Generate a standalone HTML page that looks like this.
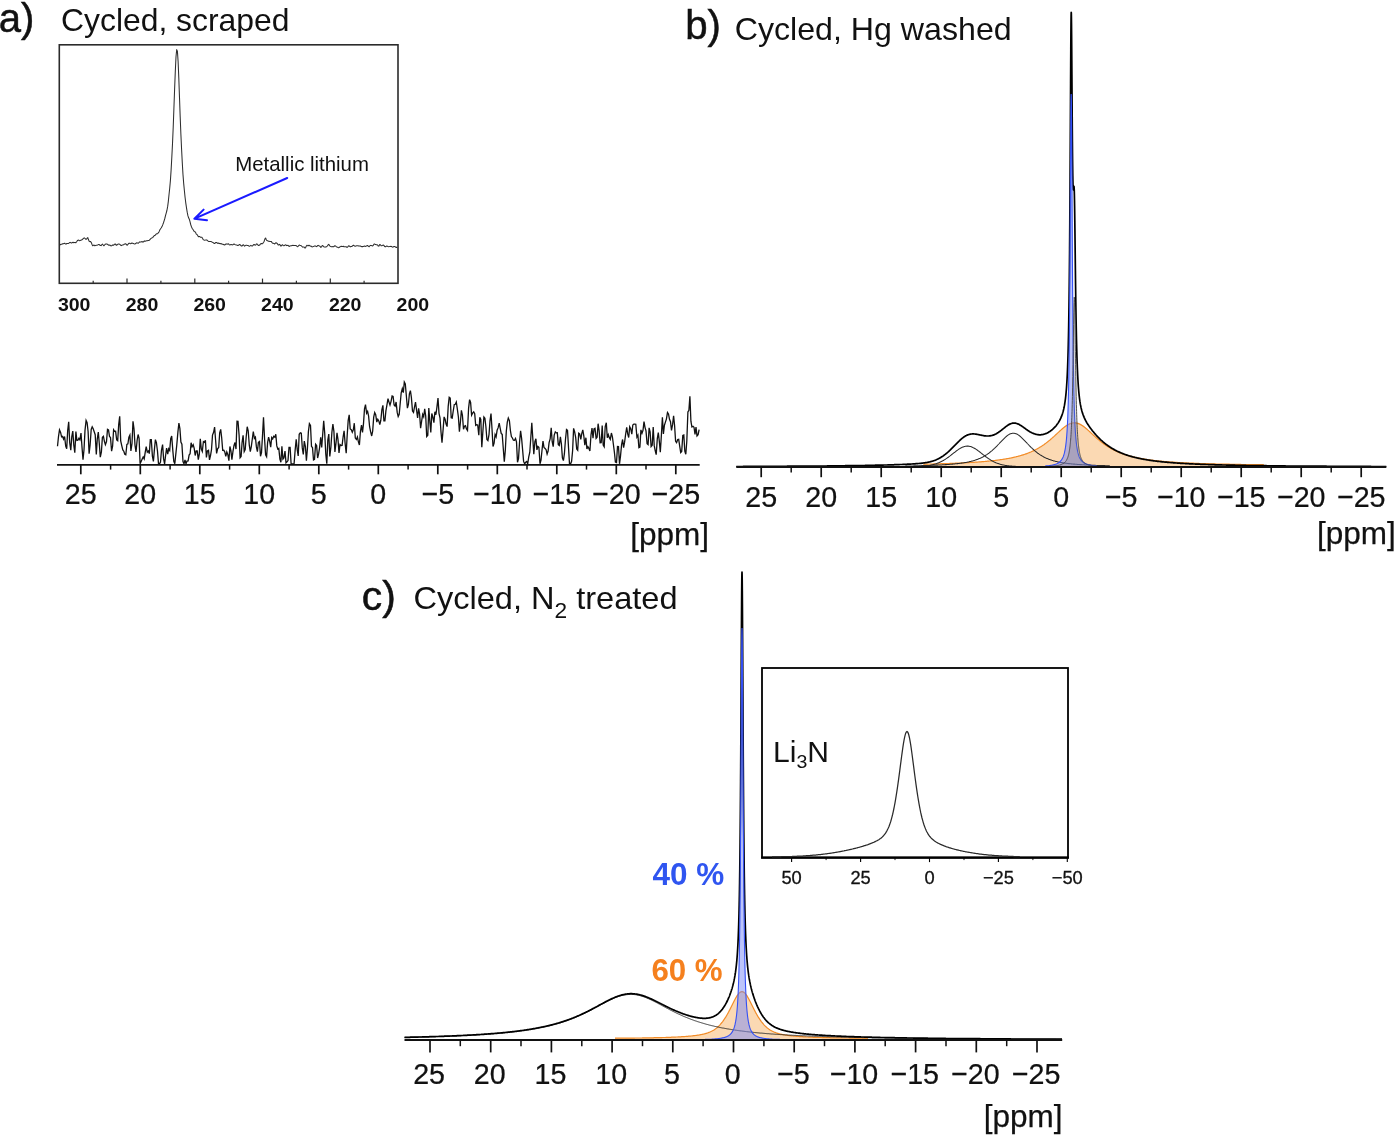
<!DOCTYPE html>
<html lang="en"><head><meta charset="utf-8"><title>NMR spectra</title>
<style>html,body{margin:0;padding:0;background:#fff;}svg{display:block;}</style>
</head><body>
<svg width="1396" height="1137" viewBox="0 0 1396 1137">
<rect x="59.3" y="44.8" width="338.7" height="238.5" fill="none" stroke="#2b2b2b" stroke-width="1.6"/>
<line x1="93.2" y1="283.3" x2="93.2" y2="280.8" stroke="#2b2b2b" stroke-width="1.2"/>
<line x1="127.0" y1="283.3" x2="127.0" y2="278.6" stroke="#2b2b2b" stroke-width="1.2"/>
<line x1="160.9" y1="283.3" x2="160.9" y2="280.8" stroke="#2b2b2b" stroke-width="1.2"/>
<line x1="194.8" y1="283.3" x2="194.8" y2="278.6" stroke="#2b2b2b" stroke-width="1.2"/>
<line x1="228.6" y1="283.3" x2="228.6" y2="280.8" stroke="#2b2b2b" stroke-width="1.2"/>
<line x1="262.5" y1="283.3" x2="262.5" y2="278.6" stroke="#2b2b2b" stroke-width="1.2"/>
<line x1="296.4" y1="283.3" x2="296.4" y2="280.8" stroke="#2b2b2b" stroke-width="1.2"/>
<line x1="330.3" y1="283.3" x2="330.3" y2="278.6" stroke="#2b2b2b" stroke-width="1.2"/>
<line x1="364.1" y1="283.3" x2="364.1" y2="280.8" stroke="#2b2b2b" stroke-width="1.2"/>
<text x="57.9" y="310.7" font-family="'Liberation Sans', sans-serif" font-size="19" font-weight="bold" fill="#111" textLength="32.6" lengthAdjust="spacingAndGlyphs">300</text>
<text x="125.7" y="310.7" font-family="'Liberation Sans', sans-serif" font-size="19" font-weight="bold" fill="#111" textLength="32.6" lengthAdjust="spacingAndGlyphs">280</text>
<text x="193.4" y="310.7" font-family="'Liberation Sans', sans-serif" font-size="19" font-weight="bold" fill="#111" textLength="32.6" lengthAdjust="spacingAndGlyphs">260</text>
<text x="261.1" y="310.7" font-family="'Liberation Sans', sans-serif" font-size="19" font-weight="bold" fill="#111" textLength="32.6" lengthAdjust="spacingAndGlyphs">240</text>
<text x="328.9" y="310.7" font-family="'Liberation Sans', sans-serif" font-size="19" font-weight="bold" fill="#111" textLength="32.6" lengthAdjust="spacingAndGlyphs">220</text>
<text x="396.6" y="310.7" font-family="'Liberation Sans', sans-serif" font-size="19" font-weight="bold" fill="#111" textLength="32.6" lengthAdjust="spacingAndGlyphs">200</text>
<path d="M59.8,245.1 60.5,244.5 61.2,244.2 61.9,244.2 62.6,243.8 63.3,243.8 64,243.5 64.7,243.2 65.4,244 66.1,244.1 66.8,243.4 67.5,243.4 68.2,243.5 68.9,243.2 69.6,242.6 70.3,242.4 71,242.9 71.7,243 72.4,242.4 73.1,242.2 73.8,242.8 74.5,242.6 75.2,242.4 75.9,242.7 76.6,241.8 77.3,240.7 78,240.2 78.7,240.1 79.4,240.7 80.1,240.5 80.8,240.2 81.5,240.1 82.2,239.5 82.9,239 83.6,238.3 84.3,237.9 85,238.4 85.7,239.3 86.4,239.2 87.1,238.2 87.8,237.6 88.5,239.8 89.2,241.2 89.9,241.6 90.6,241.6 91.3,242.5 92,244.4 92.7,245.7 93.4,245.2 94.1,245.1 94.8,245.8 95.5,245.6 96.2,245.2 96.9,245.2 97.6,245 98.3,244.6 99,244.5 99.7,245 100.4,245.5 101.1,245.6 101.8,244.7 102.5,244 103.2,245 103.9,245.8 104.6,245 105.3,244.2 106,243.9 106.7,244.1 107.4,244.3 108.1,244.7 108.8,245.3 109.5,245.1 110.2,245.2 110.9,245.9 111.6,245.8 112.3,245.1 113,245.1 113.7,245.1 114.4,244.4 115.1,243.9 115.8,244.8 116.5,245.3 117.2,244.8 117.9,244.2 118.6,244 119.3,244.1 120,244.5 120.7,245.3 121.4,245.6 122.1,245.1 122.8,244.9 123.5,244.7 124.2,244.3 124.9,243.9 125.6,243.7 126.3,244.4 127,245.3 127.7,244.8 128.4,243.8 129.1,243.3 129.8,243.3 130.5,243.7 131.2,243.5 131.9,243 132.6,243.2 133.3,243.5 134,243.8 134.7,244 135.4,243.8 136.1,243.1 136.8,242.7 137.5,243.1 138.2,243.3 138.9,242.7 139.6,241.9 140.3,242 141,242 141.7,241.6 142.4,241.8 143.1,242.2 143.8,241.5 144.5,240.9 145.2,241.2 145.9,241 146.6,240.8 147.3,240.8 148,240.6 148.7,240.4 149.4,240.2 150.1,239.4 150.8,238.6 151.5,238.1 152.2,237.8 152.9,237.4 153.6,236.3 154.3,235.6 155,235.5 155.7,234.5 156.4,233.8 157.1,233.9 157.8,233.4 158.5,232.7 159.2,231.4 159.9,229.8 160.6,228.7 161.3,227.8 162,226.6 162.7,224.9 163.4,223 164.1,220.8 164.8,218.5 165.5,215.7 166.2,213.2 166.9,210.5 167.6,206.9 168.3,201.6 169,194.8 169.7,188.3 170.4,180.6 171.1,170.1 171.8,157.5 172.5,143.8 173.2,127.6 173.9,108.4 174.6,89.3 175.3,71.4 176,56.8 176.7,49.6 177.4,51.1 178.1,61.3 178.8,77.9 179.5,97.4 180.2,116.9 180.9,134.5 181.6,149.5 182.3,163 183,174.7 183.7,183.6 184.4,190.8 185.1,197.5 185.8,203.1 186.5,207.9 187.2,212.2 187.9,215.7 188.6,217.8 189.3,219.2 190,221.7 190.7,224.5 191.4,226.6 192.1,228.3 192.8,229.3 193.5,230.3 194.2,231.5 194.9,231.7 195.6,232.5 196.3,234.1 197,234.5 197.7,235.5 198.4,236.7 199.1,236.5 199.8,236.6 200.5,237.3 201.2,237.3 201.9,237.3 202.6,238.5 203.3,239.6 204,240 204.7,240.2 205.4,240.1 206.1,239.9 206.8,240 207.5,240.6 208.2,241.2 208.9,241.4 209.6,241.5 210.3,241.4 211,241.5 211.7,241.9 212.4,242.3 213.1,242.6 213.8,243.2 214.5,243.5 215.2,243 215.9,242.5 216.6,242.5 217.3,243.1 218,243.4 218.7,243.1 219.4,243.4 220.1,243.8 220.8,243.6 221.5,243.7 222.2,244.2 222.9,244.2 223.6,244.4 224.3,245 225,244.8 225.7,244.1 226.4,243.9 227.1,244.3 227.8,243.9 228.5,243.7 229.2,244.6 229.9,245 230.6,244.6 231.3,244.5 232,244.9 232.7,244.7 233.4,244.2 234.1,244 234.8,244.4 235.5,244.7 236.2,244.9 236.9,245.1 237.6,245.4 238.3,245.4 239,244.8 239.7,244.5 240.4,245 241.1,245.8 241.8,246.1 242.5,245.5 243.2,244.7 243.9,245.4 244.6,246.1 245.3,245.6 246,245.2 246.7,245.3 247.4,245.4 248.1,245.6 248.8,245.9 249.5,246.3 250.2,245.9 250.9,245.4 251.6,245.9 252.3,246 253,245.4 253.7,244.6 254.4,244.5 255.1,245.3 255.8,244.9 256.5,243.9 257.2,244 257.9,245 258.6,245.5 259.3,245.3 260,244.8 260.7,243.8 261.4,243.5 262.1,243.9 262.8,243.4 263.5,242.5 264.2,241.2 264.9,238.8 265.6,238 266.3,239.7 267,240.6 267.7,240.8 268.4,241.2 269.1,241.2 269.8,241.4 270.5,241.4 271.2,241.4 271.9,242.4 272.6,243.3 273.3,243.2 274,243.6 274.7,243.9 275.4,243.1 276.1,242.8 276.8,243.2 277.5,243.9 278.2,244.9 278.9,244.9 279.6,244.3 280.3,245.1 281,246.1 281.7,245.3 282.4,244.7 283.1,245.4 283.8,245.8 284.5,245.5 285.2,244.8 285.9,244.9 286.6,245.6 287.3,245.4 288,245.2 288.7,246.1 289.4,246.4 290.1,245.9 290.8,245.8 291.5,245.8 292.2,245.4 292.9,245.3 293.6,245.5 294.3,245.5 295,245.6 295.7,245.5 296.4,245.7 297.1,246.5 297.8,246.7 298.5,245.8 299.2,245.1 299.9,245.3 300.6,245.4 301.3,245.8 302,246.5 302.7,247.2 303.4,247.1 304.1,247 304.8,247.9 305.5,247.9 306.2,246.2 306.9,245.2 307.6,245.8 308.3,245.8 309,245.3 309.7,245.8 310.4,246.1 311.1,246.1 311.8,246.8 312.5,246.9 313.2,246.5 313.9,246.3 314.6,246 315.3,245.9 316,246.4 316.7,246.6 317.4,245.8 318.1,245.4 318.8,245.8 319.5,245.9 320.2,246.6 320.9,247.4 321.6,246.6 322.3,245.6 323,245.8 323.7,246.7 324.4,246.9 325.1,247 325.8,247.1 326.5,246.7 327.2,246.1 327.9,245.2 328.6,244.4 329.3,245 330,246.1 330.7,246.5 331.4,246.7 332.1,246.6 332.8,246.8 333.5,246.8 334.2,246.3 334.9,245.8 335.6,246 336.3,246.7 337,247 337.7,247.2 338.4,247.7 339.1,247.5 339.8,247 340.5,246.6 341.2,246.2 341.9,246.5 342.6,246.4 343.3,246.2 344,246.7 344.7,246.8 345.4,246.7 346.1,246.8 346.8,247.3 347.5,247.3 348.2,246.2 348.9,245.7 349.6,246.4 350.3,246.9 351,246.5 351.7,246.4 352.4,246.1 353.1,245.3 353.8,245.3 354.5,245.9 355.2,246.2 355.9,246 356.6,245.8 357.3,245.8 358,245.7 358.7,246 359.4,246.1 360.1,245.9 360.8,246.2 361.5,246.6 362.2,246.6 362.9,246.6 363.6,246.4 364.3,246 365,246.2 365.7,246.4 366.4,246 367.1,245.6 367.8,245.6 368.5,246.5 369.2,246.7 369.9,245.8 370.6,245.4 371.3,245.6 372,245.8 372.7,246 373.4,245.2 374.1,244 374.8,244.1 375.5,244.6 376.2,244.8 376.9,244.8 377.6,245 378.3,246.1 379,245.9 379.7,244.6 380.4,244.8 381.1,245.8 381.8,245.8 382.5,245.4 383.2,245 383.9,245.4 384.6,246.5 385.3,246.9 386,246.4 386.7,246 387.4,246.2 388.1,246.5 388.8,246.7 389.5,246.6 390.2,246.4 390.9,246.3 391.6,246.4 392.3,247.1 393,247.2 393.7,246.6 394.4,246.5 395.1,246.7 395.8,247.3 396.5,247.5 397.2,247" fill="none" stroke="#2e2e2e" stroke-width="1.05" stroke-linejoin="round"/>
<text x="235.3" y="171" font-family="'Liberation Sans', sans-serif" font-size="19.8" fill="#111" textLength="133.6" lengthAdjust="spacingAndGlyphs">Metallic lithium</text>
<path d="M287.2,178 L194.6,218.6 M203.6,209.6 L194.4,218.7 L207,220.2" fill="none" stroke="#1a1aff" stroke-width="2" stroke-linecap="round" stroke-linejoin="round"/>
<text transform="translate(-1.2,32) scale(1.0,1)" font-family="'Liberation Sans', sans-serif" font-size="40" fill="#111" stroke="#111" stroke-width="0.5">a)</text>
<text x="61" y="31.2" font-family="'Liberation Sans', sans-serif" font-size="31.5" fill="#111" textLength="228.5" lengthAdjust="spacingAndGlyphs">Cycled, scraped</text>
<text transform="translate(685.2,39.4) scale(0.98,1)" font-family="'Liberation Sans', sans-serif" font-size="41" fill="#111" stroke="#111" stroke-width="0.5">b)</text>
<text x="734.7" y="40.0" font-family="'Liberation Sans', sans-serif" font-size="31.5" fill="#111" textLength="277" lengthAdjust="spacingAndGlyphs">Cycled, Hg washed</text>
<text transform="translate(361.8,609.8) scale(1.02,1)" font-family="'Liberation Sans', sans-serif" font-size="40" fill="#111" stroke="#111" stroke-width="0.5">c)</text>
<text x="413.5" y="609.4" font-family="'Liberation Sans', sans-serif" font-size="31.5" fill="#111" textLength="264" lengthAdjust="spacingAndGlyphs">Cycled, N<tspan font-size="22" dy="9">2</tspan><tspan dy="-9"> treated</tspan></text>
<line x1="57" y1="464.8" x2="699.7" y2="464.8" stroke="#111" stroke-width="1.7"/>
<line x1="675.8" y1="464.8" x2="675.8" y2="474.3" stroke="#111" stroke-width="1.7"/>
<text transform="translate(675.8,504.3) scale(0.955,1)" font-family="'Liberation Sans', sans-serif" font-size="30" fill="#111" stroke="#111" stroke-width="0.25" text-anchor="middle">−25</text>
<line x1="646.0" y1="464.8" x2="646.0" y2="469.6" stroke="#111" stroke-width="1.5"/>
<line x1="616.3" y1="464.8" x2="616.3" y2="474.3" stroke="#111" stroke-width="1.7"/>
<text transform="translate(616.3,504.3) scale(0.955,1)" font-family="'Liberation Sans', sans-serif" font-size="30" fill="#111" stroke="#111" stroke-width="0.25" text-anchor="middle">−20</text>
<line x1="586.5" y1="464.8" x2="586.5" y2="469.6" stroke="#111" stroke-width="1.5"/>
<line x1="556.8" y1="464.8" x2="556.8" y2="474.3" stroke="#111" stroke-width="1.7"/>
<text transform="translate(556.8,504.3) scale(0.955,1)" font-family="'Liberation Sans', sans-serif" font-size="30" fill="#111" stroke="#111" stroke-width="0.25" text-anchor="middle">−15</text>
<line x1="527.0" y1="464.8" x2="527.0" y2="469.6" stroke="#111" stroke-width="1.5"/>
<line x1="497.3" y1="464.8" x2="497.3" y2="474.3" stroke="#111" stroke-width="1.7"/>
<text transform="translate(497.3,504.3) scale(0.955,1)" font-family="'Liberation Sans', sans-serif" font-size="30" fill="#111" stroke="#111" stroke-width="0.25" text-anchor="middle">−10</text>
<line x1="467.6" y1="464.8" x2="467.6" y2="469.6" stroke="#111" stroke-width="1.5"/>
<line x1="437.8" y1="464.8" x2="437.8" y2="474.3" stroke="#111" stroke-width="1.7"/>
<text transform="translate(437.8,504.3) scale(0.955,1)" font-family="'Liberation Sans', sans-serif" font-size="30" fill="#111" stroke="#111" stroke-width="0.25" text-anchor="middle">−5</text>
<line x1="408.1" y1="464.8" x2="408.1" y2="469.6" stroke="#111" stroke-width="1.5"/>
<line x1="378.3" y1="464.8" x2="378.3" y2="474.3" stroke="#111" stroke-width="1.7"/>
<text transform="translate(378.3,504.3) scale(0.955,1)" font-family="'Liberation Sans', sans-serif" font-size="30" fill="#111" stroke="#111" stroke-width="0.25" text-anchor="middle">0</text>
<line x1="348.6" y1="464.8" x2="348.6" y2="469.6" stroke="#111" stroke-width="1.5"/>
<line x1="318.8" y1="464.8" x2="318.8" y2="474.3" stroke="#111" stroke-width="1.7"/>
<text transform="translate(318.8,504.3) scale(0.955,1)" font-family="'Liberation Sans', sans-serif" font-size="30" fill="#111" stroke="#111" stroke-width="0.25" text-anchor="middle">5</text>
<line x1="289.1" y1="464.8" x2="289.1" y2="469.6" stroke="#111" stroke-width="1.5"/>
<line x1="259.3" y1="464.8" x2="259.3" y2="474.3" stroke="#111" stroke-width="1.7"/>
<text transform="translate(259.3,504.3) scale(0.955,1)" font-family="'Liberation Sans', sans-serif" font-size="30" fill="#111" stroke="#111" stroke-width="0.25" text-anchor="middle">10</text>
<line x1="229.6" y1="464.8" x2="229.6" y2="469.6" stroke="#111" stroke-width="1.5"/>
<line x1="199.8" y1="464.8" x2="199.8" y2="474.3" stroke="#111" stroke-width="1.7"/>
<text transform="translate(199.8,504.3) scale(0.955,1)" font-family="'Liberation Sans', sans-serif" font-size="30" fill="#111" stroke="#111" stroke-width="0.25" text-anchor="middle">15</text>
<line x1="170.1" y1="464.8" x2="170.1" y2="469.6" stroke="#111" stroke-width="1.5"/>
<line x1="140.3" y1="464.8" x2="140.3" y2="474.3" stroke="#111" stroke-width="1.7"/>
<text transform="translate(140.3,504.3) scale(0.955,1)" font-family="'Liberation Sans', sans-serif" font-size="30" fill="#111" stroke="#111" stroke-width="0.25" text-anchor="middle">20</text>
<line x1="110.6" y1="464.8" x2="110.6" y2="469.6" stroke="#111" stroke-width="1.5"/>
<line x1="80.8" y1="464.8" x2="80.8" y2="474.3" stroke="#111" stroke-width="1.7"/>
<text transform="translate(80.8,504.3) scale(0.955,1)" font-family="'Liberation Sans', sans-serif" font-size="30" fill="#111" stroke="#111" stroke-width="0.25" text-anchor="middle">25</text>
<text x="709.1" y="544.5999999999999" font-family="'Liberation Sans', sans-serif" font-size="31.5" fill="#111" stroke="#111" stroke-width="0.25" text-anchor="end">[ppm]</text>
<path d="M57.5,446.3 58.5,436.5 59.5,429.9 60.6,432.4 61.6,436.8 62.6,436.4 63.6,439.1 64.6,436.6 65.7,446 66.7,448.7 67.7,430.2 68.7,421.8 69.7,442.6 70.8,450.1 71.8,436.6 72.8,431 73.8,445.3 74.8,452.7 75.9,431.6 76.9,440.5 77.9,440.2 78.9,438.3 79.9,439.8 81,433 82,447.1 83,459.8 84,449.8 85,430.4 86.1,420.4 87.1,422.6 88.1,431.5 89.1,453.6 90.1,445 91.2,429.4 92.2,426.8 93.2,428.7 94.2,431.7 95.2,434.7 96.3,454.5 97.3,438.8 98.3,432.1 99.3,443.8 100.3,457.2 101.4,451.8 102.4,437.2 103.4,436.2 104.4,441.3 105.4,444.6 106.5,441.6 107.5,429.4 108.5,430 109.5,436.4 110.5,437.5 111.6,451.2 112.6,446.2 113.6,429.8 114.6,431.4 115.6,431.3 116.7,439.8 117.7,440.6 118.7,424.5 119.7,416.3 120.7,440.8 121.8,445.8 122.8,449.9 123.8,451.2 124.8,454.3 125.8,454.8 126.9,444.3 127.9,443.8 128.9,437.2 129.9,435.1 130.9,450.9 132,443.5 133,421.4 134,428.8 135,445.1 136,452 137.1,440.5 138.1,434.5 139.1,438.4 140.1,463.8 141.1,461.6 142.2,459.1 143.2,456.9 144.2,458.9 145.2,452.3 146.2,446.7 147.3,452.1 148.3,451 149.3,453.6 150.3,439.7 151.3,439.6 152.4,456.1 153.4,461.4 154.4,449.6 155.4,439.6 156.4,442.7 157.5,451.2 158.5,463.8 159.5,463.8 160.5,462.1 161.5,450.2 162.6,444.6 163.6,458.9 164.6,463.8 165.6,455.5 166.6,448 167.7,454.1 168.7,448.8 169.7,450.4 170.7,438.7 171.7,436.1 172.8,450.4 173.8,461.4 174.8,463.8 175.8,454.1 176.8,444.7 177.9,432.1 178.9,423.1 179.9,428.6 180.9,442.1 181.9,444.2 183,461.6 184,463.8 185,459.9 186,463.8 187,461 188.1,460.9 189.1,455.1 190.1,453.7 191.1,442.7 192.1,446.8 193.2,444.8 194.2,448.3 195.2,455.5 196.2,450.8 197.2,450.8 198.3,459.6 199.3,454.2 200.3,438.9 201.3,449 202.3,451.4 203.4,441.6 204.4,442.3 205.4,440.2 206.4,457.5 207.4,450.8 208.5,450.2 209.5,459.9 210.5,455.5 211.5,449.7 212.5,435.1 213.6,432.3 214.6,427 215.6,440.2 216.6,453.4 217.6,448.8 218.7,447.5 219.7,432.8 220.7,429.4 221.7,438 222.7,450.4 223.8,450.3 224.8,452 225.8,456.3 226.8,451.9 227.8,454.5 228.9,460.7 229.9,446.5 230.9,450.6 231.9,459.7 232.9,451.9 234,445.5 235,442.5 236,449.1 237,421.2 238,421.4 239.1,435.3 240.1,457.7 241.1,456.5 242.1,442.3 243.1,435.4 244.2,451.6 245.2,449.6 246.2,436.8 247.2,426.7 248.2,430.8 249.3,445.2 250.3,451.7 251.3,446.6 252.3,439 253.3,431.5 254.4,438.4 255.4,437.2 256.4,446.9 257.4,451.6 258.4,442.3 259.5,441.5 260.5,456.3 261.5,452.6 262.5,435.7 263.5,417.2 264.6,439.5 265.6,454.9 266.6,456.7 267.6,442.6 268.6,437.1 269.7,441.3 270.7,447.1 271.7,437.5 272.7,438.9 273.7,436.3 274.8,437.1 275.8,434.2 276.8,445.9 277.8,449 278.8,448.4 279.9,459 280.9,462.3 281.9,446.4 282.9,459.1 283.9,457.9 285,451 286,462.9 287,461.9 288,460.6 289,447.3 290.1,447.3 291.1,463.8 292.1,463.8 293.1,463.8 294.1,463.5 295.2,449.5 296.2,439.3 297.2,449.4 298.2,455.9 299.2,434.3 300.3,432.9 301.3,433.3 302.3,447.9 303.3,454.4 304.3,441.1 305.4,446.5 306.4,460.8 307.4,448.8 308.4,431.6 309.4,423.6 310.5,425.4 311.5,446.5 312.5,447.6 313.5,460 314.5,459.4 315.6,444.2 316.6,445.5 317.6,458 318.6,453.9 319.6,447.6 320.7,437.4 321.7,447.5 322.7,434.2 323.7,420.9 324.7,433 325.8,454.2 326.8,463.8 327.8,440 328.8,434.1 329.8,456.5 330.9,447 331.9,432.2 332.9,424 333.9,431.3 334.9,452 336,443 337,432.9 338,439.6 339,453 340,444.6 341.1,445.5 342.1,445.4 343.1,437 344.1,430.9 345.1,443.3 346.2,453.3 347.2,435 348.2,420.4 349.2,414.9 350.2,429 351.3,429.7 352.3,432.2 353.3,429.8 354.3,423.2 355.3,438.1 356.4,439.4 357.4,436.9 358.4,441.8 359.4,445 360.4,431.8 361.5,425.1 362.5,432.4 363.5,423.6 364.5,408.8 365.5,404.6 366.6,413.2 367.6,411.4 368.6,416.1 369.6,426.7 370.6,431.7 371.7,436 372.7,430.8 373.7,417.1 374.7,412.6 375.7,414.7 376.8,422.1 377.8,419.3 378.8,420.9 379.8,424.7 380.8,420.5 381.9,409.6 382.9,405.4 383.9,420.9 384.9,420.8 385.9,410.9 387,404.7 388,398.6 389,402.1 390,405 391,401.6 392.1,396 393.1,396.5 394.1,405 395.1,406.1 396.1,402 397.2,412.4 398.2,416.5 399.2,414.4 400.2,403.5 401.2,392.8 402.3,388.7 403.3,392.7 404.3,382 405.3,384 406.3,395.2 407.4,408.2 408.4,404.5 409.4,393.8 410.4,390.7 411.4,397.6 412.5,411.1 413.5,412.4 414.5,407 415.5,402.1 416.5,409.6 417.6,418 418.6,408.4 419.6,414.2 420.6,428.2 421.6,421.3 422.7,414.4 423.7,416.8 424.7,408.9 425.7,416 426.7,436.6 427.8,435.3 428.8,408 429.8,421.1 430.8,432.5 431.8,413.5 432.9,417.4 433.9,422.6 434.9,411.8 435.9,414.7 436.9,407.3 438,398 439,413.3 440,417.8 441,432 442,442.6 443.1,429.6 444.1,416.9 445.1,419.3 446.1,424.1 447.1,426.6 448.2,406.4 449.2,397.2 450.2,398 451.2,417.7 452.2,418.1 453.3,410.5 454.3,404.5 455.3,404.3 456.3,402 457.3,408.8 458.4,417 459.4,431.8 460.4,422.2 461.4,410.4 462.4,415.2 463.5,429.3 464.5,426.3 465.5,425.7 466.5,428.9 467.5,430.5 468.6,408.1 469.6,399.7 470.6,402.4 471.6,415.1 472.6,413.2 473.7,411.9 474.7,413.8 475.7,425.3 476.7,424.6 477.7,424.9 478.8,435.1 479.8,417.3 480.8,419.4 481.8,447.3 482.8,432.6 483.9,417 484.9,418.2 485.9,426.7 486.9,439.6 487.9,440.7 489,434.6 490,420.8 491,413.5 492,428.7 493,446.5 494.1,443 495.1,434.5 496.1,436.9 497.1,430.3 498.1,427.9 499.2,423.1 500.2,428.4 501.2,433.5 502.2,434.4 503.2,447.5 504.3,461.6 505.3,450.5 506.3,431.2 507.3,422.2 508.3,418.1 509.4,420.6 510.4,430.5 511.4,436.5 512.4,438 513.4,440.2 514.5,440.3 515.5,438.5 516.5,441.9 517.5,462.3 518.5,458.6 519.6,441.5 520.6,430.9 521.6,438.4 522.6,449.8 523.6,461.4 524.7,463.8 525.7,462.2 526.7,461.5 527.7,463.8 528.7,457.1 529.8,452.2 530.8,437.7 531.8,422.8 532.8,438.3 533.8,454.1 534.9,441.7 535.9,438.7 536.9,449.9 537.9,446.4 538.9,447.3 540,463.8 541,460.1 542,450.2 543,441.1 544,447.5 545.1,448.5 546.1,449.7 547.1,454.1 548.1,451 549.1,442.6 550.2,438.6 551.2,427.8 552.2,441.7 553.2,446.7 554.2,435.1 555.3,431.9 556.3,432.9 557.3,432.7 558.3,444.6 559.3,445.4 560.4,436.8 561.4,444 562.4,457.8 563.4,460.6 564.4,453.7 565.5,439.2 566.5,429.5 567.5,430.4 568.5,447.2 569.5,463.8 570.6,463.8 571.6,461.3 572.6,450.8 573.6,428.4 574.6,431.7 575.7,437.7 576.7,449 577.7,450.2 578.7,433.2 579.7,433.8 580.8,439.3 581.8,433.5 582.8,429.9 583.8,435.8 584.8,445.1 585.9,437.7 586.9,448.9 587.9,446.6 588.9,448.4 589.9,450.9 591,434.8 592,428.1 593,438.1 594,428.9 595,428.3 596.1,438.4 597.1,437.2 598.1,423.7 599.1,430.4 600.1,442.8 601.2,442.6 602.2,425.6 603.2,445 604.2,446.8 605.2,426.5 606.3,422.7 607.3,437.8 608.3,434.6 609.3,437.7 610.3,439.4 611.4,433 612.4,436.8 613.4,444.5 614.4,452.3 615.4,462.1 616.5,462.5 617.5,446.4 618.5,446.5 619.5,463.8 620.5,456.1 621.6,444.6 622.6,439.5 623.6,447.6 624.6,442.2 625.6,434.5 626.7,427.4 627.7,433.9 628.7,437.5 629.7,426.8 630.7,428.7 631.8,434.1 632.8,425 633.8,424.1 634.8,424.2 635.8,424.3 636.9,437 637.9,435.2 638.9,447.7 639.9,447.2 640.9,429.9 642,433.2 643,430.3 644,421.7 645,427.3 646,430.9 647.1,443.6 648.1,444.6 649.1,427.8 650.1,431.9 651.1,446.6 652.2,445.3 653.2,427 654.2,445.4 655.2,450.6 656.2,454.7 657.3,438.7 658.3,432.6 659.3,441.1 660.3,452.3 661.3,436.6 662.4,417.4 663.4,434 664.4,425.4 665.4,422.1 666.4,419.1 667.5,412.5 668.5,413.9 669.5,419.3 670.5,421.7 671.5,430.5 672.6,424.4 673.6,415.9 674.6,425.7 675.6,441.3 676.6,442.6 677.7,439.6 678.7,439.3 679.7,446.2 680.7,452.5 681.7,451.4 682.8,435.4 683.8,435 684.8,451.1 685.8,454.3 686.8,441.2 687.9,412 688.9,410.4 689.9,396.2 690.9,421.2 691.9,427 693,426.3 694,427.2 695,434.4 696,427.1 697,435.9 698.1,434.6 699.1,429.6" fill="none" stroke="#111" stroke-width="1.3" stroke-linejoin="miter"/>
<path d="M923.3,464.2 923.8,464.2 924.3,464.1 924.8,464.1 925.3,464.1 925.8,464.1 926.3,464.1 926.8,464.1 927.3,464.1 927.8,464.1 928.3,464.1 928.8,464 929.3,464 929.8,464 930.3,464 930.8,464 931.3,464 931.8,464 932.3,464 932.8,464 933.3,463.9 933.8,463.9 934.3,463.9 934.8,463.9 935.3,463.9 935.8,463.9 936.3,463.9 936.8,463.8 937.3,463.8 937.8,463.8 938.3,463.8 938.8,463.8 939.3,463.8 939.8,463.8 940.3,463.8 940.8,463.7 941.3,463.7 941.8,463.7 942.3,463.7 942.8,463.7 943.3,463.7 943.8,463.6 944.3,463.6 944.8,463.6 945.3,463.6 945.8,463.6 946.3,463.6 946.8,463.5 947.3,463.5 947.8,463.5 948.3,463.5 948.8,463.5 949.3,463.5 949.8,463.4 950.3,463.4 950.8,463.4 951.3,463.4 951.8,463.4 952.3,463.4 952.8,463.3 953.3,463.3 953.8,463.3 954.3,463.3 954.8,463.3 955.3,463.2 955.8,463.2 956.3,463.2 956.8,463.2 957.3,463.2 957.8,463.1 958.3,463.1 958.8,463.1 959.3,463.1 959.8,463 960.3,463 960.8,463 961.3,463 961.8,462.9 962.3,462.9 962.8,462.9 963.3,462.9 963.8,462.9 964.3,462.8 964.8,462.8 965.3,462.8 965.8,462.8 966.3,462.7 966.8,462.7 967.3,462.7 967.8,462.6 968.3,462.6 968.8,462.6 969.3,462.6 969.8,462.5 970.3,462.5 970.8,462.5 971.3,462.4 971.8,462.4 972.3,462.4 972.8,462.4 973.3,462.3 973.8,462.3 974.3,462.3 974.8,462.2 975.3,462.2 975.8,462.2 976.3,462.1 976.8,462.1 977.3,462.1 977.8,462 978.3,462 978.8,461.9 979.3,461.9 979.8,461.9 980.3,461.8 980.8,461.8 981.3,461.8 981.8,461.7 982.3,461.7 982.8,461.6 983.3,461.6 983.8,461.6 984.3,461.5 984.8,461.5 985.3,461.4 985.8,461.4 986.3,461.3 986.8,461.3 987.3,461.2 987.8,461.2 988.3,461.1 988.8,461.1 989.3,461 989.8,461 990.3,460.9 990.8,460.9 991.3,460.8 991.8,460.8 992.3,460.7 992.8,460.7 993.3,460.6 993.8,460.6 994.3,460.5 994.8,460.5 995.3,460.4 995.8,460.3 996.3,460.3 996.8,460.2 997.3,460.1 997.8,460.1 998.3,460 998.8,459.9 999.3,459.9 999.8,459.8 1000.3,459.7 1000.8,459.7 1001.3,459.6 1001.8,459.5 1002.3,459.5 1002.8,459.4 1003.3,459.3 1003.8,459.2 1004.3,459.1 1004.8,459.1 1005.3,459 1005.8,458.9 1006.3,458.8 1006.8,458.7 1007.3,458.6 1007.8,458.5 1008.3,458.5 1008.8,458.4 1009.3,458.3 1009.8,458.2 1010.3,458.1 1010.8,458 1011.3,457.9 1011.8,457.8 1012.3,457.7 1012.8,457.6 1013.3,457.4 1013.8,457.3 1014.3,457.2 1014.8,457.1 1015.3,457 1015.8,456.9 1016.3,456.7 1016.8,456.6 1017.3,456.5 1017.8,456.4 1018.3,456.2 1018.8,456.1 1019.3,456 1019.8,455.8 1020.3,455.7 1020.8,455.5 1021.3,455.4 1021.8,455.2 1022.3,455.1 1022.8,454.9 1023.3,454.8 1023.8,454.6 1024.3,454.5 1024.8,454.3 1025.3,454.1 1025.8,453.9 1026.3,453.8 1026.8,453.6 1027.3,453.4 1027.8,453.2 1028.3,453 1028.8,452.8 1029.3,452.6 1029.8,452.4 1030.3,452.2 1030.8,452 1031.3,451.8 1031.8,451.5 1032.3,451.3 1032.8,451.1 1033.3,450.9 1033.8,450.6 1034.3,450.4 1034.8,450.1 1035.3,449.9 1035.8,449.6 1036.3,449.3 1036.8,449.1 1037.3,448.8 1037.8,448.5 1038.3,448.2 1038.8,447.9 1039.3,447.6 1039.8,447.3 1040.3,447 1040.8,446.7 1041.3,446.4 1041.8,446.1 1042.3,445.8 1042.8,445.4 1043.3,445.1 1043.8,444.7 1044.3,444.4 1044.8,444 1045.3,443.6 1045.8,443.3 1046.3,442.9 1046.8,442.5 1047.3,442.1 1047.8,441.7 1048.3,441.3 1048.8,440.9 1049.3,440.5 1049.8,440.1 1050.3,439.7 1050.8,439.2 1051.3,438.8 1051.8,438.4 1052.3,437.9 1052.8,437.5 1053.3,437 1053.8,436.6 1054.3,436.1 1054.8,435.7 1055.3,435.2 1055.8,434.7 1056.3,434.3 1056.8,433.8 1057.3,433.3 1057.8,432.9 1058,432.7 1058.1,432.6 1058.2,432.5 1058.3,432.4 1058.4,432.3 1058.5,432.2 1058.6,432.1 1058.7,432 1058.8,432 1058.9,431.9 1059,431.8 1059.1,431.7 1059.2,431.6 1059.3,431.5 1059.4,431.4 1059.5,431.3 1059.6,431.2 1059.7,431.1 1059.8,431 1059.9,430.9 1060,430.9 1060.1,430.8 1060.2,430.7 1060.3,430.6 1060.4,430.5 1060.5,430.4 1060.6,430.3 1060.7,430.2 1060.8,430.1 1060.9,430 1061,430 1061.1,429.9 1061.2,429.8 1061.3,429.7 1061.4,429.6 1061.5,429.5 1061.6,429.4 1061.7,429.3 1061.8,429.2 1061.9,429.2 1062,429.1 1062.1,429 1062.2,428.9 1062.3,428.8 1062.4,428.7 1062.5,428.6 1062.6,428.6 1062.7,428.5 1062.8,428.4 1062.9,428.3 1063,428.2 1063.1,428.1 1063.2,428.1 1063.3,428 1063.4,427.9 1063.5,427.8 1063.6,427.7 1063.7,427.7 1063.8,427.6 1063.9,427.5 1064,427.4 1064.1,427.3 1064.2,427.3 1064.3,427.2 1064.4,427.1 1064.5,427 1064.6,426.9 1064.7,426.9 1064.8,426.8 1064.9,426.7 1065,426.6 1065.1,426.6 1065.2,426.5 1065.3,426.4 1065.4,426.4 1065.5,426.3 1065.6,426.2 1065.7,426.1 1065.8,426.1 1065.9,426 1066,425.9 1066.1,425.9 1066.2,425.8 1066.3,425.7 1066.4,425.7 1066.5,425.6 1066.6,425.5 1066.7,425.5 1066.8,425.4 1066.9,425.3 1067,425.3 1067.1,425.2 1067.2,425.1 1067.3,425.1 1067.4,425 1067.5,425 1067.6,424.9 1067.7,424.8 1067.8,424.8 1067.9,424.7 1068,424.7 1068.1,424.6 1068.2,424.6 1068.3,424.5 1068.4,424.5 1068.5,424.4 1068.6,424.3 1068.7,424.3 1068.8,424.2 1068.9,424.2 1069,424.1 1069.1,424.1 1069.2,424.1 1069.3,424 1069.4,424 1069.5,423.9 1069.6,423.9 1069.7,423.8 1069.8,423.8 1069.9,423.7 1070,423.7 1070.1,423.7 1070.2,423.6 1070.3,423.6 1070.4,423.6 1070.5,423.5 1070.6,423.5 1070.7,423.4 1070.8,423.4 1070.9,423.4 1071,423.3 1071.1,423.3 1071.2,423.3 1071.3,423.3 1071.4,423.2 1071.5,423.2 1071.6,423.2 1071.7,423.1 1071.8,423.1 1071.9,423.1 1072,423.1 1072.1,423.1 1072.2,423 1072.3,423 1072.4,423 1072.5,423 1072.6,423 1072.7,422.9 1072.8,422.9 1072.9,422.9 1073,422.9 1073.1,422.9 1073.2,422.9 1073.3,422.9 1073.4,422.8 1073.5,422.8 1073.6,422.8 1073.7,422.8 1073.8,422.8 1073.9,422.8 1074,422.8 1074.1,422.8 1074.2,422.8 1074.3,422.8 1074.4,422.8 1074.5,422.8 1074.6,422.8 1074.7,422.8 1074.8,422.8 1074.9,422.8 1075,422.8 1075.1,422.8 1075.2,422.8 1075.3,422.8 1075.4,422.8 1075.5,422.9 1075.6,422.9 1075.7,422.9 1075.8,422.9 1075.9,422.9 1076,422.9 1076.1,422.9 1076.2,423 1076.3,423 1076.4,423 1076.5,423 1076.6,423 1076.7,423.1 1076.8,423.1 1076.9,423.1 1077,423.1 1077.1,423.1 1077.2,423.2 1077.3,423.2 1077.4,423.2 1077.5,423.3 1077.6,423.3 1077.7,423.3 1077.8,423.3 1077.9,423.4 1078,423.4 1078.1,423.4 1078.2,423.5 1078.3,423.5 1078.4,423.6 1078.5,423.6 1078.6,423.6 1078.7,423.7 1078.8,423.7 1078.9,423.7 1079,423.8 1079.1,423.8 1079.2,423.9 1079.3,423.9 1079.4,424 1079.5,424 1079.6,424.1 1079.7,424.1 1079.8,424.1 1079.9,424.2 1080,424.2 1080.1,424.3 1080.2,424.3 1080.3,424.4 1080.4,424.5 1080.5,424.5 1080.6,424.6 1080.7,424.6 1080.8,424.7 1080.9,424.7 1081,424.8 1081.1,424.8 1081.2,424.9 1081.3,425 1081.4,425 1081.5,425.1 1081.6,425.1 1081.7,425.2 1081.8,425.3 1081.9,425.3 1082,425.4 1082.1,425.5 1082.2,425.5 1082.3,425.6 1082.4,425.7 1082.5,425.7 1082.6,425.8 1082.7,425.9 1082.8,425.9 1082.9,426 1083,426.1 1083.1,426.1 1083.2,426.2 1083.3,426.3 1083.4,426.4 1083.5,426.4 1083.6,426.5 1083.7,426.6 1083.8,426.6 1083.9,426.7 1084,426.8 1084.1,426.9 1084.2,426.9 1084.3,427 1084.4,427.1 1084.5,427.2 1084.6,427.3 1084.7,427.3 1084.8,427.4 1084.9,427.5 1085,427.6 1085.1,427.7 1085.2,427.7 1085.3,427.8 1085.4,427.9 1085.5,428 1085.6,428.1 1085.7,428.1 1085.8,428.2 1085.9,428.3 1086,428.4 1086.1,428.5 1086.2,428.6 1086.3,428.6 1086.4,428.7 1086.5,428.8 1086.6,428.9 1086.7,429 1086.8,429.1 1086.9,429.2 1087,429.2 1087.1,429.3 1087.2,429.4 1087.3,429.5 1087.4,429.6 1087.5,429.7 1087.6,429.8 1087.7,429.9 1087.8,430 1087.9,430 1088.3,430.4 1088.8,430.9 1089.3,431.3 1089.8,431.8 1090.3,432.2 1090.8,432.7 1091.3,433.2 1091.8,433.6 1092.3,434.1 1092.8,434.6 1093.3,435 1093.8,435.5 1094.3,435.9 1094.8,436.4 1095.3,436.9 1095.8,437.3 1096.3,437.7 1096.8,438.2 1097.3,438.6 1097.8,439.1 1098.3,439.5 1098.8,439.9 1099.3,440.3 1099.8,440.8 1100.3,441.2 1100.8,441.6 1101.3,442 1101.8,442.4 1102.3,442.7 1102.8,443.1 1103.3,443.5 1103.8,443.9 1104.3,444.2 1104.8,444.6 1105.3,444.9 1105.8,445.3 1106.3,445.6 1106.8,446 1107.3,446.3 1107.8,446.6 1108.3,446.9 1108.8,447.2 1109.3,447.5 1109.8,447.8 1110.3,448.1 1110.8,448.4 1111.3,448.7 1111.8,449 1112.3,449.2 1112.8,449.5 1113.3,449.8 1113.8,450 1114.3,450.3 1114.8,450.5 1115.3,450.8 1115.8,451 1116.3,451.2 1116.8,451.5 1117.3,451.7 1117.8,451.9 1118.3,452.1 1118.8,452.3 1119.3,452.5 1119.8,452.7 1120.3,452.9 1120.8,453.1 1121.3,453.3 1121.8,453.5 1122.3,453.7 1122.8,453.9 1123.3,454 1123.8,454.2 1124.3,454.4 1124.8,454.6 1125.3,454.7 1125.8,454.9 1126.3,455 1126.8,455.2 1127.3,455.3 1127.8,455.5 1128.3,455.6 1128.8,455.8 1129.3,455.9 1129.8,456 1130.3,456.2 1130.8,456.3 1131.3,456.4 1131.8,456.6 1132.3,456.7 1132.8,456.8 1133.3,456.9 1133.8,457.1 1134.3,457.2 1134.8,457.3 1135.3,457.4 1135.8,457.5 1136.3,457.6 1136.8,457.7 1137.3,457.8 1137.8,457.9 1138.3,458 1138.8,458.1 1139.3,458.2 1139.8,458.3 1140.3,458.4 1140.8,458.5 1141.3,458.6 1141.8,458.7 1142.3,458.8 1142.8,458.9 1143.3,458.9 1143.8,459 1144.3,459.1 1144.8,459.2 1145.3,459.3 1145.8,459.3 1146.3,459.4 1146.8,459.5 1147.3,459.6 1147.8,459.6 1148.3,459.7 1148.8,459.8 1149.3,459.9 1149.8,459.9 1150.3,460 1150.8,460.1 1151.3,460.1 1151.8,460.2 1152.3,460.2 1152.8,460.3 1153.3,460.4 1153.8,460.4 1154.3,460.5 1154.8,460.5 1155.3,460.6 1155.8,460.7 1156.3,460.7 1156.8,460.8 1157.3,460.8 1157.8,460.9 1158.3,460.9 1158.8,461 1159.3,461 1159.8,461.1 1160.3,461.1 1160.8,461.2 1161.3,461.2 1161.8,461.3 1162.3,461.3 1162.8,461.4 1163.3,461.4 1163.8,461.4 1164.3,461.5 1164.8,461.5 1165.3,461.6 1165.8,461.6 1166.3,461.7 1166.8,461.7 1167.3,461.7 1167.8,461.8 1168.3,461.8 1168.8,461.9 1169.3,461.9 1169.8,461.9 1170.3,462 1170.8,462 1171.3,462 1171.8,462.1 1172.3,462.1 1172.8,462.1 1173.3,462.2 1173.8,462.2 1174.3,462.2 1174.8,462.3 1175.3,462.3 1175.8,462.3 1176.3,462.4 1176.8,462.4 1177.3,462.4 1177.8,462.5 1178.3,462.5 1178.8,462.5 1179.3,462.5 1179.8,462.6 1180.3,462.6 1180.8,462.6 1181.3,462.7 1181.8,462.7 1182.3,462.7 1182.8,462.7 1183.3,462.8 1183.8,462.8 1184.3,462.8 1184.8,462.8 1185.3,462.9 1185.8,462.9 1186.3,462.9 1186.8,462.9 1187.3,463 1187.8,463 1188.3,463 1188.8,463 1189.3,463.1 1189.8,463.1 1190.3,463.1 1190.8,463.1 1191.3,463.1 1191.8,463.2 1192.3,463.2 1192.8,463.2 1193.3,463.2 1193.8,463.2 1194.3,463.3 1194.8,463.3 1195.3,463.3 1195.8,463.3 1196.3,463.3 1196.8,463.4 1197.3,463.4 1197.8,463.4 1198.3,463.4 1198.8,463.4 1199.3,463.5 1199.8,463.5 1200.3,463.5 1200.8,463.5 1201.3,463.5 1201.8,463.5 1202.3,463.6 1202.8,463.6 1203.3,463.6 1203.8,463.6 1204.3,463.6 1204.8,463.6 1205.3,463.7 1205.8,463.7 1206.3,463.7 1206.8,463.7 1207.3,463.7 1207.8,463.7 1208.3,463.7 1208.8,463.8 1209.3,463.8 1209.8,463.8 1210.3,463.8 1210.8,463.8 1211.3,463.8 1211.8,463.8 1212.3,463.9 1212.8,463.9 1213.3,463.9 1213.8,463.9 1214.3,463.9 1214.8,463.9 1215.3,463.9 1215.8,463.9 1216.3,464 1216.8,464 1217.3,464 1217.8,464 1218.3,464 1218.8,464 1219.3,464 1219.8,464 1220.3,464.1 1220.8,464.1 1221.3,464.1 1221.8,464.1 1222.3,464.1 1222.8,464.1 1223.3,464.1 1223.8,464.1 1224.3,464.1 1224.8,464.2 1225.3,464.2 1225.8,464.2 1226.3,464.2 1226.8,464.2 1227.3,464.2 1227.8,464.2 1228.3,464.2 1228.8,464.2 1229.3,464.2 1229.8,464.3 1230.3,464.3 1230.8,464.3 1231.3,464.3 1231.8,464.3 1232.3,464.3 1232.8,464.3 1233.3,464.3 1233.8,464.3 1234.3,464.3 1234.8,464.3 1235.3,464.4 1235.8,464.4 1236.3,464.4 1236.8,464.4 1237.3,464.4 1237.8,464.4 1238.3,464.4 1238.8,464.4 1239.3,464.4 1239.8,464.4 1240.3,464.4 1240.8,464.4 1241.3,464.5 1241.8,464.5 1242.3,464.5 1242.8,464.5 1243.3,464.5 1243.8,464.5 1244.3,464.5 1244.8,464.5 1245.3,464.5 1245.8,464.5 1246.3,464.5 1246.8,464.5 1247.3,464.5 1247.8,464.6 1248.3,464.6 1248.8,464.6 1249.3,464.6 1249.8,464.6 1250.3,464.6 1250.8,464.6 1251.3,464.6 1251.8,464.6 1252.3,464.6 1252.8,464.6 1253.3,464.6 1253.8,464.6 1254.3,464.6 1254.8,464.6 1255.3,464.6 1255.8,464.7 1256.3,464.7 1256.8,464.7 1257.3,464.7 1257.8,464.7 1258.3,464.7 1258.8,464.7 1259.3,464.7 1259.8,464.7 1260.3,464.7 1260.8,464.7 1261.3,464.7 1261.8,464.7 1262.3,464.7 1262.8,464.7 1263.3,464.7 1263.8,464.7 L1263.8,467.0 L923.3,467.0 Z" fill="#fbd9b3" stroke="none"/>
<path d="M923.3,464.2 923.8,464.2 924.3,464.1 924.8,464.1 925.3,464.1 925.8,464.1 926.3,464.1 926.8,464.1 927.3,464.1 927.8,464.1 928.3,464.1 928.8,464 929.3,464 929.8,464 930.3,464 930.8,464 931.3,464 931.8,464 932.3,464 932.8,464 933.3,463.9 933.8,463.9 934.3,463.9 934.8,463.9 935.3,463.9 935.8,463.9 936.3,463.9 936.8,463.8 937.3,463.8 937.8,463.8 938.3,463.8 938.8,463.8 939.3,463.8 939.8,463.8 940.3,463.8 940.8,463.7 941.3,463.7 941.8,463.7 942.3,463.7 942.8,463.7 943.3,463.7 943.8,463.6 944.3,463.6 944.8,463.6 945.3,463.6 945.8,463.6 946.3,463.6 946.8,463.5 947.3,463.5 947.8,463.5 948.3,463.5 948.8,463.5 949.3,463.5 949.8,463.4 950.3,463.4 950.8,463.4 951.3,463.4 951.8,463.4 952.3,463.4 952.8,463.3 953.3,463.3 953.8,463.3 954.3,463.3 954.8,463.3 955.3,463.2 955.8,463.2 956.3,463.2 956.8,463.2 957.3,463.2 957.8,463.1 958.3,463.1 958.8,463.1 959.3,463.1 959.8,463 960.3,463 960.8,463 961.3,463 961.8,462.9 962.3,462.9 962.8,462.9 963.3,462.9 963.8,462.9 964.3,462.8 964.8,462.8 965.3,462.8 965.8,462.8 966.3,462.7 966.8,462.7 967.3,462.7 967.8,462.6 968.3,462.6 968.8,462.6 969.3,462.6 969.8,462.5 970.3,462.5 970.8,462.5 971.3,462.4 971.8,462.4 972.3,462.4 972.8,462.4 973.3,462.3 973.8,462.3 974.3,462.3 974.8,462.2 975.3,462.2 975.8,462.2 976.3,462.1 976.8,462.1 977.3,462.1 977.8,462 978.3,462 978.8,461.9 979.3,461.9 979.8,461.9 980.3,461.8 980.8,461.8 981.3,461.8 981.8,461.7 982.3,461.7 982.8,461.6 983.3,461.6 983.8,461.6 984.3,461.5 984.8,461.5 985.3,461.4 985.8,461.4 986.3,461.3 986.8,461.3 987.3,461.2 987.8,461.2 988.3,461.1 988.8,461.1 989.3,461 989.8,461 990.3,460.9 990.8,460.9 991.3,460.8 991.8,460.8 992.3,460.7 992.8,460.7 993.3,460.6 993.8,460.6 994.3,460.5 994.8,460.5 995.3,460.4 995.8,460.3 996.3,460.3 996.8,460.2 997.3,460.1 997.8,460.1 998.3,460 998.8,459.9 999.3,459.9 999.8,459.8 1000.3,459.7 1000.8,459.7 1001.3,459.6 1001.8,459.5 1002.3,459.5 1002.8,459.4 1003.3,459.3 1003.8,459.2 1004.3,459.1 1004.8,459.1 1005.3,459 1005.8,458.9 1006.3,458.8 1006.8,458.7 1007.3,458.6 1007.8,458.5 1008.3,458.5 1008.8,458.4 1009.3,458.3 1009.8,458.2 1010.3,458.1 1010.8,458 1011.3,457.9 1011.8,457.8 1012.3,457.7 1012.8,457.6 1013.3,457.4 1013.8,457.3 1014.3,457.2 1014.8,457.1 1015.3,457 1015.8,456.9 1016.3,456.7 1016.8,456.6 1017.3,456.5 1017.8,456.4 1018.3,456.2 1018.8,456.1 1019.3,456 1019.8,455.8 1020.3,455.7 1020.8,455.5 1021.3,455.4 1021.8,455.2 1022.3,455.1 1022.8,454.9 1023.3,454.8 1023.8,454.6 1024.3,454.5 1024.8,454.3 1025.3,454.1 1025.8,453.9 1026.3,453.8 1026.8,453.6 1027.3,453.4 1027.8,453.2 1028.3,453 1028.8,452.8 1029.3,452.6 1029.8,452.4 1030.3,452.2 1030.8,452 1031.3,451.8 1031.8,451.5 1032.3,451.3 1032.8,451.1 1033.3,450.9 1033.8,450.6 1034.3,450.4 1034.8,450.1 1035.3,449.9 1035.8,449.6 1036.3,449.3 1036.8,449.1 1037.3,448.8 1037.8,448.5 1038.3,448.2 1038.8,447.9 1039.3,447.6 1039.8,447.3 1040.3,447 1040.8,446.7 1041.3,446.4 1041.8,446.1 1042.3,445.8 1042.8,445.4 1043.3,445.1 1043.8,444.7 1044.3,444.4 1044.8,444 1045.3,443.6 1045.8,443.3 1046.3,442.9 1046.8,442.5 1047.3,442.1 1047.8,441.7 1048.3,441.3 1048.8,440.9 1049.3,440.5 1049.8,440.1 1050.3,439.7 1050.8,439.2 1051.3,438.8 1051.8,438.4 1052.3,437.9 1052.8,437.5 1053.3,437 1053.8,436.6 1054.3,436.1 1054.8,435.7 1055.3,435.2 1055.8,434.7 1056.3,434.3 1056.8,433.8 1057.3,433.3 1057.8,432.9 1058,432.7 1058.1,432.6 1058.2,432.5 1058.3,432.4 1058.4,432.3 1058.5,432.2 1058.6,432.1 1058.7,432 1058.8,432 1058.9,431.9 1059,431.8 1059.1,431.7 1059.2,431.6 1059.3,431.5 1059.4,431.4 1059.5,431.3 1059.6,431.2 1059.7,431.1 1059.8,431 1059.9,430.9 1060,430.9 1060.1,430.8 1060.2,430.7 1060.3,430.6 1060.4,430.5 1060.5,430.4 1060.6,430.3 1060.7,430.2 1060.8,430.1 1060.9,430 1061,430 1061.1,429.9 1061.2,429.8 1061.3,429.7 1061.4,429.6 1061.5,429.5 1061.6,429.4 1061.7,429.3 1061.8,429.2 1061.9,429.2 1062,429.1 1062.1,429 1062.2,428.9 1062.3,428.8 1062.4,428.7 1062.5,428.6 1062.6,428.6 1062.7,428.5 1062.8,428.4 1062.9,428.3 1063,428.2 1063.1,428.1 1063.2,428.1 1063.3,428 1063.4,427.9 1063.5,427.8 1063.6,427.7 1063.7,427.7 1063.8,427.6 1063.9,427.5 1064,427.4 1064.1,427.3 1064.2,427.3 1064.3,427.2 1064.4,427.1 1064.5,427 1064.6,426.9 1064.7,426.9 1064.8,426.8 1064.9,426.7 1065,426.6 1065.1,426.6 1065.2,426.5 1065.3,426.4 1065.4,426.4 1065.5,426.3 1065.6,426.2 1065.7,426.1 1065.8,426.1 1065.9,426 1066,425.9 1066.1,425.9 1066.2,425.8 1066.3,425.7 1066.4,425.7 1066.5,425.6 1066.6,425.5 1066.7,425.5 1066.8,425.4 1066.9,425.3 1067,425.3 1067.1,425.2 1067.2,425.1 1067.3,425.1 1067.4,425 1067.5,425 1067.6,424.9 1067.7,424.8 1067.8,424.8 1067.9,424.7 1068,424.7 1068.1,424.6 1068.2,424.6 1068.3,424.5 1068.4,424.5 1068.5,424.4 1068.6,424.3 1068.7,424.3 1068.8,424.2 1068.9,424.2 1069,424.1 1069.1,424.1 1069.2,424.1 1069.3,424 1069.4,424 1069.5,423.9 1069.6,423.9 1069.7,423.8 1069.8,423.8 1069.9,423.7 1070,423.7 1070.1,423.7 1070.2,423.6 1070.3,423.6 1070.4,423.6 1070.5,423.5 1070.6,423.5 1070.7,423.4 1070.8,423.4 1070.9,423.4 1071,423.3 1071.1,423.3 1071.2,423.3 1071.3,423.3 1071.4,423.2 1071.5,423.2 1071.6,423.2 1071.7,423.1 1071.8,423.1 1071.9,423.1 1072,423.1 1072.1,423.1 1072.2,423 1072.3,423 1072.4,423 1072.5,423 1072.6,423 1072.7,422.9 1072.8,422.9 1072.9,422.9 1073,422.9 1073.1,422.9 1073.2,422.9 1073.3,422.9 1073.4,422.8 1073.5,422.8 1073.6,422.8 1073.7,422.8 1073.8,422.8 1073.9,422.8 1074,422.8 1074.1,422.8 1074.2,422.8 1074.3,422.8 1074.4,422.8 1074.5,422.8 1074.6,422.8 1074.7,422.8 1074.8,422.8 1074.9,422.8 1075,422.8 1075.1,422.8 1075.2,422.8 1075.3,422.8 1075.4,422.8 1075.5,422.9 1075.6,422.9 1075.7,422.9 1075.8,422.9 1075.9,422.9 1076,422.9 1076.1,422.9 1076.2,423 1076.3,423 1076.4,423 1076.5,423 1076.6,423 1076.7,423.1 1076.8,423.1 1076.9,423.1 1077,423.1 1077.1,423.1 1077.2,423.2 1077.3,423.2 1077.4,423.2 1077.5,423.3 1077.6,423.3 1077.7,423.3 1077.8,423.3 1077.9,423.4 1078,423.4 1078.1,423.4 1078.2,423.5 1078.3,423.5 1078.4,423.6 1078.5,423.6 1078.6,423.6 1078.7,423.7 1078.8,423.7 1078.9,423.7 1079,423.8 1079.1,423.8 1079.2,423.9 1079.3,423.9 1079.4,424 1079.5,424 1079.6,424.1 1079.7,424.1 1079.8,424.1 1079.9,424.2 1080,424.2 1080.1,424.3 1080.2,424.3 1080.3,424.4 1080.4,424.5 1080.5,424.5 1080.6,424.6 1080.7,424.6 1080.8,424.7 1080.9,424.7 1081,424.8 1081.1,424.8 1081.2,424.9 1081.3,425 1081.4,425 1081.5,425.1 1081.6,425.1 1081.7,425.2 1081.8,425.3 1081.9,425.3 1082,425.4 1082.1,425.5 1082.2,425.5 1082.3,425.6 1082.4,425.7 1082.5,425.7 1082.6,425.8 1082.7,425.9 1082.8,425.9 1082.9,426 1083,426.1 1083.1,426.1 1083.2,426.2 1083.3,426.3 1083.4,426.4 1083.5,426.4 1083.6,426.5 1083.7,426.6 1083.8,426.6 1083.9,426.7 1084,426.8 1084.1,426.9 1084.2,426.9 1084.3,427 1084.4,427.1 1084.5,427.2 1084.6,427.3 1084.7,427.3 1084.8,427.4 1084.9,427.5 1085,427.6 1085.1,427.7 1085.2,427.7 1085.3,427.8 1085.4,427.9 1085.5,428 1085.6,428.1 1085.7,428.1 1085.8,428.2 1085.9,428.3 1086,428.4 1086.1,428.5 1086.2,428.6 1086.3,428.6 1086.4,428.7 1086.5,428.8 1086.6,428.9 1086.7,429 1086.8,429.1 1086.9,429.2 1087,429.2 1087.1,429.3 1087.2,429.4 1087.3,429.5 1087.4,429.6 1087.5,429.7 1087.6,429.8 1087.7,429.9 1087.8,430 1087.9,430 1088.3,430.4 1088.8,430.9 1089.3,431.3 1089.8,431.8 1090.3,432.2 1090.8,432.7 1091.3,433.2 1091.8,433.6 1092.3,434.1 1092.8,434.6 1093.3,435 1093.8,435.5 1094.3,435.9 1094.8,436.4 1095.3,436.9 1095.8,437.3 1096.3,437.7 1096.8,438.2 1097.3,438.6 1097.8,439.1 1098.3,439.5 1098.8,439.9 1099.3,440.3 1099.8,440.8 1100.3,441.2 1100.8,441.6 1101.3,442 1101.8,442.4 1102.3,442.7 1102.8,443.1 1103.3,443.5 1103.8,443.9 1104.3,444.2 1104.8,444.6 1105.3,444.9 1105.8,445.3 1106.3,445.6 1106.8,446 1107.3,446.3 1107.8,446.6 1108.3,446.9 1108.8,447.2 1109.3,447.5 1109.8,447.8 1110.3,448.1 1110.8,448.4 1111.3,448.7 1111.8,449 1112.3,449.2 1112.8,449.5 1113.3,449.8 1113.8,450 1114.3,450.3 1114.8,450.5 1115.3,450.8 1115.8,451 1116.3,451.2 1116.8,451.5 1117.3,451.7 1117.8,451.9 1118.3,452.1 1118.8,452.3 1119.3,452.5 1119.8,452.7 1120.3,452.9 1120.8,453.1 1121.3,453.3 1121.8,453.5 1122.3,453.7 1122.8,453.9 1123.3,454 1123.8,454.2 1124.3,454.4 1124.8,454.6 1125.3,454.7 1125.8,454.9 1126.3,455 1126.8,455.2 1127.3,455.3 1127.8,455.5 1128.3,455.6 1128.8,455.8 1129.3,455.9 1129.8,456 1130.3,456.2 1130.8,456.3 1131.3,456.4 1131.8,456.6 1132.3,456.7 1132.8,456.8 1133.3,456.9 1133.8,457.1 1134.3,457.2 1134.8,457.3 1135.3,457.4 1135.8,457.5 1136.3,457.6 1136.8,457.7 1137.3,457.8 1137.8,457.9 1138.3,458 1138.8,458.1 1139.3,458.2 1139.8,458.3 1140.3,458.4 1140.8,458.5 1141.3,458.6 1141.8,458.7 1142.3,458.8 1142.8,458.9 1143.3,458.9 1143.8,459 1144.3,459.1 1144.8,459.2 1145.3,459.3 1145.8,459.3 1146.3,459.4 1146.8,459.5 1147.3,459.6 1147.8,459.6 1148.3,459.7 1148.8,459.8 1149.3,459.9 1149.8,459.9 1150.3,460 1150.8,460.1 1151.3,460.1 1151.8,460.2 1152.3,460.2 1152.8,460.3 1153.3,460.4 1153.8,460.4 1154.3,460.5 1154.8,460.5 1155.3,460.6 1155.8,460.7 1156.3,460.7 1156.8,460.8 1157.3,460.8 1157.8,460.9 1158.3,460.9 1158.8,461 1159.3,461 1159.8,461.1 1160.3,461.1 1160.8,461.2 1161.3,461.2 1161.8,461.3 1162.3,461.3 1162.8,461.4 1163.3,461.4 1163.8,461.4 1164.3,461.5 1164.8,461.5 1165.3,461.6 1165.8,461.6 1166.3,461.7 1166.8,461.7 1167.3,461.7 1167.8,461.8 1168.3,461.8 1168.8,461.9 1169.3,461.9 1169.8,461.9 1170.3,462 1170.8,462 1171.3,462 1171.8,462.1 1172.3,462.1 1172.8,462.1 1173.3,462.2 1173.8,462.2 1174.3,462.2 1174.8,462.3 1175.3,462.3 1175.8,462.3 1176.3,462.4 1176.8,462.4 1177.3,462.4 1177.8,462.5 1178.3,462.5 1178.8,462.5 1179.3,462.5 1179.8,462.6 1180.3,462.6 1180.8,462.6 1181.3,462.7 1181.8,462.7 1182.3,462.7 1182.8,462.7 1183.3,462.8 1183.8,462.8 1184.3,462.8 1184.8,462.8 1185.3,462.9 1185.8,462.9 1186.3,462.9 1186.8,462.9 1187.3,463 1187.8,463 1188.3,463 1188.8,463 1189.3,463.1 1189.8,463.1 1190.3,463.1 1190.8,463.1 1191.3,463.1 1191.8,463.2 1192.3,463.2 1192.8,463.2 1193.3,463.2 1193.8,463.2 1194.3,463.3 1194.8,463.3 1195.3,463.3 1195.8,463.3 1196.3,463.3 1196.8,463.4 1197.3,463.4 1197.8,463.4 1198.3,463.4 1198.8,463.4 1199.3,463.5 1199.8,463.5 1200.3,463.5 1200.8,463.5 1201.3,463.5 1201.8,463.5 1202.3,463.6 1202.8,463.6 1203.3,463.6 1203.8,463.6 1204.3,463.6 1204.8,463.6 1205.3,463.7 1205.8,463.7 1206.3,463.7 1206.8,463.7 1207.3,463.7 1207.8,463.7 1208.3,463.7 1208.8,463.8 1209.3,463.8 1209.8,463.8 1210.3,463.8 1210.8,463.8 1211.3,463.8 1211.8,463.8 1212.3,463.9 1212.8,463.9 1213.3,463.9 1213.8,463.9 1214.3,463.9 1214.8,463.9 1215.3,463.9 1215.8,463.9 1216.3,464 1216.8,464 1217.3,464 1217.8,464 1218.3,464 1218.8,464 1219.3,464 1219.8,464 1220.3,464.1 1220.8,464.1 1221.3,464.1 1221.8,464.1 1222.3,464.1 1222.8,464.1 1223.3,464.1 1223.8,464.1 1224.3,464.1 1224.8,464.2 1225.3,464.2 1225.8,464.2 1226.3,464.2 1226.8,464.2 1227.3,464.2 1227.8,464.2 1228.3,464.2 1228.8,464.2 1229.3,464.2 1229.8,464.3 1230.3,464.3 1230.8,464.3 1231.3,464.3 1231.8,464.3 1232.3,464.3 1232.8,464.3 1233.3,464.3 1233.8,464.3 1234.3,464.3 1234.8,464.3 1235.3,464.4 1235.8,464.4 1236.3,464.4 1236.8,464.4 1237.3,464.4 1237.8,464.4 1238.3,464.4 1238.8,464.4 1239.3,464.4 1239.8,464.4 1240.3,464.4 1240.8,464.4 1241.3,464.5 1241.8,464.5 1242.3,464.5 1242.8,464.5 1243.3,464.5 1243.8,464.5 1244.3,464.5 1244.8,464.5 1245.3,464.5 1245.8,464.5 1246.3,464.5 1246.8,464.5 1247.3,464.5 1247.8,464.6 1248.3,464.6 1248.8,464.6 1249.3,464.6 1249.8,464.6 1250.3,464.6 1250.8,464.6 1251.3,464.6 1251.8,464.6 1252.3,464.6 1252.8,464.6 1253.3,464.6 1253.8,464.6 1254.3,464.6 1254.8,464.6 1255.3,464.6 1255.8,464.7 1256.3,464.7 1256.8,464.7 1257.3,464.7 1257.8,464.7 1258.3,464.7 1258.8,464.7 1259.3,464.7 1259.8,464.7 1260.3,464.7 1260.8,464.7 1261.3,464.7 1261.8,464.7 1262.3,464.7 1262.8,464.7 1263.3,464.7 1263.8,464.7" fill="none" stroke="#f28c28" stroke-width="1.2"/>
<path d="M880.3,466.8 880.8,466.8 881.3,466.8 881.8,466.8 882.3,466.8 882.8,466.8 883.3,466.8 883.8,466.8 884.3,466.8 884.8,466.8 885.3,466.8 885.8,466.8 886.3,466.8 886.8,466.8 887.3,466.8 887.8,466.8 888.3,466.8 888.8,466.8 889.3,466.8 889.8,466.8 890.3,466.8 890.8,466.8 891.3,466.8 891.8,466.8 892.3,466.8 892.8,466.8 893.3,466.8 893.8,466.8 894.3,466.8 894.8,466.8 895.3,466.7 895.8,466.7 896.3,466.7 896.8,466.7 897.3,466.7 897.8,466.7 898.3,466.7 898.8,466.7 899.3,466.7 899.8,466.7 900.3,466.7 900.8,466.7 901.3,466.7 901.8,466.7 902.3,466.7 902.8,466.7 903.3,466.7 903.8,466.7 904.3,466.7 904.8,466.7 905.3,466.7 905.8,466.7 906.3,466.7 906.8,466.6 907.3,466.6 907.8,466.6 908.3,466.6 908.8,466.6 909.3,466.6 909.8,466.6 910.3,466.6 910.8,466.6 911.3,466.6 911.8,466.6 912.3,466.6 912.8,466.5 913.3,466.5 913.8,466.5 914.3,466.5 914.8,466.5 915.3,466.5 915.8,466.5 916.3,466.5 916.8,466.4 917.3,466.4 917.8,466.4 918.3,466.4 918.8,466.4 919.3,466.3 919.8,466.3 920.3,466.3 920.8,466.3 921.3,466.2 921.8,466.2 922.3,466.2 922.8,466.1 923.3,466.1 923.8,466.1 924.3,466 924.8,466 925.3,465.9 925.8,465.9 926.3,465.8 926.8,465.8 927.3,465.7 927.8,465.6 928.3,465.6 928.8,465.5 929.3,465.4 929.8,465.3 930.3,465.2 930.8,465.1 931.3,465 931.8,464.9 932.3,464.8 932.8,464.7 933.3,464.6 933.8,464.5 934.3,464.3 934.8,464.2 935.3,464 935.8,463.9 936.3,463.7 936.8,463.5 937.3,463.3 937.8,463.1 938.3,463 938.8,462.7 939.3,462.5 939.8,462.3 940.3,462.1 940.8,461.8 941.3,461.6 941.8,461.3 942.3,461 942.8,460.8 943.3,460.5 943.8,460.2 944.3,459.9 944.8,459.6 945.3,459.3 945.8,458.9 946.3,458.6 946.8,458.2 947.3,457.9 947.8,457.5 948.3,457.2 948.8,456.8 949.3,456.4 949.8,456.1 950.3,455.7 950.8,455.3 951.3,454.9 951.8,454.5 952.3,454.1 952.8,453.7 953.3,453.3 953.8,452.9 954.3,452.5 954.8,452.2 955.3,451.8 955.8,451.4 956.3,451 956.8,450.6 957.3,450.3 957.8,449.9 958.3,449.6 958.8,449.2 959.3,448.9 959.8,448.6 960.3,448.3 960.8,448 961.3,447.8 961.8,447.5 962.3,447.3 962.8,447.1 963.3,446.9 963.8,446.7 964.3,446.5 964.8,446.4 965.3,446.3 965.8,446.2 966.3,446.2 966.8,446.1 967.3,446.1 967.8,446.1 968.3,446.1 968.8,446.2 969.3,446.3 969.8,446.4 970.3,446.5 970.8,446.6 971.3,446.8 971.8,447 972.3,447.2 972.8,447.4 973.3,447.7 973.8,447.9 974.3,448.2 974.8,448.5 975.3,448.8 975.8,449.1 976.3,449.4 976.8,449.8 977.3,450.1 977.8,450.5 978.3,450.9 978.8,451.2 979.3,451.6 979.8,452 980.3,452.4 980.8,452.8 981.3,453.2 981.8,453.6 982.3,454 982.8,454.4 983.3,454.7 983.8,455.1 984.3,455.5 984.8,455.9 985.3,456.3 985.8,456.7 986.3,457 986.8,457.4 987.3,457.8 987.8,458.1 988.3,458.5 988.8,458.8 989.3,459.1 989.8,459.4 990.3,459.8 990.8,460.1 991.3,460.4 991.8,460.7 992.3,460.9 992.8,461.2 993.3,461.5 993.8,461.7 994.3,462 994.8,462.2 995.3,462.4 995.8,462.7 996.3,462.9 996.8,463.1 997.3,463.3 997.8,463.4 998.3,463.6 998.8,463.8 999.3,464 999.8,464.1 1000.3,464.3 1000.8,464.4 1001.3,464.5 1001.8,464.7 1002.3,464.8 1002.8,464.9 1003.3,465 1003.8,465.1 1004.3,465.2 1004.8,465.3 1005.3,465.4 1005.8,465.5 1006.3,465.5 1006.8,465.6 1007.3,465.7 1007.8,465.7 1008.3,465.8 1008.8,465.8 1009.3,465.9 1009.8,466 1010.3,466 1010.8,466 1011.3,466.1 1011.8,466.1 1012.3,466.2 1012.8,466.2 1013.3,466.2 1013.8,466.3 1014.3,466.3 1014.8,466.3 1015.3,466.3 1015.8,466.4 1016.3,466.4 1016.8,466.4 1017.3,466.4 1017.8,466.4 1018.3,466.4 1018.8,466.5 1019.3,466.5 1019.8,466.5 1020.3,466.5 1020.8,466.5 1021.3,466.5 1021.8,466.5 1022.3,466.6 1022.8,466.6 1023.3,466.6 1023.8,466.6 1024.3,466.6 1024.8,466.6 1025.3,466.6 1025.8,466.6 1026.3,466.6 1026.8,466.6 1027.3,466.6 1027.8,466.6 1028.3,466.6 1028.8,466.7 1029.3,466.7 1029.8,466.7 1030.3,466.7 1030.8,466.7 1031.3,466.7 1031.8,466.7 1032.3,466.7 1032.8,466.7 1033.3,466.7 1033.8,466.7 1034.3,466.7 1034.8,466.7 1035.3,466.7 1035.8,466.7 1036.3,466.7 1036.8,466.7 1037.3,466.7 1037.8,466.7 1038.3,466.7 1038.8,466.7 1039.3,466.7 1039.8,466.7 1040.3,466.8 1040.8,466.8 1041.3,466.8 1041.8,466.8 1042.3,466.8 1042.8,466.8 1043.3,466.8 1043.8,466.8 1044.3,466.8 1044.8,466.8 1045.3,466.8 1045.8,466.8 1046.3,466.8 1046.8,466.8 1047.3,466.8 1047.8,466.8 1048.3,466.8 1048.8,466.8 1049.3,466.8 1049.8,466.8 1050.3,466.8 1050.8,466.8 1051.3,466.8 1051.8,466.8 1052.3,466.8 1052.8,466.8 1053.3,466.8 1053.8,466.8 1054.3,466.8 1054.8,466.8 1055.3,466.8 1055.8,466.8 1056.3,466.8 1056.8,466.8 1057.3,466.8 1057.8,466.8 1058,466.8 1058.1,466.8 1058.2,466.8 1058.3,466.8 1058.4,466.8 1058.5,466.8 1058.6,466.8 1058.7,466.8 1058.8,466.8 1058.9,466.8 1059,466.8 1059.1,466.8 1059.2,466.8 1059.3,466.8 1059.4,466.8 1059.5,466.8 1059.6,466.8 1059.7,466.8 1059.8,466.8 1059.9,466.8 1060,466.8 1060.1,466.8 1060.2,466.8 1060.3,466.8 1060.4,466.8 1060.5,466.8 1060.6,466.8 1060.7,466.8 1060.8,466.8 1060.9,466.8 1061,466.8 1061.1,466.8 1061.2,466.8 1061.3,466.8 1061.4,466.8 1061.5,466.8 1061.6,466.8 1061.7,466.8 1061.8,466.8 1061.9,466.8 1062,466.9 1062.1,466.9 1062.2,466.9 1062.3,466.9 1062.4,466.9 1062.5,466.9 1062.6,466.9 1062.7,466.9 1062.8,466.9 1062.9,466.9 1063,466.9 1063.1,466.9 1063.2,466.9 1063.3,466.9 1063.4,466.9 1063.5,466.9 1063.6,466.9 1063.7,466.9 1063.8,466.9 1063.9,466.9 1064,466.9 1064.1,466.9 1064.2,466.9 1064.3,466.9 1064.4,466.9 1064.5,466.9 1064.6,466.9 1064.7,466.9 1064.8,466.9 1064.9,466.9 1065,466.9 1065.1,466.9 1065.2,466.9 1065.3,466.9 1065.4,466.9 1065.5,466.9 1065.6,466.9 1065.7,466.9 1065.8,466.9 1065.9,466.9 1066,466.9 1066.1,466.9 1066.2,466.9 1066.3,466.9 1066.4,466.9 1066.5,466.9 1066.6,466.9 1066.7,466.9 1066.8,466.9 1066.9,466.9 1067,466.9 1067.1,466.9 1067.2,466.9 1067.3,466.9 1067.4,466.9 1067.5,466.9 1067.6,466.9 1067.7,466.9 1067.8,466.9 1067.9,466.9 1068,466.9 1068.1,466.9 1068.2,466.9 1068.3,466.9 1068.4,466.9 1068.5,466.9 1068.6,466.9 1068.7,466.9 1068.8,466.9 1068.9,466.9 1069,466.9 1069.1,466.9 1069.2,466.9 1069.3,466.9 1069.4,466.9 1069.5,466.9 1069.6,466.9 1069.7,466.9 1069.8,466.9 1069.9,466.9 1070,466.9 1070.1,466.9 1070.2,466.9 1070.3,466.9 1070.4,466.9 1070.5,466.9 1070.6,466.9 1070.7,466.9 1070.8,466.9 1070.9,466.9 1071,466.9 1071.1,466.9 1071.2,466.9 1071.3,466.9 1071.4,466.9 1071.5,466.9 1071.6,466.9 1071.7,466.9 1071.8,466.9 1071.9,466.9 1072,466.9 1072.1,466.9 1072.2,466.9 1072.3,466.9 1072.4,466.9 1072.5,466.9 1072.6,466.9 1072.7,466.9 1072.8,466.9 1072.9,466.9 1073,466.9 1073.1,466.9 1073.2,466.9 1073.3,466.9 1073.4,466.9 1073.5,466.9 1073.6,466.9 1073.7,466.9 1073.8,466.9 1073.9,466.9 1074,466.9 1074.1,466.9 1074.2,466.9 1074.3,466.9 1074.4,466.9 1074.5,466.9 1074.6,466.9 1074.7,466.9 1074.8,466.9 1074.9,466.9 1075,466.9 1075.1,466.9 1075.2,466.9 1075.3,466.9 1075.4,466.9 1075.5,466.9 1075.6,466.9 1075.7,466.9 1075.8,466.9 1075.9,466.9 1076,466.9 1076.1,466.9 1076.2,466.9 1076.3,466.9 1076.4,466.9 1076.5,466.9 1076.6,466.9 1076.7,466.9 1076.8,466.9 1076.9,466.9 1077,466.9 1077.1,466.9 1077.2,466.9 1077.3,466.9 1077.4,466.9 1077.5,466.9 1077.6,466.9 1077.7,466.9 1077.8,466.9 1077.9,466.9 1078,466.9 1078.1,466.9 1078.2,466.9 1078.3,466.9 1078.4,466.9 1078.5,466.9 1078.6,466.9 1078.7,466.9 1078.8,466.9 1078.9,466.9 1079,466.9 1079.1,466.9 1079.2,466.9 1079.3,466.9 1079.4,466.9 1079.5,466.9 1079.6,466.9 1079.7,466.9 1079.8,466.9 1079.9,466.9 1080,466.9 1080.1,466.9 1080.2,466.9 1080.3,466.9 1080.4,466.9 1080.5,466.9 1080.6,466.9 1080.7,466.9 1080.8,466.9 1080.9,466.9 1081,466.9 1081.1,466.9 1081.2,466.9 1081.3,466.9 1081.4,466.9 1081.5,466.9 1081.6,466.9 1081.7,466.9 1081.8,466.9 1081.9,466.9 1082,466.9 1082.1,466.9 1082.2,466.9 1082.3,466.9 1082.4,466.9 1082.5,466.9 1082.6,466.9 1082.7,466.9 1082.8,466.9 1082.9,466.9 1083,466.9 1083.1,466.9 1083.2,466.9 1083.3,466.9 1083.4,466.9 1083.5,466.9 1083.6,466.9 1083.7,466.9 1083.8,466.9 1083.9,466.9 1084,466.9 1084.1,466.9 1084.2,466.9 1084.3,466.9 1084.4,466.9 1084.5,466.9 1084.6,466.9 1084.7,466.9 1084.8,466.9 1084.9,466.9 1085,466.9 1085.1,466.9 1085.2,466.9 1085.3,466.9 1085.4,466.9 1085.5,466.9 1085.6,466.9 1085.7,466.9 1085.8,466.9 1085.9,466.9 1086,466.9 1086.1,466.9 1086.2,466.9 1086.3,466.9 1086.4,466.9 1086.5,466.9 1086.6,466.9 1086.7,466.9 1086.8,466.9 1086.9,466.9 1087,466.9 1087.1,466.9 1087.2,466.9 1087.3,466.9 1087.4,466.9 1087.5,466.9 1087.6,466.9 1087.7,466.9 1087.8,466.9 1087.9,466.9 1088.3,466.9 1088.8,466.9 1089.3,466.9 1089.8,466.9" fill="none" stroke="#2a2a2a" stroke-width="1.05"/>
<path d="M905.3,466 905.8,466 906.3,466 906.8,466 907.3,466 907.8,466 908.3,466 908.8,466 909.3,465.9 909.8,465.9 910.3,465.9 910.8,465.9 911.3,465.9 911.8,465.9 912.3,465.9 912.8,465.9 913.3,465.9 913.8,465.8 914.3,465.8 914.8,465.8 915.3,465.8 915.8,465.8 916.3,465.8 916.8,465.8 917.3,465.8 917.8,465.8 918.3,465.7 918.8,465.7 919.3,465.7 919.8,465.7 920.3,465.7 920.8,465.7 921.3,465.7 921.8,465.6 922.3,465.6 922.8,465.6 923.3,465.6 923.8,465.6 924.3,465.6 924.8,465.6 925.3,465.5 925.8,465.5 926.3,465.5 926.8,465.5 927.3,465.5 927.8,465.5 928.3,465.4 928.8,465.4 929.3,465.4 929.8,465.4 930.3,465.4 930.8,465.4 931.3,465.3 931.8,465.3 932.3,465.3 932.8,465.3 933.3,465.3 933.8,465.2 934.3,465.2 934.8,465.2 935.3,465.2 935.8,465.2 936.3,465.1 936.8,465.1 937.3,465.1 937.8,465.1 938.3,465 938.8,465 939.3,465 939.8,465 940.3,464.9 940.8,464.9 941.3,464.9 941.8,464.9 942.3,464.8 942.8,464.8 943.3,464.8 943.8,464.7 944.3,464.7 944.8,464.7 945.3,464.6 945.8,464.6 946.3,464.6 946.8,464.5 947.3,464.5 947.8,464.5 948.3,464.4 948.8,464.4 949.3,464.4 949.8,464.3 950.3,464.3 950.8,464.2 951.3,464.2 951.8,464.2 952.3,464.1 952.8,464.1 953.3,464 953.8,464 954.3,463.9 954.8,463.9 955.3,463.8 955.8,463.8 956.3,463.7 956.8,463.7 957.3,463.6 957.8,463.6 958.3,463.5 958.8,463.5 959.3,463.4 959.8,463.3 960.3,463.3 960.8,463.2 961.3,463.1 961.8,463.1 962.3,463 962.8,462.9 963.3,462.9 963.8,462.8 964.3,462.7 964.8,462.6 965.3,462.5 965.8,462.4 966.3,462.4 966.8,462.3 967.3,462.2 967.8,462.1 968.3,462 968.8,461.9 969.3,461.7 969.8,461.6 970.3,461.5 970.8,461.4 971.3,461.3 971.8,461.1 972.3,461 972.8,460.9 973.3,460.7 973.8,460.6 974.3,460.4 974.8,460.3 975.3,460.1 975.8,460 976.3,459.8 976.8,459.6 977.3,459.4 977.8,459.2 978.3,459 978.8,458.8 979.3,458.6 979.8,458.4 980.3,458.2 980.8,457.9 981.3,457.7 981.8,457.5 982.3,457.2 982.8,457 983.3,456.7 983.8,456.4 984.3,456.1 984.8,455.8 985.3,455.5 985.8,455.2 986.3,454.9 986.8,454.6 987.3,454.2 987.8,453.9 988.3,453.5 988.8,453.2 989.3,452.8 989.8,452.4 990.3,452 990.8,451.6 991.3,451.2 991.8,450.8 992.3,450.3 992.8,449.9 993.3,449.4 993.8,449 994.3,448.5 994.8,448 995.3,447.6 995.8,447.1 996.3,446.6 996.8,446.1 997.3,445.6 997.8,445 998.3,444.5 998.8,444 999.3,443.5 999.8,442.9 1000.3,442.4 1000.8,441.9 1001.3,441.3 1001.8,440.8 1002.3,440.3 1002.8,439.8 1003.3,439.3 1003.8,438.8 1004.3,438.3 1004.8,437.8 1005.3,437.3 1005.8,436.9 1006.3,436.5 1006.8,436 1007.3,435.6 1007.8,435.3 1008.3,434.9 1008.8,434.6 1009.3,434.3 1009.8,434.1 1010.3,433.8 1010.8,433.7 1011.3,433.5 1011.8,433.4 1012.3,433.3 1012.8,433.2 1013.3,433.2 1013.8,433.2 1014.3,433.3 1014.8,433.4 1015.3,433.5 1015.8,433.7 1016.3,433.8 1016.8,434.1 1017.3,434.3 1017.8,434.6 1018.3,434.9 1018.8,435.3 1019.3,435.6 1019.8,436 1020.3,436.5 1020.8,436.9 1021.3,437.3 1021.8,437.8 1022.3,438.3 1022.8,438.8 1023.3,439.3 1023.8,439.8 1024.3,440.3 1024.8,440.8 1025.3,441.3 1025.8,441.9 1026.3,442.4 1026.8,442.9 1027.3,443.5 1027.8,444 1028.3,444.5 1028.8,445 1029.3,445.6 1029.8,446.1 1030.3,446.6 1030.8,447.1 1031.3,447.6 1031.8,448 1032.3,448.5 1032.8,449 1033.3,449.4 1033.8,449.9 1034.3,450.3 1034.8,450.8 1035.3,451.2 1035.8,451.6 1036.3,452 1036.8,452.4 1037.3,452.8 1037.8,453.2 1038.3,453.5 1038.8,453.9 1039.3,454.2 1039.8,454.6 1040.3,454.9 1040.8,455.2 1041.3,455.5 1041.8,455.8 1042.3,456.1 1042.8,456.4 1043.3,456.7 1043.8,457 1044.3,457.2 1044.8,457.5 1045.3,457.7 1045.8,457.9 1046.3,458.2 1046.8,458.4 1047.3,458.6 1047.8,458.8 1048.3,459 1048.8,459.2 1049.3,459.4 1049.8,459.6 1050.3,459.8 1050.8,460 1051.3,460.1 1051.8,460.3 1052.3,460.4 1052.8,460.6 1053.3,460.7 1053.8,460.9 1054.3,461 1054.8,461.1 1055.3,461.3 1055.8,461.4 1056.3,461.5 1056.8,461.6 1057.3,461.7 1057.8,461.9 1058,461.9 1058.1,461.9 1058.2,461.9 1058.3,462 1058.4,462 1058.5,462 1058.6,462 1058.7,462 1058.8,462.1 1058.9,462.1 1059,462.1 1059.1,462.1 1059.2,462.1 1059.3,462.2 1059.4,462.2 1059.5,462.2 1059.6,462.2 1059.7,462.2 1059.8,462.3 1059.9,462.3 1060,462.3 1060.1,462.3 1060.2,462.3 1060.3,462.4 1060.4,462.4 1060.5,462.4 1060.6,462.4 1060.7,462.4 1060.8,462.4 1060.9,462.5 1061,462.5 1061.1,462.5 1061.2,462.5 1061.3,462.5 1061.4,462.5 1061.5,462.6 1061.6,462.6 1061.7,462.6 1061.8,462.6 1061.9,462.6 1062,462.6 1062.1,462.7 1062.2,462.7 1062.3,462.7 1062.4,462.7 1062.5,462.7 1062.6,462.7 1062.7,462.8 1062.8,462.8 1062.9,462.8 1063,462.8 1063.1,462.8 1063.2,462.8 1063.3,462.9 1063.4,462.9 1063.5,462.9 1063.6,462.9 1063.7,462.9 1063.8,462.9 1063.9,462.9 1064,463 1064.1,463 1064.2,463 1064.3,463 1064.4,463 1064.5,463 1064.6,463 1064.7,463.1 1064.8,463.1 1064.9,463.1 1065,463.1 1065.1,463.1 1065.2,463.1 1065.3,463.1 1065.4,463.2 1065.5,463.2 1065.6,463.2 1065.7,463.2 1065.8,463.2 1065.9,463.2 1066,463.2 1066.1,463.3 1066.2,463.3 1066.3,463.3 1066.4,463.3 1066.5,463.3 1066.6,463.3 1066.7,463.3 1066.8,463.3 1066.9,463.4 1067,463.4 1067.1,463.4 1067.2,463.4 1067.3,463.4 1067.4,463.4 1067.5,463.4 1067.6,463.4 1067.7,463.5 1067.8,463.5 1067.9,463.5 1068,463.5 1068.1,463.5 1068.2,463.5 1068.3,463.5 1068.4,463.5 1068.5,463.5 1068.6,463.6 1068.7,463.6 1068.8,463.6 1068.9,463.6 1069,463.6 1069.1,463.6 1069.2,463.6 1069.3,463.6 1069.4,463.6 1069.5,463.7 1069.6,463.7 1069.7,463.7 1069.8,463.7 1069.9,463.7 1070,463.7 1070.1,463.7 1070.2,463.7 1070.3,463.7 1070.4,463.8 1070.5,463.8 1070.6,463.8 1070.7,463.8 1070.8,463.8 1070.9,463.8 1071,463.8 1071.1,463.8 1071.2,463.8 1071.3,463.8 1071.4,463.9 1071.5,463.9 1071.6,463.9 1071.7,463.9 1071.8,463.9 1071.9,463.9 1072,463.9 1072.1,463.9 1072.2,463.9 1072.3,463.9 1072.4,464 1072.5,464 1072.6,464 1072.7,464 1072.8,464 1072.9,464 1073,464 1073.1,464 1073.2,464 1073.3,464 1073.4,464 1073.5,464.1 1073.6,464.1 1073.7,464.1 1073.8,464.1 1073.9,464.1 1074,464.1 1074.1,464.1 1074.2,464.1 1074.3,464.1 1074.4,464.1 1074.5,464.1 1074.6,464.1 1074.7,464.2 1074.8,464.2 1074.9,464.2 1075,464.2 1075.1,464.2 1075.2,464.2 1075.3,464.2 1075.4,464.2 1075.5,464.2 1075.6,464.2 1075.7,464.2 1075.8,464.2 1075.9,464.3 1076,464.3 1076.1,464.3 1076.2,464.3 1076.3,464.3 1076.4,464.3 1076.5,464.3 1076.6,464.3 1076.7,464.3 1076.8,464.3 1076.9,464.3 1077,464.3 1077.1,464.4 1077.2,464.4 1077.3,464.4 1077.4,464.4 1077.5,464.4 1077.6,464.4 1077.7,464.4 1077.8,464.4 1077.9,464.4 1078,464.4 1078.1,464.4 1078.2,464.4 1078.3,464.4 1078.4,464.4 1078.5,464.5 1078.6,464.5 1078.7,464.5 1078.8,464.5 1078.9,464.5 1079,464.5 1079.1,464.5 1079.2,464.5 1079.3,464.5 1079.4,464.5 1079.5,464.5 1079.6,464.5 1079.7,464.5 1079.8,464.5 1079.9,464.6 1080,464.6 1080.1,464.6 1080.2,464.6 1080.3,464.6 1080.4,464.6 1080.5,464.6 1080.6,464.6 1080.7,464.6 1080.8,464.6 1080.9,464.6 1081,464.6 1081.1,464.6 1081.2,464.6 1081.3,464.6 1081.4,464.6 1081.5,464.7 1081.6,464.7 1081.7,464.7 1081.8,464.7 1081.9,464.7 1082,464.7 1082.1,464.7 1082.2,464.7 1082.3,464.7 1082.4,464.7 1082.5,464.7 1082.6,464.7 1082.7,464.7 1082.8,464.7 1082.9,464.7 1083,464.7 1083.1,464.8 1083.2,464.8 1083.3,464.8 1083.4,464.8 1083.5,464.8 1083.6,464.8 1083.7,464.8 1083.8,464.8 1083.9,464.8 1084,464.8 1084.1,464.8 1084.2,464.8 1084.3,464.8 1084.4,464.8 1084.5,464.8 1084.6,464.8 1084.7,464.8 1084.8,464.9 1084.9,464.9 1085,464.9 1085.1,464.9 1085.2,464.9 1085.3,464.9 1085.4,464.9 1085.5,464.9 1085.6,464.9 1085.7,464.9 1085.8,464.9 1085.9,464.9 1086,464.9 1086.1,464.9 1086.2,464.9 1086.3,464.9 1086.4,464.9 1086.5,464.9 1086.6,464.9 1086.7,465 1086.8,465 1086.9,465 1087,465 1087.1,465 1087.2,465 1087.3,465 1087.4,465 1087.5,465 1087.6,465 1087.7,465 1087.8,465 1087.9,465 1088.3,465 1088.8,465.1 1089.3,465.1 1089.8,465.1 1090.3,465.1 1090.8,465.2 1091.3,465.2 1091.8,465.2 1092.3,465.2 1092.8,465.2 1093.3,465.3 1093.8,465.3 1094.3,465.3 1094.8,465.3 1095.3,465.3 1095.8,465.4 1096.3,465.4 1096.8,465.4 1097.3,465.4 1097.8,465.4 1098.3,465.4 1098.8,465.5 1099.3,465.5 1099.8,465.5 1100.3,465.5 1100.8,465.5 1101.3,465.5 1101.8,465.6 1102.3,465.6 1102.8,465.6 1103.3,465.6 1103.8,465.6 1104.3,465.6 1104.8,465.6 1105.3,465.7 1105.8,465.7 1106.3,465.7 1106.8,465.7 1107.3,465.7 1107.8,465.7 1108.3,465.7 1108.8,465.8 1109.3,465.8 1109.8,465.8" fill="none" stroke="#2a2a2a" stroke-width="1.05"/>
<path d="M736.3,466.5 736.8,466.5 737.3,466.5 737.8,466.5 738.3,466.5 738.8,466.5 739.3,466.5 739.8,466.5 740.3,466.5 740.8,466.5 741.3,466.5 741.8,466.5 742.3,466.5 742.8,466.5 743.3,466.4 743.8,466.4 744.3,466.4 744.8,466.4 745.3,466.4 745.8,466.4 746.3,466.4 746.8,466.4 747.3,466.4 747.8,466.4 748.3,466.4 748.8,466.4 749.3,466.4 749.8,466.4 750.3,466.4 750.8,466.4 751.3,466.4 751.8,466.4 752.3,466.4 752.8,466.4 753.3,466.4 753.8,466.4 754.3,466.4 754.8,466.4 755.3,466.4 755.8,466.4 756.3,466.4 756.8,466.4 757.3,466.4 757.8,466.4 758.3,466.4 758.8,466.4 759.3,466.4 759.8,466.4 760.3,466.4 760.8,466.4 761.3,466.4 761.8,466.4 762.3,466.4 762.8,466.4 763.3,466.4 763.8,466.4 764.3,466.4 764.8,466.4 765.3,466.4 765.8,466.4 766.3,466.4 766.8,466.4 767.3,466.4 767.8,466.3 768.3,466.3 768.8,466.3 769.3,466.3 769.8,466.3 770.3,466.3 770.8,466.3 771.3,466.3 771.8,466.3 772.3,466.3 772.8,466.3 773.3,466.3 773.8,466.3 774.3,466.3 774.8,466.3 775.3,466.3 775.8,466.3 776.3,466.3 776.8,466.3 777.3,466.3 777.8,466.3 778.3,466.3 778.8,466.3 779.3,466.3 779.8,466.3 780.3,466.3 780.8,466.3 781.3,466.3 781.8,466.3 782.3,466.3 782.8,466.3 783.3,466.3 783.8,466.3 784.3,466.3 784.8,466.3 785.3,466.3 785.8,466.3 786.3,466.3 786.8,466.3 787.3,466.2 787.8,466.2 788.3,466.2 788.8,466.2 789.3,466.2 789.8,466.2 790.3,466.2 790.8,466.2 791.3,466.2 791.8,466.2 792.3,466.2 792.8,466.2 793.3,466.2 793.8,466.2 794.3,466.2 794.8,466.2 795.3,466.2 795.8,466.2 796.3,466.2 796.8,466.2 797.3,466.2 797.8,466.2 798.3,466.2 798.8,466.2 799.3,466.2 799.8,466.2 800.3,466.2 800.8,466.2 801.3,466.2 801.8,466.2 802.3,466.2 802.8,466.1 803.3,466.1 803.8,466.1 804.3,466.1 804.8,466.1 805.3,466.1 805.8,466.1 806.3,466.1 806.8,466.1 807.3,466.1 807.8,466.1 808.3,466.1 808.8,466.1 809.3,466.1 809.8,466.1 810.3,466.1 810.8,466.1 811.3,466.1 811.8,466.1 812.3,466.1 812.8,466.1 813.3,466.1 813.8,466.1 814.3,466.1 814.8,466.1 815.3,466.1 815.8,466.1 816.3,466 816.8,466 817.3,466 817.8,466 818.3,466 818.8,466 819.3,466 819.8,466 820.3,466 820.8,466 821.3,466 821.8,466 822.3,466 822.8,466 823.3,466 823.8,466 824.3,466 824.8,466 825.3,466 825.8,466 826.3,466 826.8,466 827.3,465.9 827.8,465.9 828.3,465.9 828.8,465.9 829.3,465.9 829.8,465.9 830.3,465.9 830.8,465.9 831.3,465.9 831.8,465.9 832.3,465.9 832.8,465.9 833.3,465.9 833.8,465.9 834.3,465.9 834.8,465.9 835.3,465.9 835.8,465.9 836.3,465.9 836.8,465.8 837.3,465.8 837.8,465.8 838.3,465.8 838.8,465.8 839.3,465.8 839.8,465.8 840.3,465.8 840.8,465.8 841.3,465.8 841.8,465.8 842.3,465.8 842.8,465.8 843.3,465.8 843.8,465.8 844.3,465.8 844.8,465.8 845.3,465.7 845.8,465.7 846.3,465.7 846.8,465.7 847.3,465.7 847.8,465.7 848.3,465.7 848.8,465.7 849.3,465.7 849.8,465.7 850.3,465.7 850.8,465.7 851.3,465.7 851.8,465.7 852.3,465.7 852.8,465.6 853.3,465.6 853.8,465.6 854.3,465.6 854.8,465.6 855.3,465.6 855.8,465.6 856.3,465.6 856.8,465.6 857.3,465.6 857.8,465.6 858.3,465.6 858.8,465.6 859.3,465.5 859.8,465.5 860.3,465.5 860.8,465.5 861.3,465.5 861.8,465.5 862.3,465.5 862.8,465.5 863.3,465.5 863.8,465.5 864.3,465.5 864.8,465.5 865.3,465.4 865.8,465.4 866.3,465.4 866.8,465.4 867.3,465.4 867.8,465.4 868.3,465.4 868.8,465.4 869.3,465.4 869.8,465.4 870.3,465.3 870.8,465.3 871.3,465.3 871.8,465.3 872.3,465.3 872.8,465.3 873.3,465.3 873.8,465.3 874.3,465.3 874.8,465.3 875.3,465.2 875.8,465.2 876.3,465.2 876.8,465.2 877.3,465.2 877.8,465.2 878.3,465.2 878.8,465.2 879.3,465.2 879.8,465.1 880.3,465.1 880.8,465.1 881.3,465.1 881.8,465.1 882.3,465.1 882.8,465.1 883.3,465.1 883.8,465 884.3,465 884.8,465 885.3,465 885.8,465 886.3,465 886.8,465 887.3,465 887.8,464.9 888.3,464.9 888.8,464.9 889.3,464.9 889.8,464.9 890.3,464.9 890.8,464.9 891.3,464.8 891.8,464.8 892.3,464.8 892.8,464.8 893.3,464.8 893.8,464.8 894.3,464.7 894.8,464.7 895.3,464.7 895.8,464.7 896.3,464.7 896.8,464.7 897.3,464.6 897.8,464.6 898.3,464.6 898.8,464.6 899.3,464.6 899.8,464.5 900.3,464.5 900.8,464.5 901.3,464.5 901.8,464.5 902.3,464.5 902.8,464.4 903.3,464.4 903.8,464.4 904.3,464.4 904.8,464.3 905.3,464.3 905.8,464.3 906.3,464.3 906.8,464.3 907.3,464.2 907.8,464.2 908.3,464.2 908.8,464.2 909.3,464.1 909.8,464.1 910.3,464.1 910.8,464.1 911.3,464 911.8,464 912.3,464 912.8,463.9 913.3,463.9 913.8,463.9 914.3,463.8 914.8,463.8 915.3,463.8 915.8,463.7 916.3,463.7 916.8,463.7 917.3,463.6 917.8,463.6 918.3,463.5 918.8,463.5 919.3,463.5 919.8,463.4 920.3,463.4 920.8,463.3 921.3,463.3 921.8,463.2 922.3,463.1 922.8,463.1 923.3,463 923.8,462.9 924.3,462.9 924.8,462.8 925.3,462.7 925.8,462.7 926.3,462.6 926.8,462.5 927.3,462.4 927.8,462.3 928.3,462.2 928.8,462.1 929.3,462 929.8,461.9 930.3,461.7 930.8,461.6 931.3,461.5 931.8,461.3 932.3,461.2 932.8,461 933.3,460.9 933.8,460.7 934.3,460.5 934.8,460.4 935.3,460.2 935.8,460 936.3,459.7 936.8,459.5 937.3,459.3 937.8,459.1 938.3,458.8 938.8,458.6 939.3,458.3 939.8,458 940.3,457.7 940.8,457.4 941.3,457.1 941.8,456.8 942.3,456.5 942.8,456.2 943.3,455.8 943.8,455.4 944.3,455.1 944.8,454.7 945.3,454.3 945.8,453.9 946.3,453.5 946.8,453.1 947.3,452.6 947.8,452.2 948.3,451.8 948.8,451.3 949.3,450.8 949.8,450.4 950.3,449.9 950.8,449.4 951.3,448.9 951.8,448.4 952.3,447.9 952.8,447.4 953.3,446.9 953.8,446.4 954.3,445.9 954.8,445.4 955.3,444.8 955.8,444.3 956.3,443.8 956.8,443.3 957.3,442.8 957.8,442.3 958.3,441.8 958.8,441.3 959.3,440.9 959.8,440.4 960.3,439.9 960.8,439.5 961.3,439 961.8,438.6 962.3,438.2 962.8,437.8 963.3,437.4 963.8,437.1 964.3,436.7 964.8,436.4 965.3,436.1 965.8,435.8 966.3,435.6 966.8,435.3 967.3,435.1 967.8,434.9 968.3,434.7 968.8,434.5 969.3,434.4 969.8,434.3 970.3,434.2 970.8,434.1 971.3,434 971.8,434 972.3,433.9 972.8,433.9 973.3,433.9 973.8,433.9 974.3,434 974.8,434 975.3,434.1 975.8,434.1 976.3,434.2 976.8,434.3 977.3,434.4 977.8,434.5 978.3,434.6 978.8,434.7 979.3,434.8 979.8,434.9 980.3,435 980.8,435.1 981.3,435.2 981.8,435.3 982.3,435.4 982.8,435.5 983.3,435.6 983.8,435.7 984.3,435.8 984.8,435.8 985.3,435.9 985.8,435.9 986.3,436 986.8,436 987.3,436 987.8,436 988.3,436 988.8,436 989.3,435.9 989.8,435.9 990.3,435.8 990.8,435.7 991.3,435.6 991.8,435.5 992.3,435.4 992.8,435.2 993.3,435.1 993.8,434.9 994.3,434.7 994.8,434.4 995.3,434.2 995.8,434 996.3,433.7 996.8,433.4 997.3,433.1 997.8,432.8 998.3,432.5 998.8,432.1 999.3,431.8 999.8,431.4 1000.3,431.1 1000.8,430.7 1001.3,430.3 1001.8,429.9 1002.3,429.5 1002.8,429.1 1003.3,428.7 1003.8,428.3 1004.3,427.9 1004.8,427.5 1005.3,427.1 1005.8,426.7 1006.3,426.3 1006.8,426 1007.3,425.6 1007.8,425.3 1008.3,424.9 1008.8,424.6 1009.3,424.4 1009.8,424.1 1010.3,423.9 1010.8,423.7 1011.3,423.5 1011.8,423.4 1012.3,423.2 1012.8,423.1 1013.3,423.1 1013.8,423.1 1014.3,423.1 1014.8,423.1 1015.3,423.2 1015.8,423.2 1016.3,423.4 1016.8,423.5 1017.3,423.7 1017.8,423.9 1018.3,424.1 1018.8,424.3 1019.3,424.6 1019.8,424.9 1020.3,425.2 1020.8,425.5 1021.3,425.8 1021.8,426.1 1022.3,426.5 1022.8,426.8 1023.3,427.2 1023.8,427.6 1024.3,427.9 1024.8,428.3 1025.3,428.6 1025.8,429 1026.3,429.4 1026.8,429.7 1027.3,430.1 1027.8,430.4 1028.3,430.7 1028.8,431 1029.3,431.4 1029.8,431.7 1030.3,432 1030.8,432.2 1031.3,432.5 1031.8,432.8 1032.3,433 1032.8,433.2 1033.3,433.4 1033.8,433.6 1034.3,433.8 1034.8,434 1035.3,434.1 1035.8,434.3 1036.3,434.4 1036.8,434.5 1037.3,434.6 1037.8,434.7 1038.3,434.7 1038.8,434.8 1039.3,434.8 1039.8,434.8 1040.3,434.8 1040.8,434.8 1041.3,434.7 1041.8,434.7 1042.3,434.6 1042.8,434.5 1043.3,434.4 1043.8,434.3 1044.3,434.1 1044.8,434 1045.3,433.8 1045.8,433.6 1046.3,433.4 1046.8,433.2 1047.3,433 1047.8,432.7 1048.3,432.4 1048.8,432.1 1049.3,431.8 1049.8,431.5 1050.3,431.1 1050.8,430.8 1051.3,430.4 1051.8,430 1052.3,429.6 1052.8,429.2 1053.3,428.7 1053.8,428.2 1054.3,427.7 1054.8,427.2 1055.3,426.6 1055.8,426.1 1056.3,425.5 1056.8,424.8 1057.3,424.1 1057.8,423.4 1058,423.1 1058.1,423 1058.2,422.8 1058.3,422.7 1058.4,422.5 1058.5,422.4 1058.6,422.2 1058.7,422.1 1058.8,421.9 1058.9,421.7 1059,421.6 1059.1,421.4 1059.2,421.2 1059.3,421 1059.4,420.9 1059.5,420.7 1059.6,420.5 1059.7,420.3 1059.8,420.1 1059.9,419.9 1060,419.7 1060.1,419.6 1060.2,419.4 1060.3,419.1 1060.4,418.9 1060.5,418.7 1060.6,418.5 1060.7,418.3 1060.8,418.1 1060.9,417.9 1061,417.6 1061.1,417.4 1061.2,417.2 1061.3,416.9 1061.4,416.7 1061.5,416.4 1061.6,416.2 1061.7,415.9 1061.8,415.6 1061.9,415.4 1062,415.1 1062.1,414.8 1062.2,414.5 1062.3,414.2 1062.4,413.9 1062.5,413.6 1062.6,413.3 1062.7,412.9 1062.8,412.6 1062.9,412.3 1063,411.9 1063.1,411.5 1063.2,411.2 1063.3,410.8 1063.4,410.4 1063.5,410 1063.6,409.6 1063.7,409.1 1063.8,408.7 1063.9,408.2 1064,407.8 1064.1,407.3 1064.2,406.8 1064.3,406.2 1064.4,405.7 1064.5,405.1 1064.6,404.6 1064.7,404 1064.8,403.3 1064.9,402.7 1065,402 1065.1,401.3 1065.2,400.6 1065.3,399.9 1065.4,399.1 1065.5,398.3 1065.6,397.4 1065.7,396.5 1065.8,395.6 1065.9,394.6 1066,393.6 1066.1,392.5 1066.2,391.4 1066.3,390.2 1066.4,389 1066.5,387.7 1066.6,386.3 1066.7,384.8 1066.8,383.3 1066.9,381.7 1067,380 1067.1,378.2 1067.2,376.2 1067.3,374.2 1067.4,372 1067.5,369.7 1067.6,367.2 1067.7,364.6 1067.8,361.8 1067.9,358.8 1068,355.6 1068.1,352.1 1068.2,348.4 1068.3,344.4 1068.4,340.1 1068.5,335.4 1068.6,330.4 1068.7,324.9 1068.8,319 1068.9,312.6 1069,305.6 1069.1,298 1069.2,289.8 1069.3,280.8 1069.4,271 1069.5,260.4 1069.6,248.8 1069.7,236.3 1069.8,222.8 1069.9,208.1 1070,192.4 1070.1,175.7 1070.2,158.1 1070.3,139.7 1070.4,120.8 1070.5,101.8 1070.6,83.1 1070.7,65.3 1070.8,49 1070.9,35 1071,23.9 1071.1,16.2 1071.2,12.4 1071.3,12.6 1071.4,16.5 1071.5,23.8 1071.6,34 1071.7,46.4 1071.8,60.2 1071.9,74.8 1072,89.6 1072.1,104 1072.2,117.8 1072.3,130.5 1072.4,142.1 1072.5,152.4 1072.6,161.4 1072.7,169.1 1072.8,175.4 1072.9,180.4 1073,184.3 1073.1,187 1073.2,188.8 1073.3,189.7 1073.4,189.8 1073.5,189.4 1073.6,188.6 1073.7,187.7 1073.8,186.9 1073.9,186.4 1074,186.4 1074.1,187.2 1074.2,188.8 1074.3,191.5 1074.4,195.3 1074.5,200.2 1074.6,206 1074.7,212.7 1074.8,220.2 1074.9,228.2 1075,236.6 1075.1,245.2 1075.2,253.8 1075.3,262.4 1075.4,270.8 1075.5,278.9 1075.6,286.7 1075.7,294.1 1075.8,301.2 1075.9,307.8 1076,314.1 1076.1,319.9 1076.2,325.4 1076.3,330.6 1076.4,335.4 1076.5,339.9 1076.6,344 1076.7,348 1076.8,351.6 1076.9,355 1077,358.2 1077.1,361.2 1077.2,364 1077.3,366.6 1077.4,369 1077.5,371.3 1077.6,373.5 1077.7,375.6 1077.8,377.5 1077.9,379.3 1078,381 1078.1,382.6 1078.2,384.1 1078.3,385.6 1078.4,387 1078.5,388.3 1078.6,389.5 1078.7,390.7 1078.8,391.8 1078.9,392.8 1079,393.9 1079.1,394.8 1079.2,395.8 1079.3,396.6 1079.4,397.5 1079.5,398.3 1079.6,399.1 1079.7,399.8 1079.8,400.6 1079.9,401.2 1080,401.9 1080.1,402.5 1080.2,403.2 1080.3,403.8 1080.4,404.3 1080.5,404.9 1080.6,405.4 1080.7,405.9 1080.8,406.4 1080.9,406.9 1081,407.4 1081.1,407.8 1081.2,408.3 1081.3,408.7 1081.4,409.1 1081.5,409.5 1081.6,409.9 1081.7,410.3 1081.8,410.7 1081.9,411 1082,411.4 1082.1,411.7 1082.2,412.1 1082.3,412.4 1082.4,412.7 1082.5,413.1 1082.6,413.4 1082.7,413.7 1082.8,414 1082.9,414.2 1083,414.5 1083.1,414.8 1083.2,415.1 1083.3,415.3 1083.4,415.6 1083.5,415.9 1083.6,416.1 1083.7,416.4 1083.8,416.6 1083.9,416.9 1084,417.1 1084.1,417.3 1084.2,417.6 1084.3,417.8 1084.4,418 1084.5,418.2 1084.6,418.4 1084.7,418.7 1084.8,418.9 1084.9,419.1 1085,419.3 1085.1,419.5 1085.2,419.7 1085.3,419.9 1085.4,420.1 1085.5,420.3 1085.6,420.5 1085.7,420.7 1085.8,420.8 1085.9,421 1086,421.2 1086.1,421.4 1086.2,421.6 1086.3,421.8 1086.4,421.9 1086.5,422.1 1086.6,422.3 1086.7,422.5 1086.8,422.6 1086.9,422.8 1087,423 1087.1,423.1 1087.2,423.3 1087.3,423.5 1087.4,423.6 1087.5,423.8 1087.6,423.9 1087.7,424.1 1087.8,424.3 1087.9,424.4 1088.3,425 1088.8,425.8 1089.3,426.5 1089.8,427.2 1090.3,427.9 1090.8,428.6 1091.3,429.3 1091.8,429.9 1092.3,430.6 1092.8,431.2 1093.3,431.8 1093.8,432.4 1094.3,433 1094.8,433.6 1095.3,434.2 1095.8,434.7 1096.3,435.3 1096.8,435.8 1097.3,436.3 1097.8,436.9 1098.3,437.4 1098.8,437.9 1099.3,438.4 1099.8,438.9 1100.3,439.4 1100.8,439.8 1101.3,440.3 1101.8,440.7 1102.3,441.2 1102.8,441.6 1103.3,442.1 1103.8,442.5 1104.3,442.9 1104.8,443.3 1105.3,443.7 1105.8,444.1 1106.3,444.5 1106.8,444.8 1107.3,445.2 1107.8,445.6 1108.3,445.9 1108.8,446.3 1109.3,446.6 1109.8,446.9 1110.3,447.3 1110.8,447.6 1111.3,447.9 1111.8,448.2 1112.3,448.5 1112.8,448.8 1113.3,449.1 1113.8,449.4 1114.3,449.6 1114.8,449.9 1115.3,450.2 1115.8,450.4 1116.3,450.7 1116.8,451 1117.3,451.2 1117.8,451.4 1118.3,451.7 1118.8,451.9 1119.3,452.1 1119.8,452.4 1120.3,452.6 1120.8,452.8 1121.3,453 1121.8,453.2 1122.3,453.4 1122.8,453.6 1123.3,453.8 1123.8,454 1124.3,454.2 1124.8,454.4 1125.3,454.5 1125.8,454.7 1126.3,454.9 1126.8,455.1 1127.3,455.2 1127.8,455.4 1128.3,455.5 1128.8,455.7 1129.3,455.9 1129.8,456 1130.3,456.2 1130.8,456.3 1131.3,456.4 1131.8,456.6 1132.3,456.7 1132.8,456.9 1133.3,457 1133.8,457.1 1134.3,457.2 1134.8,457.4 1135.3,457.5 1135.8,457.6 1136.3,457.7 1136.8,457.8 1137.3,458 1137.8,458.1 1138.3,458.2 1138.8,458.3 1139.3,458.4 1139.8,458.5 1140.3,458.6 1140.8,458.7 1141.3,458.8 1141.8,458.9 1142.3,459 1142.8,459.1 1143.3,459.2 1143.8,459.3 1144.3,459.4 1144.8,459.5 1145.3,459.5 1145.8,459.6 1146.3,459.7 1146.8,459.8 1147.3,459.9 1147.8,460 1148.3,460 1148.8,460.1 1149.3,460.2 1149.8,460.3 1150.3,460.3 1150.8,460.4 1151.3,460.5 1151.8,460.6 1152.3,460.6 1152.8,460.7 1153.3,460.8 1153.8,460.8 1154.3,460.9 1154.8,461 1155.3,461 1155.8,461.1 1156.3,461.1 1156.8,461.2 1157.3,461.3 1157.8,461.3 1158.3,461.4 1158.8,461.4 1159.3,461.5 1159.8,461.5 1160.3,461.6 1160.8,461.7 1161.3,461.7 1161.8,461.8 1162.3,461.8 1162.8,461.9 1163.3,461.9 1163.8,462 1164.3,462 1164.8,462.1 1165.3,462.1 1165.8,462.2 1166.3,462.2 1166.8,462.2 1167.3,462.3 1167.8,462.3 1168.3,462.4 1168.8,462.4 1169.3,462.5 1169.8,462.5 1170.3,462.5 1170.8,462.6 1171.3,462.6 1171.8,462.7 1172.3,462.7 1172.8,462.7 1173.3,462.8 1173.8,462.8 1174.3,462.9 1174.8,462.9 1175.3,462.9 1175.8,463 1176.3,463 1176.8,463 1177.3,463.1 1177.8,463.1 1178.3,463.1 1178.8,463.2 1179.3,463.2 1179.8,463.2 1180.3,463.3 1180.8,463.3 1181.3,463.3 1181.8,463.4 1182.3,463.4 1182.8,463.4 1183.3,463.4 1183.8,463.5 1184.3,463.5 1184.8,463.5 1185.3,463.6 1185.8,463.6 1186.3,463.6 1186.8,463.6 1187.3,463.7 1187.8,463.7 1188.3,463.7 1188.8,463.7 1189.3,463.8 1189.8,463.8 1190.3,463.8 1190.8,463.8 1191.3,463.9 1191.8,463.9 1192.3,463.9 1192.8,463.9 1193.3,464 1193.8,464 1194.3,464 1194.8,464 1195.3,464.1 1195.8,464.1 1196.3,464.1 1196.8,464.1 1197.3,464.1 1197.8,464.2 1198.3,464.2 1198.8,464.2 1199.3,464.2 1199.8,464.2 1200.3,464.3 1200.8,464.3 1201.3,464.3 1201.8,464.3 1202.3,464.3 1202.8,464.4 1203.3,464.4 1203.8,464.4 1204.3,464.4 1204.8,464.4 1205.3,464.4 1205.8,464.5 1206.3,464.5 1206.8,464.5 1207.3,464.5 1207.8,464.5 1208.3,464.6 1208.8,464.6 1209.3,464.6 1209.8,464.6 1210.3,464.6 1210.8,464.6 1211.3,464.6 1211.8,464.7 1212.3,464.7 1212.8,464.7 1213.3,464.7 1213.8,464.7 1214.3,464.7 1214.8,464.8 1215.3,464.8 1215.8,464.8 1216.3,464.8 1216.8,464.8 1217.3,464.8 1217.8,464.8 1218.3,464.9 1218.8,464.9 1219.3,464.9 1219.8,464.9 1220.3,464.9 1220.8,464.9 1221.3,464.9 1221.8,464.9 1222.3,465 1222.8,465 1223.3,465 1223.8,465 1224.3,465 1224.8,465 1225.3,465 1225.8,465 1226.3,465.1 1226.8,465.1 1227.3,465.1 1227.8,465.1 1228.3,465.1 1228.8,465.1 1229.3,465.1 1229.8,465.1 1230.3,465.1 1230.8,465.2 1231.3,465.2 1231.8,465.2 1232.3,465.2 1232.8,465.2 1233.3,465.2 1233.8,465.2 1234.3,465.2 1234.8,465.2 1235.3,465.3 1235.8,465.3 1236.3,465.3 1236.8,465.3 1237.3,465.3 1237.8,465.3 1238.3,465.3 1238.8,465.3 1239.3,465.3 1239.8,465.3 1240.3,465.4 1240.8,465.4 1241.3,465.4 1241.8,465.4 1242.3,465.4 1242.8,465.4 1243.3,465.4 1243.8,465.4 1244.3,465.4 1244.8,465.4 1245.3,465.4 1245.8,465.4 1246.3,465.5 1246.8,465.5 1247.3,465.5 1247.8,465.5 1248.3,465.5 1248.8,465.5 1249.3,465.5 1249.8,465.5 1250.3,465.5 1250.8,465.5 1251.3,465.5 1251.8,465.5 1252.3,465.6 1252.8,465.6 1253.3,465.6 1253.8,465.6 1254.3,465.6 1254.8,465.6 1255.3,465.6 1255.8,465.6 1256.3,465.6 1256.8,465.6 1257.3,465.6 1257.8,465.6 1258.3,465.6 1258.8,465.6 1259.3,465.7 1259.8,465.7 1260.3,465.7 1260.8,465.7 1261.3,465.7 1261.8,465.7 1262.3,465.7 1262.8,465.7 1263.3,465.7 1263.8,465.7 1264.3,465.7 1264.8,465.7 1265.3,465.7 1265.8,465.7 1266.3,465.7 1266.8,465.8 1267.3,465.8 1267.8,465.8 1268.3,465.8 1268.8,465.8 1269.3,465.8 1269.8,465.8 1270.3,465.8 1270.8,465.8 1271.3,465.8 1271.8,465.8 1272.3,465.8 1272.8,465.8 1273.3,465.8 1273.8,465.8 1274.3,465.8 1274.8,465.8 1275.3,465.8 1275.8,465.9 1276.3,465.9 1276.8,465.9 1277.3,465.9 1277.8,465.9 1278.3,465.9 1278.8,465.9 1279.3,465.9 1279.8,465.9 1280.3,465.9 1280.8,465.9 1281.3,465.9 1281.8,465.9 1282.3,465.9 1282.8,465.9 1283.3,465.9 1283.8,465.9 1284.3,465.9 1284.8,465.9 1285.3,465.9 1285.8,466 1286.3,466 1286.8,466 1287.3,466 1287.8,466 1288.3,466 1288.8,466 1289.3,466 1289.8,466 1290.3,466 1290.8,466 1291.3,466 1291.8,466 1292.3,466 1292.8,466 1293.3,466 1293.8,466 1294.3,466 1294.8,466 1295.3,466 1295.8,466 1296.3,466 1296.8,466 1297.3,466.1 1297.8,466.1 1298.3,466.1 1298.8,466.1 1299.3,466.1 1299.8,466.1 1300.3,466.1 1300.8,466.1 1301.3,466.1 1301.8,466.1 1302.3,466.1 1302.8,466.1 1303.3,466.1 1303.8,466.1 1304.3,466.1 1304.8,466.1 1305.3,466.1 1305.8,466.1 1306.3,466.1 1306.8,466.1 1307.3,466.1 1307.8,466.1 1308.3,466.1 1308.8,466.1 1309.3,466.1 1309.8,466.1 1310.3,466.1 1310.8,466.2 1311.3,466.2 1311.8,466.2 1312.3,466.2 1312.8,466.2 1313.3,466.2 1313.8,466.2 1314.3,466.2 1314.8,466.2 1315.3,466.2 1315.8,466.2 1316.3,466.2 1316.8,466.2 1317.3,466.2 1317.8,466.2 1318.3,466.2 1318.8,466.2 1319.3,466.2 1319.8,466.2 1320.3,466.2 1320.8,466.2 1321.3,466.2 1321.8,466.2 1322.3,466.2 1322.8,466.2 1323.3,466.2 1323.8,466.2 1324.3,466.2 1324.8,466.2 1325.3,466.2 1325.8,466.2 1326.3,466.2 1326.8,466.3 1327.3,466.3 1327.8,466.3 1328.3,466.3 1328.8,466.3 1329.3,466.3 1329.8,466.3 1330.3,466.3 1330.8,466.3 1331.3,466.3 1331.8,466.3 1332.3,466.3 1332.8,466.3 1333.3,466.3 1333.8,466.3 1334.3,466.3 1334.8,466.3 1335.3,466.3 1335.8,466.3 1336.3,466.3 1336.8,466.3 1337.3,466.3 1337.8,466.3 1338.3,466.3 1338.8,466.3 1339.3,466.3 1339.8,466.3 1340.3,466.3 1340.8,466.3 1341.3,466.3 1341.8,466.3 1342.3,466.3 1342.8,466.3 1343.3,466.3 1343.8,466.3 1344.3,466.3 1344.8,466.3 1345.3,466.3 1345.8,466.3 1346.3,466.4 1346.8,466.4 1347.3,466.4 1347.8,466.4 1348.3,466.4 1348.8,466.4 1349.3,466.4 1349.8,466.4 1350.3,466.4 1350.8,466.4 1351.3,466.4 1351.8,466.4 1352.3,466.4 1352.8,466.4 1353.3,466.4 1353.8,466.4 1354.3,466.4 1354.8,466.4 1355.3,466.4 1355.8,466.4 1356.3,466.4 1356.8,466.4 1357.3,466.4 1357.8,466.4 1358.3,466.4 1358.8,466.4 1359.3,466.4 1359.8,466.4 1360.3,466.4 1360.8,466.4 1361.3,466.4 1361.8,466.4 1362.3,466.4 1362.8,466.4 1363.3,466.4 1363.8,466.4 1364.3,466.4 1364.8,466.4 1365.3,466.4 1365.8,466.4 1366.3,466.4 1366.8,466.4 1367.3,466.4 1367.8,466.4 1368.3,466.4 1368.8,466.4 1369.3,466.4 1369.8,466.4 1370.3,466.4 1370.8,466.4 1371.3,466.5 1371.8,466.5 1372.3,466.5 1372.8,466.5 1373.3,466.5 1373.8,466.5 1374.3,466.5 1374.8,466.5 1375.3,466.5 1375.8,466.5 1376.3,466.5 1376.8,466.5 1377.3,466.5 1377.8,466.5 1378.3,466.5 1378.8,466.5 1379.3,466.5 1379.8,466.5 1380.3,466.5 1380.8,466.5 1381.3,466.5 1381.8,466.5 1382.3,466.5 1382.8,466.5 1383.3,466.5 1383.8,466.5 1384.3,466.5 1384.8,466.5 1385.3,466.5 1385.8,466.5 1386.3,466.5" fill="none" stroke="#000" stroke-width="1.7" stroke-linejoin="round"/>
<path d="M1045.3,466 1045.8,465.9 1046.3,465.9 1046.8,465.9 1047.3,465.8 1047.8,465.8 1048.3,465.7 1048.8,465.7 1049.3,465.6 1049.8,465.5 1050.3,465.5 1050.8,465.4 1051.3,465.3 1051.8,465.2 1052.3,465.1 1052.8,465 1053.3,464.9 1053.8,464.8 1054.3,464.6 1054.8,464.5 1055.3,464.3 1055.8,464.2 1056.3,464 1056.8,463.8 1057.3,463.5 1057.8,463.3 1058,463.1 1058.1,463.1 1058.2,463 1058.3,463 1058.4,462.9 1058.5,462.8 1058.6,462.8 1058.7,462.7 1058.8,462.6 1058.9,462.6 1059,462.5 1059.1,462.4 1059.2,462.3 1059.3,462.3 1059.4,462.2 1059.5,462.1 1059.6,462 1059.7,461.9 1059.8,461.8 1059.9,461.8 1060,461.7 1060.1,461.6 1060.2,461.5 1060.3,461.4 1060.4,461.3 1060.5,461.2 1060.6,461 1060.7,460.9 1060.8,460.8 1060.9,460.7 1061,460.6 1061.1,460.5 1061.2,460.3 1061.3,460.2 1061.4,460.1 1061.5,459.9 1061.6,459.8 1061.7,459.6 1061.8,459.5 1061.9,459.3 1062,459.1 1062.1,459 1062.2,458.8 1062.3,458.6 1062.4,458.4 1062.5,458.2 1062.6,458 1062.7,457.8 1062.8,457.6 1062.9,457.4 1063,457.2 1063.1,456.9 1063.2,456.7 1063.3,456.4 1063.4,456.2 1063.5,455.9 1063.6,455.6 1063.7,455.3 1063.8,455 1063.9,454.7 1064,454.3 1064.1,454 1064.2,453.6 1064.3,453.2 1064.4,452.9 1064.5,452.4 1064.6,452 1064.7,451.6 1064.8,451.1 1064.9,450.6 1065,450.1 1065.1,449.6 1065.2,449 1065.3,448.4 1065.4,447.8 1065.5,447.2 1065.6,446.5 1065.7,445.8 1065.8,445.1 1065.9,444.3 1066,443.4 1066.1,442.6 1066.2,441.7 1066.3,440.7 1066.4,439.7 1066.5,438.6 1066.6,437.4 1066.7,436.2 1066.8,434.9 1066.9,433.5 1067,432.1 1067.1,430.5 1067.2,428.9 1067.3,427.1 1067.4,425.2 1067.5,423.2 1067.6,421 1067.7,418.7 1067.8,416.2 1067.9,413.5 1068,410.6 1068.1,407.5 1068.2,404.2 1068.3,400.6 1068.4,396.6 1068.5,392.4 1068.6,387.8 1068.7,382.8 1068.8,377.3 1068.9,371.4 1069,365 1069.1,357.9 1069.2,350.2 1069.3,341.9 1069.4,332.7 1069.5,322.7 1069.6,311.9 1069.7,300.1 1069.8,287.3 1069.9,273.5 1070,258.6 1070.1,242.8 1070.2,226.2 1070.3,208.8 1070.4,190.9 1070.5,173 1070.6,155.5 1070.7,139 1070.8,124.1 1070.9,111.6 1071,102 1071.1,96 1071.2,94 1071.3,96 1071.4,102 1071.5,111.6 1071.6,124.1 1071.7,139 1071.8,155.5 1071.9,173 1072,190.9 1072.1,208.8 1072.2,226.2 1072.3,242.8 1072.4,258.6 1072.5,273.5 1072.6,287.3 1072.7,300.1 1072.8,311.9 1072.9,322.7 1073,332.7 1073.1,341.9 1073.2,350.2 1073.3,357.9 1073.4,365 1073.5,371.4 1073.6,377.3 1073.7,382.8 1073.8,387.8 1073.9,392.4 1074,396.6 1074.1,400.6 1074.2,404.2 1074.3,407.5 1074.4,410.6 1074.5,413.5 1074.6,416.2 1074.7,418.7 1074.8,421 1074.9,423.2 1075,425.2 1075.1,427.1 1075.2,428.9 1075.3,430.5 1075.4,432.1 1075.5,433.5 1075.6,434.9 1075.7,436.2 1075.8,437.4 1075.9,438.6 1076,439.7 1076.1,440.7 1076.2,441.7 1076.3,442.6 1076.4,443.4 1076.5,444.3 1076.6,445.1 1076.7,445.8 1076.8,446.5 1076.9,447.2 1077,447.8 1077.1,448.4 1077.2,449 1077.3,449.6 1077.4,450.1 1077.5,450.6 1077.6,451.1 1077.7,451.6 1077.8,452 1077.9,452.4 1078,452.9 1078.1,453.2 1078.2,453.6 1078.3,454 1078.4,454.3 1078.5,454.7 1078.6,455 1078.7,455.3 1078.8,455.6 1078.9,455.9 1079,456.2 1079.1,456.4 1079.2,456.7 1079.3,456.9 1079.4,457.2 1079.5,457.4 1079.6,457.6 1079.7,457.8 1079.8,458 1079.9,458.2 1080,458.4 1080.1,458.6 1080.2,458.8 1080.3,459 1080.4,459.1 1080.5,459.3 1080.6,459.5 1080.7,459.6 1080.8,459.8 1080.9,459.9 1081,460.1 1081.1,460.2 1081.2,460.3 1081.3,460.5 1081.4,460.6 1081.5,460.7 1081.6,460.8 1081.7,460.9 1081.8,461 1081.9,461.2 1082,461.3 1082.1,461.4 1082.2,461.5 1082.3,461.6 1082.4,461.7 1082.5,461.8 1082.6,461.8 1082.7,461.9 1082.8,462 1082.9,462.1 1083,462.2 1083.1,462.3 1083.2,462.3 1083.3,462.4 1083.4,462.5 1083.5,462.6 1083.6,462.6 1083.7,462.7 1083.8,462.8 1083.9,462.8 1084,462.9 1084.1,463 1084.2,463 1084.3,463.1 1084.4,463.1 1084.5,463.2 1084.6,463.3 1084.7,463.3 1084.8,463.4 1084.9,463.4 1085,463.5 1085.1,463.5 1085.2,463.6 1085.3,463.6 1085.4,463.7 1085.5,463.7 1085.6,463.8 1085.7,463.8 1085.8,463.8 1085.9,463.9 1086,463.9 1086.1,464 1086.2,464 1086.3,464 1086.4,464.1 1086.5,464.1 1086.6,464.2 1086.7,464.2 1086.8,464.2 1086.9,464.3 1087,464.3 1087.1,464.3 1087.2,464.4 1087.3,464.4 1087.4,464.4 1087.5,464.5 1087.6,464.5 1087.7,464.5 1087.8,464.5 1087.9,464.6 1088.3,464.7 1088.8,464.8 1089.3,464.9 1089.8,465 1090.3,465.1 1090.8,465.2 1091.3,465.3 1091.8,465.4 1092.3,465.5 1092.8,465.5 1093.3,465.6 1093.8,465.7 1094.3,465.7 1094.8,465.8 1095.3,465.8 1095.8,465.9 1096.3,465.9 1096.8,466 L1096.8,467.0 L1045.3,467.0 Z" fill="#7a8af5" fill-opacity="0.5" stroke="none"/>
<path d="M1045.3,466 1045.8,465.9 1046.3,465.9 1046.8,465.9 1047.3,465.8 1047.8,465.8 1048.3,465.7 1048.8,465.7 1049.3,465.6 1049.8,465.5 1050.3,465.5 1050.8,465.4 1051.3,465.3 1051.8,465.2 1052.3,465.1 1052.8,465 1053.3,464.9 1053.8,464.8 1054.3,464.6 1054.8,464.5 1055.3,464.3 1055.8,464.2 1056.3,464 1056.8,463.8 1057.3,463.5 1057.8,463.3 1058,463.1 1058.1,463.1 1058.2,463 1058.3,463 1058.4,462.9 1058.5,462.8 1058.6,462.8 1058.7,462.7 1058.8,462.6 1058.9,462.6 1059,462.5 1059.1,462.4 1059.2,462.3 1059.3,462.3 1059.4,462.2 1059.5,462.1 1059.6,462 1059.7,461.9 1059.8,461.8 1059.9,461.8 1060,461.7 1060.1,461.6 1060.2,461.5 1060.3,461.4 1060.4,461.3 1060.5,461.2 1060.6,461 1060.7,460.9 1060.8,460.8 1060.9,460.7 1061,460.6 1061.1,460.5 1061.2,460.3 1061.3,460.2 1061.4,460.1 1061.5,459.9 1061.6,459.8 1061.7,459.6 1061.8,459.5 1061.9,459.3 1062,459.1 1062.1,459 1062.2,458.8 1062.3,458.6 1062.4,458.4 1062.5,458.2 1062.6,458 1062.7,457.8 1062.8,457.6 1062.9,457.4 1063,457.2 1063.1,456.9 1063.2,456.7 1063.3,456.4 1063.4,456.2 1063.5,455.9 1063.6,455.6 1063.7,455.3 1063.8,455 1063.9,454.7 1064,454.3 1064.1,454 1064.2,453.6 1064.3,453.2 1064.4,452.9 1064.5,452.4 1064.6,452 1064.7,451.6 1064.8,451.1 1064.9,450.6 1065,450.1 1065.1,449.6 1065.2,449 1065.3,448.4 1065.4,447.8 1065.5,447.2 1065.6,446.5 1065.7,445.8 1065.8,445.1 1065.9,444.3 1066,443.4 1066.1,442.6 1066.2,441.7 1066.3,440.7 1066.4,439.7 1066.5,438.6 1066.6,437.4 1066.7,436.2 1066.8,434.9 1066.9,433.5 1067,432.1 1067.1,430.5 1067.2,428.9 1067.3,427.1 1067.4,425.2 1067.5,423.2 1067.6,421 1067.7,418.7 1067.8,416.2 1067.9,413.5 1068,410.6 1068.1,407.5 1068.2,404.2 1068.3,400.6 1068.4,396.6 1068.5,392.4 1068.6,387.8 1068.7,382.8 1068.8,377.3 1068.9,371.4 1069,365 1069.1,357.9 1069.2,350.2 1069.3,341.9 1069.4,332.7 1069.5,322.7 1069.6,311.9 1069.7,300.1 1069.8,287.3 1069.9,273.5 1070,258.6 1070.1,242.8 1070.2,226.2 1070.3,208.8 1070.4,190.9 1070.5,173 1070.6,155.5 1070.7,139 1070.8,124.1 1070.9,111.6 1071,102 1071.1,96 1071.2,94 1071.3,96 1071.4,102 1071.5,111.6 1071.6,124.1 1071.7,139 1071.8,155.5 1071.9,173 1072,190.9 1072.1,208.8 1072.2,226.2 1072.3,242.8 1072.4,258.6 1072.5,273.5 1072.6,287.3 1072.7,300.1 1072.8,311.9 1072.9,322.7 1073,332.7 1073.1,341.9 1073.2,350.2 1073.3,357.9 1073.4,365 1073.5,371.4 1073.6,377.3 1073.7,382.8 1073.8,387.8 1073.9,392.4 1074,396.6 1074.1,400.6 1074.2,404.2 1074.3,407.5 1074.4,410.6 1074.5,413.5 1074.6,416.2 1074.7,418.7 1074.8,421 1074.9,423.2 1075,425.2 1075.1,427.1 1075.2,428.9 1075.3,430.5 1075.4,432.1 1075.5,433.5 1075.6,434.9 1075.7,436.2 1075.8,437.4 1075.9,438.6 1076,439.7 1076.1,440.7 1076.2,441.7 1076.3,442.6 1076.4,443.4 1076.5,444.3 1076.6,445.1 1076.7,445.8 1076.8,446.5 1076.9,447.2 1077,447.8 1077.1,448.4 1077.2,449 1077.3,449.6 1077.4,450.1 1077.5,450.6 1077.6,451.1 1077.7,451.6 1077.8,452 1077.9,452.4 1078,452.9 1078.1,453.2 1078.2,453.6 1078.3,454 1078.4,454.3 1078.5,454.7 1078.6,455 1078.7,455.3 1078.8,455.6 1078.9,455.9 1079,456.2 1079.1,456.4 1079.2,456.7 1079.3,456.9 1079.4,457.2 1079.5,457.4 1079.6,457.6 1079.7,457.8 1079.8,458 1079.9,458.2 1080,458.4 1080.1,458.6 1080.2,458.8 1080.3,459 1080.4,459.1 1080.5,459.3 1080.6,459.5 1080.7,459.6 1080.8,459.8 1080.9,459.9 1081,460.1 1081.1,460.2 1081.2,460.3 1081.3,460.5 1081.4,460.6 1081.5,460.7 1081.6,460.8 1081.7,460.9 1081.8,461 1081.9,461.2 1082,461.3 1082.1,461.4 1082.2,461.5 1082.3,461.6 1082.4,461.7 1082.5,461.8 1082.6,461.8 1082.7,461.9 1082.8,462 1082.9,462.1 1083,462.2 1083.1,462.3 1083.2,462.3 1083.3,462.4 1083.4,462.5 1083.5,462.6 1083.6,462.6 1083.7,462.7 1083.8,462.8 1083.9,462.8 1084,462.9 1084.1,463 1084.2,463 1084.3,463.1 1084.4,463.1 1084.5,463.2 1084.6,463.3 1084.7,463.3 1084.8,463.4 1084.9,463.4 1085,463.5 1085.1,463.5 1085.2,463.6 1085.3,463.6 1085.4,463.7 1085.5,463.7 1085.6,463.8 1085.7,463.8 1085.8,463.8 1085.9,463.9 1086,463.9 1086.1,464 1086.2,464 1086.3,464 1086.4,464.1 1086.5,464.1 1086.6,464.2 1086.7,464.2 1086.8,464.2 1086.9,464.3 1087,464.3 1087.1,464.3 1087.2,464.4 1087.3,464.4 1087.4,464.4 1087.5,464.5 1087.6,464.5 1087.7,464.5 1087.8,464.5 1087.9,464.6 1088.3,464.7 1088.8,464.8 1089.3,464.9 1089.8,465 1090.3,465.1 1090.8,465.2 1091.3,465.3 1091.8,465.4 1092.3,465.5 1092.8,465.5 1093.3,465.6 1093.8,465.7 1094.3,465.7 1094.8,465.8 1095.3,465.8 1095.8,465.9 1096.3,465.9 1096.8,466" fill="none" stroke="#3350f5" stroke-width="1.1"/>
<path d="M1050.3,466.2 1050.8,466.2 1051.3,466.2 1051.8,466.1 1052.3,466.1 1052.8,466.1 1053.3,466 1053.8,466 1054.3,465.9 1054.8,465.9 1055.3,465.8 1055.8,465.7 1056.3,465.7 1056.8,465.6 1057.3,465.5 1057.8,465.4 1058,465.4 1058.1,465.4 1058.2,465.3 1058.3,465.3 1058.4,465.3 1058.5,465.3 1058.6,465.3 1058.7,465.2 1058.8,465.2 1058.9,465.2 1059,465.2 1059.1,465.1 1059.2,465.1 1059.3,465.1 1059.4,465.1 1059.5,465 1059.6,465 1059.7,465 1059.8,465 1059.9,464.9 1060,464.9 1060.1,464.9 1060.2,464.8 1060.3,464.8 1060.4,464.8 1060.5,464.7 1060.6,464.7 1060.7,464.7 1060.8,464.6 1060.9,464.6 1061,464.6 1061.1,464.5 1061.2,464.5 1061.3,464.5 1061.4,464.4 1061.5,464.4 1061.6,464.3 1061.7,464.3 1061.8,464.3 1061.9,464.2 1062,464.2 1062.1,464.1 1062.2,464.1 1062.3,464 1062.4,464 1062.5,463.9 1062.6,463.9 1062.7,463.8 1062.8,463.8 1062.9,463.7 1063,463.7 1063.1,463.6 1063.2,463.5 1063.3,463.5 1063.4,463.4 1063.5,463.3 1063.6,463.3 1063.7,463.2 1063.8,463.1 1063.9,463.1 1064,463 1064.1,462.9 1064.2,462.8 1064.3,462.8 1064.4,462.7 1064.5,462.6 1064.6,462.5 1064.7,462.4 1064.8,462.3 1064.9,462.2 1065,462.1 1065.1,462 1065.2,461.9 1065.3,461.8 1065.4,461.7 1065.5,461.6 1065.6,461.4 1065.7,461.3 1065.8,461.2 1065.9,461 1066,460.9 1066.1,460.8 1066.2,460.6 1066.3,460.5 1066.4,460.3 1066.5,460.1 1066.6,460 1066.7,459.8 1066.8,459.6 1066.9,459.4 1067,459.2 1067.1,459 1067.2,458.8 1067.3,458.6 1067.4,458.3 1067.5,458.1 1067.6,457.8 1067.7,457.6 1067.8,457.3 1067.9,457 1068,456.7 1068.1,456.4 1068.2,456.1 1068.3,455.7 1068.4,455.4 1068.5,455 1068.6,454.6 1068.7,454.2 1068.8,453.7 1068.9,453.3 1069,452.8 1069.1,452.3 1069.2,451.8 1069.3,451.2 1069.4,450.6 1069.5,450 1069.6,449.3 1069.7,448.7 1069.8,447.9 1069.9,447.1 1070,446.3 1070.1,445.5 1070.2,444.5 1070.3,443.6 1070.4,442.5 1070.5,441.4 1070.6,440.2 1070.7,439 1070.8,437.6 1070.9,436.2 1071,434.6 1071.1,433 1071.2,431.2 1071.3,429.4 1071.4,427.3 1071.5,425.2 1071.6,422.8 1071.7,420.3 1071.8,417.6 1071.9,414.7 1072,411.6 1072.1,408.2 1072.2,404.6 1072.3,400.7 1072.4,396.5 1072.5,392 1072.6,387.1 1072.7,382 1072.8,376.5 1072.9,370.7 1073,364.6 1073.1,358.2 1073.2,351.6 1073.3,344.8 1073.4,337.9 1073.5,331 1073.6,324.3 1073.7,318 1073.8,312.1 1073.9,307 1074,302.8 1074.1,299.6 1074.2,297.7 1074.3,297 1074.4,297.7 1074.5,299.6 1074.6,302.8 1074.7,307 1074.8,312.1 1074.9,318 1075,324.3 1075.1,331 1075.2,337.9 1075.3,344.8 1075.4,351.6 1075.5,358.2 1075.6,364.6 1075.7,370.7 1075.8,376.5 1075.9,382 1076,387.1 1076.1,392 1076.2,396.5 1076.3,400.7 1076.4,404.6 1076.5,408.2 1076.6,411.6 1076.7,414.7 1076.8,417.6 1076.9,420.3 1077,422.8 1077.1,425.2 1077.2,427.3 1077.3,429.4 1077.4,431.2 1077.5,433 1077.6,434.6 1077.7,436.2 1077.8,437.6 1077.9,439 1078,440.2 1078.1,441.4 1078.2,442.5 1078.3,443.6 1078.4,444.5 1078.5,445.5 1078.6,446.3 1078.7,447.1 1078.8,447.9 1078.9,448.7 1079,449.3 1079.1,450 1079.2,450.6 1079.3,451.2 1079.4,451.8 1079.5,452.3 1079.6,452.8 1079.7,453.3 1079.8,453.7 1079.9,454.2 1080,454.6 1080.1,455 1080.2,455.4 1080.3,455.7 1080.4,456.1 1080.5,456.4 1080.6,456.7 1080.7,457 1080.8,457.3 1080.9,457.6 1081,457.8 1081.1,458.1 1081.2,458.3 1081.3,458.6 1081.4,458.8 1081.5,459 1081.6,459.2 1081.7,459.4 1081.8,459.6 1081.9,459.8 1082,460 1082.1,460.1 1082.2,460.3 1082.3,460.5 1082.4,460.6 1082.5,460.8 1082.6,460.9 1082.7,461 1082.8,461.2 1082.9,461.3 1083,461.4 1083.1,461.6 1083.2,461.7 1083.3,461.8 1083.4,461.9 1083.5,462 1083.6,462.1 1083.7,462.2 1083.8,462.3 1083.9,462.4 1084,462.5 1084.1,462.6 1084.2,462.7 1084.3,462.8 1084.4,462.8 1084.5,462.9 1084.6,463 1084.7,463.1 1084.8,463.1 1084.9,463.2 1085,463.3 1085.1,463.3 1085.2,463.4 1085.3,463.5 1085.4,463.5 1085.5,463.6 1085.6,463.7 1085.7,463.7 1085.8,463.8 1085.9,463.8 1086,463.9 1086.1,463.9 1086.2,464 1086.3,464 1086.4,464.1 1086.5,464.1 1086.6,464.2 1086.7,464.2 1086.8,464.3 1086.9,464.3 1087,464.3 1087.1,464.4 1087.2,464.4 1087.3,464.5 1087.4,464.5 1087.5,464.5 1087.6,464.6 1087.7,464.6 1087.8,464.6 1087.9,464.7 1088.3,464.8 1088.8,465 1089.3,465.1 1089.8,465.2 1090.3,465.3 1090.8,465.4 1091.3,465.5 1091.8,465.6 1092.3,465.7 1092.8,465.7 1093.3,465.8 1093.8,465.9 1094.3,465.9 1094.8,466 1095.3,466 1095.8,466.1 1096.3,466.1 1096.8,466.1 1097.3,466.2 1097.8,466.2 1098.3,466.2 1098.8,466.3 1099.3,466.3 1099.8,466.3 1100.3,466.4 1100.8,466.4 1101.3,466.4 1101.8,466.4 1102.3,466.4 1102.8,466.5 1103.3,466.5 1103.8,466.5 1104.3,466.5 1104.8,466.5 L1104.8,467.0 L1050.3,467.0 Z" fill="#777" fill-opacity="0.25" stroke="none"/>
<path d="M1050.3,466.2 1050.8,466.2 1051.3,466.2 1051.8,466.1 1052.3,466.1 1052.8,466.1 1053.3,466 1053.8,466 1054.3,465.9 1054.8,465.9 1055.3,465.8 1055.8,465.7 1056.3,465.7 1056.8,465.6 1057.3,465.5 1057.8,465.4 1058,465.4 1058.1,465.4 1058.2,465.3 1058.3,465.3 1058.4,465.3 1058.5,465.3 1058.6,465.3 1058.7,465.2 1058.8,465.2 1058.9,465.2 1059,465.2 1059.1,465.1 1059.2,465.1 1059.3,465.1 1059.4,465.1 1059.5,465 1059.6,465 1059.7,465 1059.8,465 1059.9,464.9 1060,464.9 1060.1,464.9 1060.2,464.8 1060.3,464.8 1060.4,464.8 1060.5,464.7 1060.6,464.7 1060.7,464.7 1060.8,464.6 1060.9,464.6 1061,464.6 1061.1,464.5 1061.2,464.5 1061.3,464.5 1061.4,464.4 1061.5,464.4 1061.6,464.3 1061.7,464.3 1061.8,464.3 1061.9,464.2 1062,464.2 1062.1,464.1 1062.2,464.1 1062.3,464 1062.4,464 1062.5,463.9 1062.6,463.9 1062.7,463.8 1062.8,463.8 1062.9,463.7 1063,463.7 1063.1,463.6 1063.2,463.5 1063.3,463.5 1063.4,463.4 1063.5,463.3 1063.6,463.3 1063.7,463.2 1063.8,463.1 1063.9,463.1 1064,463 1064.1,462.9 1064.2,462.8 1064.3,462.8 1064.4,462.7 1064.5,462.6 1064.6,462.5 1064.7,462.4 1064.8,462.3 1064.9,462.2 1065,462.1 1065.1,462 1065.2,461.9 1065.3,461.8 1065.4,461.7 1065.5,461.6 1065.6,461.4 1065.7,461.3 1065.8,461.2 1065.9,461 1066,460.9 1066.1,460.8 1066.2,460.6 1066.3,460.5 1066.4,460.3 1066.5,460.1 1066.6,460 1066.7,459.8 1066.8,459.6 1066.9,459.4 1067,459.2 1067.1,459 1067.2,458.8 1067.3,458.6 1067.4,458.3 1067.5,458.1 1067.6,457.8 1067.7,457.6 1067.8,457.3 1067.9,457 1068,456.7 1068.1,456.4 1068.2,456.1 1068.3,455.7 1068.4,455.4 1068.5,455 1068.6,454.6 1068.7,454.2 1068.8,453.7 1068.9,453.3 1069,452.8 1069.1,452.3 1069.2,451.8 1069.3,451.2 1069.4,450.6 1069.5,450 1069.6,449.3 1069.7,448.7 1069.8,447.9 1069.9,447.1 1070,446.3 1070.1,445.5 1070.2,444.5 1070.3,443.6 1070.4,442.5 1070.5,441.4 1070.6,440.2 1070.7,439 1070.8,437.6 1070.9,436.2 1071,434.6 1071.1,433 1071.2,431.2 1071.3,429.4 1071.4,427.3 1071.5,425.2 1071.6,422.8 1071.7,420.3 1071.8,417.6 1071.9,414.7 1072,411.6 1072.1,408.2 1072.2,404.6 1072.3,400.7 1072.4,396.5 1072.5,392 1072.6,387.1 1072.7,382 1072.8,376.5 1072.9,370.7 1073,364.6 1073.1,358.2 1073.2,351.6 1073.3,344.8 1073.4,337.9 1073.5,331 1073.6,324.3 1073.7,318 1073.8,312.1 1073.9,307 1074,302.8 1074.1,299.6 1074.2,297.7 1074.3,297 1074.4,297.7 1074.5,299.6 1074.6,302.8 1074.7,307 1074.8,312.1 1074.9,318 1075,324.3 1075.1,331 1075.2,337.9 1075.3,344.8 1075.4,351.6 1075.5,358.2 1075.6,364.6 1075.7,370.7 1075.8,376.5 1075.9,382 1076,387.1 1076.1,392 1076.2,396.5 1076.3,400.7 1076.4,404.6 1076.5,408.2 1076.6,411.6 1076.7,414.7 1076.8,417.6 1076.9,420.3 1077,422.8 1077.1,425.2 1077.2,427.3 1077.3,429.4 1077.4,431.2 1077.5,433 1077.6,434.6 1077.7,436.2 1077.8,437.6 1077.9,439 1078,440.2 1078.1,441.4 1078.2,442.5 1078.3,443.6 1078.4,444.5 1078.5,445.5 1078.6,446.3 1078.7,447.1 1078.8,447.9 1078.9,448.7 1079,449.3 1079.1,450 1079.2,450.6 1079.3,451.2 1079.4,451.8 1079.5,452.3 1079.6,452.8 1079.7,453.3 1079.8,453.7 1079.9,454.2 1080,454.6 1080.1,455 1080.2,455.4 1080.3,455.7 1080.4,456.1 1080.5,456.4 1080.6,456.7 1080.7,457 1080.8,457.3 1080.9,457.6 1081,457.8 1081.1,458.1 1081.2,458.3 1081.3,458.6 1081.4,458.8 1081.5,459 1081.6,459.2 1081.7,459.4 1081.8,459.6 1081.9,459.8 1082,460 1082.1,460.1 1082.2,460.3 1082.3,460.5 1082.4,460.6 1082.5,460.8 1082.6,460.9 1082.7,461 1082.8,461.2 1082.9,461.3 1083,461.4 1083.1,461.6 1083.2,461.7 1083.3,461.8 1083.4,461.9 1083.5,462 1083.6,462.1 1083.7,462.2 1083.8,462.3 1083.9,462.4 1084,462.5 1084.1,462.6 1084.2,462.7 1084.3,462.8 1084.4,462.8 1084.5,462.9 1084.6,463 1084.7,463.1 1084.8,463.1 1084.9,463.2 1085,463.3 1085.1,463.3 1085.2,463.4 1085.3,463.5 1085.4,463.5 1085.5,463.6 1085.6,463.7 1085.7,463.7 1085.8,463.8 1085.9,463.8 1086,463.9 1086.1,463.9 1086.2,464 1086.3,464 1086.4,464.1 1086.5,464.1 1086.6,464.2 1086.7,464.2 1086.8,464.3 1086.9,464.3 1087,464.3 1087.1,464.4 1087.2,464.4 1087.3,464.5 1087.4,464.5 1087.5,464.5 1087.6,464.6 1087.7,464.6 1087.8,464.6 1087.9,464.7 1088.3,464.8 1088.8,465 1089.3,465.1 1089.8,465.2 1090.3,465.3 1090.8,465.4 1091.3,465.5 1091.8,465.6 1092.3,465.7 1092.8,465.7 1093.3,465.8 1093.8,465.9 1094.3,465.9 1094.8,466 1095.3,466 1095.8,466.1 1096.3,466.1 1096.8,466.1 1097.3,466.2 1097.8,466.2 1098.3,466.2 1098.8,466.3 1099.3,466.3 1099.8,466.3 1100.3,466.4 1100.8,466.4 1101.3,466.4 1101.8,466.4 1102.3,466.4 1102.8,466.5 1103.3,466.5 1103.8,466.5 1104.3,466.5 1104.8,466.5" fill="none" stroke="#444" stroke-width="0.9"/>
<line x1="736.3" y1="467.0" x2="1386.3" y2="467.0" stroke="#111" stroke-width="2.2"/>
<line x1="1361.2" y1="467.0" x2="1361.2" y2="477.2" stroke="#111" stroke-width="1.7"/>
<text transform="translate(1361.2,506.7) scale(0.955,1)" font-family="'Liberation Sans', sans-serif" font-size="30" fill="#111" stroke="#111" stroke-width="0.25" text-anchor="middle">−25</text>
<line x1="1331.2" y1="467.0" x2="1331.2" y2="472.5" stroke="#111" stroke-width="1.5"/>
<line x1="1301.2" y1="467.0" x2="1301.2" y2="477.2" stroke="#111" stroke-width="1.7"/>
<text transform="translate(1301.2,506.7) scale(0.955,1)" font-family="'Liberation Sans', sans-serif" font-size="30" fill="#111" stroke="#111" stroke-width="0.25" text-anchor="middle">−20</text>
<line x1="1271.2" y1="467.0" x2="1271.2" y2="472.5" stroke="#111" stroke-width="1.5"/>
<line x1="1241.2" y1="467.0" x2="1241.2" y2="477.2" stroke="#111" stroke-width="1.7"/>
<text transform="translate(1241.2,506.7) scale(0.955,1)" font-family="'Liberation Sans', sans-serif" font-size="30" fill="#111" stroke="#111" stroke-width="0.25" text-anchor="middle">−15</text>
<line x1="1211.2" y1="467.0" x2="1211.2" y2="472.5" stroke="#111" stroke-width="1.5"/>
<line x1="1181.2" y1="467.0" x2="1181.2" y2="477.2" stroke="#111" stroke-width="1.7"/>
<text transform="translate(1181.2,506.7) scale(0.955,1)" font-family="'Liberation Sans', sans-serif" font-size="30" fill="#111" stroke="#111" stroke-width="0.25" text-anchor="middle">−10</text>
<line x1="1151.2" y1="467.0" x2="1151.2" y2="472.5" stroke="#111" stroke-width="1.5"/>
<line x1="1121.2" y1="467.0" x2="1121.2" y2="477.2" stroke="#111" stroke-width="1.7"/>
<text transform="translate(1121.2,506.7) scale(0.955,1)" font-family="'Liberation Sans', sans-serif" font-size="30" fill="#111" stroke="#111" stroke-width="0.25" text-anchor="middle">−5</text>
<line x1="1091.2" y1="467.0" x2="1091.2" y2="472.5" stroke="#111" stroke-width="1.5"/>
<line x1="1061.2" y1="467.0" x2="1061.2" y2="477.2" stroke="#111" stroke-width="1.7"/>
<text transform="translate(1061.2,506.7) scale(0.955,1)" font-family="'Liberation Sans', sans-serif" font-size="30" fill="#111" stroke="#111" stroke-width="0.25" text-anchor="middle">0</text>
<line x1="1031.2" y1="467.0" x2="1031.2" y2="472.5" stroke="#111" stroke-width="1.5"/>
<line x1="1001.2" y1="467.0" x2="1001.2" y2="477.2" stroke="#111" stroke-width="1.7"/>
<text transform="translate(1001.2,506.7) scale(0.955,1)" font-family="'Liberation Sans', sans-serif" font-size="30" fill="#111" stroke="#111" stroke-width="0.25" text-anchor="middle">5</text>
<line x1="971.2" y1="467.0" x2="971.2" y2="472.5" stroke="#111" stroke-width="1.5"/>
<line x1="941.2" y1="467.0" x2="941.2" y2="477.2" stroke="#111" stroke-width="1.7"/>
<text transform="translate(941.2,506.7) scale(0.955,1)" font-family="'Liberation Sans', sans-serif" font-size="30" fill="#111" stroke="#111" stroke-width="0.25" text-anchor="middle">10</text>
<line x1="911.2" y1="467.0" x2="911.2" y2="472.5" stroke="#111" stroke-width="1.5"/>
<line x1="881.2" y1="467.0" x2="881.2" y2="477.2" stroke="#111" stroke-width="1.7"/>
<text transform="translate(881.2,506.7) scale(0.955,1)" font-family="'Liberation Sans', sans-serif" font-size="30" fill="#111" stroke="#111" stroke-width="0.25" text-anchor="middle">15</text>
<line x1="851.2" y1="467.0" x2="851.2" y2="472.5" stroke="#111" stroke-width="1.5"/>
<line x1="821.2" y1="467.0" x2="821.2" y2="477.2" stroke="#111" stroke-width="1.7"/>
<text transform="translate(821.2,506.7) scale(0.955,1)" font-family="'Liberation Sans', sans-serif" font-size="30" fill="#111" stroke="#111" stroke-width="0.25" text-anchor="middle">20</text>
<line x1="791.2" y1="467.0" x2="791.2" y2="472.5" stroke="#111" stroke-width="1.5"/>
<line x1="761.2" y1="467.0" x2="761.2" y2="477.2" stroke="#111" stroke-width="1.7"/>
<text transform="translate(761.2,506.7) scale(0.955,1)" font-family="'Liberation Sans', sans-serif" font-size="30" fill="#111" stroke="#111" stroke-width="0.25" text-anchor="middle">25</text>
<text x="1395.7" y="543.9" font-family="'Liberation Sans', sans-serif" font-size="31.5" fill="#111" stroke="#111" stroke-width="0.25" text-anchor="end">[ppm]</text>
<path d="M615,1038.2 615.5,1038.2 616,1038.2 616.5,1038.2 617,1038.2 617.5,1038.2 618,1038.2 618.5,1038.2 619,1038.2 619.5,1038.2 620,1038.2 620.5,1038.2 621,1038.2 621.5,1038.2 622,1038.2 622.5,1038.2 623,1038.2 623.5,1038.2 624,1038.2 624.5,1038.2 625,1038.2 625.5,1038.1 626,1038.1 626.5,1038.1 627,1038.1 627.5,1038.1 628,1038.1 628.5,1038.1 629,1038.1 629.5,1038.1 630,1038.1 630.5,1038.1 631,1038.1 631.5,1038.1 632,1038.1 632.5,1038.1 633,1038.1 633.5,1038.1 634,1038.1 634.5,1038.1 635,1038 635.5,1038 636,1038 636.5,1038 637,1038 637.5,1038 638,1038 638.5,1038 639,1038 639.5,1038 640,1038 640.5,1038 641,1038 641.5,1038 642,1038 642.5,1037.9 643,1037.9 643.5,1037.9 644,1037.9 644.5,1037.9 645,1037.9 645.5,1037.9 646,1037.9 646.5,1037.9 647,1037.9 647.5,1037.9 648,1037.9 648.5,1037.9 649,1037.8 649.5,1037.8 650,1037.8 650.5,1037.8 651,1037.8 651.5,1037.8 652,1037.8 652.5,1037.8 653,1037.8 653.5,1037.8 654,1037.7 654.5,1037.7 655,1037.7 655.5,1037.7 656,1037.7 656.5,1037.7 657,1037.7 657.5,1037.7 658,1037.7 658.5,1037.6 659,1037.6 659.5,1037.6 660,1037.6 660.5,1037.6 661,1037.6 661.5,1037.6 662,1037.6 662.5,1037.5 663,1037.5 663.5,1037.5 664,1037.5 664.5,1037.5 665,1037.5 665.5,1037.5 666,1037.4 666.5,1037.4 667,1037.4 667.5,1037.4 668,1037.4 668.5,1037.4 669,1037.3 669.5,1037.3 670,1037.3 670.5,1037.3 671,1037.3 671.5,1037.2 672,1037.2 672.5,1037.2 673,1037.2 673.5,1037.2 674,1037.1 674.5,1037.1 675,1037.1 675.5,1037.1 676,1037 676.5,1037 677,1037 677.5,1037 678,1036.9 678.5,1036.9 679,1036.9 679.5,1036.9 680,1036.8 680.5,1036.8 681,1036.8 681.5,1036.7 682,1036.7 682.5,1036.7 683,1036.7 683.5,1036.6 684,1036.6 684.5,1036.6 685,1036.5 685.5,1036.5 686,1036.4 686.5,1036.4 687,1036.4 687.5,1036.3 688,1036.3 688.5,1036.2 689,1036.2 689.5,1036.2 690,1036.1 690.5,1036.1 691,1036 691.5,1036 692,1035.9 692.5,1035.9 693,1035.8 693.5,1035.7 694,1035.7 694.5,1035.6 695,1035.6 695.5,1035.5 696,1035.4 696.5,1035.4 697,1035.3 697.5,1035.2 698,1035.2 698.5,1035.1 699,1035 699.5,1034.9 700,1034.8 700.5,1034.7 701,1034.6 701.5,1034.5 702,1034.4 702.5,1034.3 703,1034.2 703.5,1034.1 704,1034 704.5,1033.9 705,1033.7 705.5,1033.6 706,1033.4 706.5,1033.3 707,1033.1 707.5,1033 708,1032.8 708.5,1032.6 709,1032.4 709.5,1032.2 710,1032 710.5,1031.8 711,1031.5 711.5,1031.3 712,1031 712.5,1030.8 713,1030.5 713.5,1030.2 714,1029.9 714.5,1029.5 715,1029.2 715.5,1028.8 716,1028.5 716.5,1028.1 717,1027.7 717.5,1027.2 718,1026.8 718.5,1026.3 719,1025.8 719.5,1025.3 720,1024.8 720.5,1024.2 721,1023.6 721.5,1023 722,1022.4 722.5,1021.8 723,1021.1 723.5,1020.4 724,1019.7 724.5,1018.9 725,1018.2 725.5,1017.4 726,1016.6 726.5,1015.7 727,1014.9 727.5,1014 728,1013.1 728.5,1012.2 729,1011.2 729.1,1011 729.2,1010.8 729.3,1010.6 729.4,1010.4 729.5,1010.3 729.6,1010.1 729.7,1009.9 729.8,1009.7 729.9,1009.5 730,1009.3 730.1,1009.1 730.2,1008.9 730.3,1008.7 730.4,1008.5 730.5,1008.3 730.6,1008.1 730.7,1007.9 730.8,1007.7 730.9,1007.5 731,1007.3 731.1,1007.1 731.2,1006.9 731.3,1006.7 731.4,1006.5 731.5,1006.3 731.6,1006.1 731.7,1005.9 731.8,1005.7 731.9,1005.5 732,1005.3 732.1,1005.1 732.2,1004.9 732.3,1004.7 732.4,1004.5 732.5,1004.3 732.6,1004.1 732.7,1003.9 732.8,1003.7 732.9,1003.5 733,1003.3 733.1,1003.1 733.2,1002.9 733.3,1002.7 733.4,1002.5 733.5,1002.3 733.6,1002.1 733.7,1001.9 733.8,1001.7 733.9,1001.5 734,1001.3 734.1,1001.1 734.2,1000.9 734.3,1000.7 734.4,1000.5 734.5,1000.3 734.6,1000.1 734.7,1000 734.8,999.8 734.9,999.6 735,999.4 735.1,999.2 735.2,999 735.3,998.8 735.4,998.6 735.5,998.5 735.6,998.3 735.7,998.1 735.8,997.9 735.9,997.8 736,997.6 736.1,997.4 736.2,997.2 736.3,997.1 736.4,996.9 736.5,996.7 736.6,996.6 736.7,996.4 736.8,996.2 736.9,996.1 737,995.9 737.1,995.8 737.2,995.6 737.3,995.5 737.4,995.3 737.5,995.2 737.6,995 737.7,994.9 737.8,994.8 737.9,994.6 738,994.5 738.1,994.4 738.2,994.2 738.3,994.1 738.4,994 738.5,993.9 738.6,993.7 738.7,993.6 738.8,993.5 738.9,993.4 739,993.3 739.1,993.2 739.2,993.1 739.3,993 739.4,992.9 739.5,992.8 739.6,992.7 739.7,992.7 739.8,992.6 739.9,992.5 740,992.4 740.1,992.4 740.2,992.3 740.3,992.2 740.4,992.2 740.5,992.1 740.6,992.1 740.7,992 740.8,992 740.9,991.9 741,991.9 741.1,991.8 741.2,991.8 741.3,991.8 741.4,991.8 741.5,991.7 741.6,991.7 741.7,991.7 741.8,991.7 741.9,991.7 742,991.7 742.1,991.7 742.2,991.7 742.3,991.7 742.4,991.7 742.5,991.7 742.6,991.8 742.7,991.8 742.8,991.8 742.9,991.8 743,991.9 743.1,991.9 743.2,992 743.3,992 743.4,992.1 743.5,992.1 743.6,992.2 743.7,992.2 743.8,992.3 743.9,992.4 744,992.4 744.1,992.5 744.2,992.6 744.3,992.7 744.4,992.7 744.5,992.8 744.6,992.9 744.7,993 744.8,993.1 744.9,993.2 745,993.3 745.1,993.4 745.2,993.5 745.3,993.6 745.4,993.7 745.5,993.9 745.6,994 745.7,994.1 745.8,994.2 745.9,994.4 746,994.5 746.1,994.6 746.2,994.8 746.3,994.9 746.4,995 746.5,995.2 746.6,995.3 746.7,995.5 746.8,995.6 746.9,995.8 747,995.9 747.1,996.1 747.2,996.2 747.3,996.4 747.4,996.6 747.5,996.7 747.6,996.9 747.7,997.1 747.8,997.2 747.9,997.4 748,997.6 748.1,997.8 748.2,997.9 748.3,998.1 748.4,998.3 748.5,998.5 748.6,998.6 748.7,998.8 748.8,999 748.9,999.2 749,999.4 749.1,999.6 749.2,999.8 749.3,1000 749.4,1000.1 749.5,1000.3 749.6,1000.5 749.7,1000.7 749.8,1000.9 749.9,1001.1 750,1001.3 750.1,1001.5 750.2,1001.7 750.3,1001.9 750.4,1002.1 750.5,1002.3 750.6,1002.5 750.7,1002.7 750.8,1002.9 750.9,1003.1 751,1003.3 751.1,1003.5 751.2,1003.7 751.3,1003.9 751.4,1004.1 751.5,1004.3 751.6,1004.5 751.7,1004.7 751.8,1004.9 751.9,1005.1 752,1005.3 752.1,1005.5 752.2,1005.7 752.3,1005.9 752.4,1006.1 752.5,1006.3 752.6,1006.5 752.7,1006.7 752.8,1006.9 752.9,1007.1 753,1007.3 753.1,1007.5 753.2,1007.7 753.3,1007.9 753.4,1008.1 753.5,1008.3 753.6,1008.5 753.7,1008.7 753.8,1008.9 753.9,1009.1 754,1009.3 754.1,1009.5 754.2,1009.7 754.3,1009.9 754.4,1010.1 754.5,1010.3 754.6,1010.4 754.7,1010.6 754.8,1010.8 754.9,1011 755,1011.2 755.5,1012.2 756,1013.1 756.5,1014 757,1014.9 757.5,1015.7 758,1016.6 758.5,1017.4 759,1018.2 759.5,1018.9 760,1019.7 760.5,1020.4 761,1021.1 761.5,1021.8 762,1022.4 762.5,1023 763,1023.6 763.5,1024.2 764,1024.8 764.5,1025.3 765,1025.8 765.5,1026.3 766,1026.8 766.5,1027.2 767,1027.7 767.5,1028.1 768,1028.5 768.5,1028.8 769,1029.2 769.5,1029.5 770,1029.9 770.5,1030.2 771,1030.5 771.5,1030.8 772,1031 772.5,1031.3 773,1031.5 773.5,1031.8 774,1032 774.5,1032.2 775,1032.4 775.5,1032.6 776,1032.8 776.5,1033 777,1033.1 777.5,1033.3 778,1033.4 778.5,1033.6 779,1033.7 779.5,1033.9 780,1034 780.5,1034.1 781,1034.2 781.5,1034.3 782,1034.4 782.5,1034.5 783,1034.6 783.5,1034.7 784,1034.8 784.5,1034.9 785,1035 785.5,1035.1 786,1035.2 786.5,1035.2 787,1035.3 787.5,1035.4 788,1035.4 788.5,1035.5 789,1035.6 789.5,1035.6 790,1035.7 790.5,1035.7 791,1035.8 791.5,1035.9 792,1035.9 792.5,1036 793,1036 793.5,1036.1 794,1036.1 794.5,1036.2 795,1036.2 795.5,1036.2 796,1036.3 796.5,1036.3 797,1036.4 797.5,1036.4 798,1036.4 798.5,1036.5 799,1036.5 799.5,1036.6 800,1036.6 800.5,1036.6 801,1036.7 801.5,1036.7 802,1036.7 802.5,1036.7 803,1036.8 803.5,1036.8 804,1036.8 804.5,1036.9 805,1036.9 805.5,1036.9 806,1036.9 806.5,1037 807,1037 807.5,1037 808,1037 808.5,1037.1 809,1037.1 809.5,1037.1 810,1037.1 810.5,1037.2 811,1037.2 811.5,1037.2 812,1037.2 812.5,1037.2 813,1037.3 813.5,1037.3 814,1037.3 814.5,1037.3 815,1037.3 815.5,1037.4 816,1037.4 816.5,1037.4 817,1037.4 817.5,1037.4 818,1037.4 818.5,1037.5 819,1037.5 819.5,1037.5 820,1037.5 820.5,1037.5 821,1037.5 821.5,1037.5 822,1037.6 822.5,1037.6 823,1037.6 823.5,1037.6 824,1037.6 824.5,1037.6 825,1037.6 825.5,1037.6 826,1037.7 826.5,1037.7 827,1037.7 827.5,1037.7 828,1037.7 828.5,1037.7 829,1037.7 829.5,1037.7 830,1037.7 830.5,1037.8 831,1037.8 831.5,1037.8 832,1037.8 832.5,1037.8 833,1037.8 833.5,1037.8 834,1037.8 834.5,1037.8 835,1037.8 835.5,1037.9 836,1037.9 836.5,1037.9 837,1037.9 837.5,1037.9 838,1037.9 838.5,1037.9 839,1037.9 839.5,1037.9 840,1037.9 840.5,1037.9 841,1037.9 841.5,1037.9 842,1038 842.5,1038 843,1038 843.5,1038 844,1038 844.5,1038 845,1038 845.5,1038 846,1038 846.5,1038 847,1038 847.5,1038 848,1038 848.5,1038 849,1038 849.5,1038.1 850,1038.1 850.5,1038.1 851,1038.1 851.5,1038.1 852,1038.1 852.5,1038.1 853,1038.1 853.5,1038.1 854,1038.1 854.5,1038.1 855,1038.1 855.5,1038.1 856,1038.1 856.5,1038.1 857,1038.1 857.5,1038.1 858,1038.1 858.5,1038.1 859,1038.2 859.5,1038.2 860,1038.2 860.5,1038.2 861,1038.2 861.5,1038.2 862,1038.2 862.5,1038.2 863,1038.2 863.5,1038.2 864,1038.2 864.5,1038.2 865,1038.2 865.5,1038.2 866,1038.2 866.5,1038.2 867,1038.2 867.5,1038.2 868,1038.2 L868.0,1040.0 L615.0,1040.0 Z" fill="#fbd9b3" stroke="none"/>
<path d="M615,1038.2 615.5,1038.2 616,1038.2 616.5,1038.2 617,1038.2 617.5,1038.2 618,1038.2 618.5,1038.2 619,1038.2 619.5,1038.2 620,1038.2 620.5,1038.2 621,1038.2 621.5,1038.2 622,1038.2 622.5,1038.2 623,1038.2 623.5,1038.2 624,1038.2 624.5,1038.2 625,1038.2 625.5,1038.1 626,1038.1 626.5,1038.1 627,1038.1 627.5,1038.1 628,1038.1 628.5,1038.1 629,1038.1 629.5,1038.1 630,1038.1 630.5,1038.1 631,1038.1 631.5,1038.1 632,1038.1 632.5,1038.1 633,1038.1 633.5,1038.1 634,1038.1 634.5,1038.1 635,1038 635.5,1038 636,1038 636.5,1038 637,1038 637.5,1038 638,1038 638.5,1038 639,1038 639.5,1038 640,1038 640.5,1038 641,1038 641.5,1038 642,1038 642.5,1037.9 643,1037.9 643.5,1037.9 644,1037.9 644.5,1037.9 645,1037.9 645.5,1037.9 646,1037.9 646.5,1037.9 647,1037.9 647.5,1037.9 648,1037.9 648.5,1037.9 649,1037.8 649.5,1037.8 650,1037.8 650.5,1037.8 651,1037.8 651.5,1037.8 652,1037.8 652.5,1037.8 653,1037.8 653.5,1037.8 654,1037.7 654.5,1037.7 655,1037.7 655.5,1037.7 656,1037.7 656.5,1037.7 657,1037.7 657.5,1037.7 658,1037.7 658.5,1037.6 659,1037.6 659.5,1037.6 660,1037.6 660.5,1037.6 661,1037.6 661.5,1037.6 662,1037.6 662.5,1037.5 663,1037.5 663.5,1037.5 664,1037.5 664.5,1037.5 665,1037.5 665.5,1037.5 666,1037.4 666.5,1037.4 667,1037.4 667.5,1037.4 668,1037.4 668.5,1037.4 669,1037.3 669.5,1037.3 670,1037.3 670.5,1037.3 671,1037.3 671.5,1037.2 672,1037.2 672.5,1037.2 673,1037.2 673.5,1037.2 674,1037.1 674.5,1037.1 675,1037.1 675.5,1037.1 676,1037 676.5,1037 677,1037 677.5,1037 678,1036.9 678.5,1036.9 679,1036.9 679.5,1036.9 680,1036.8 680.5,1036.8 681,1036.8 681.5,1036.7 682,1036.7 682.5,1036.7 683,1036.7 683.5,1036.6 684,1036.6 684.5,1036.6 685,1036.5 685.5,1036.5 686,1036.4 686.5,1036.4 687,1036.4 687.5,1036.3 688,1036.3 688.5,1036.2 689,1036.2 689.5,1036.2 690,1036.1 690.5,1036.1 691,1036 691.5,1036 692,1035.9 692.5,1035.9 693,1035.8 693.5,1035.7 694,1035.7 694.5,1035.6 695,1035.6 695.5,1035.5 696,1035.4 696.5,1035.4 697,1035.3 697.5,1035.2 698,1035.2 698.5,1035.1 699,1035 699.5,1034.9 700,1034.8 700.5,1034.7 701,1034.6 701.5,1034.5 702,1034.4 702.5,1034.3 703,1034.2 703.5,1034.1 704,1034 704.5,1033.9 705,1033.7 705.5,1033.6 706,1033.4 706.5,1033.3 707,1033.1 707.5,1033 708,1032.8 708.5,1032.6 709,1032.4 709.5,1032.2 710,1032 710.5,1031.8 711,1031.5 711.5,1031.3 712,1031 712.5,1030.8 713,1030.5 713.5,1030.2 714,1029.9 714.5,1029.5 715,1029.2 715.5,1028.8 716,1028.5 716.5,1028.1 717,1027.7 717.5,1027.2 718,1026.8 718.5,1026.3 719,1025.8 719.5,1025.3 720,1024.8 720.5,1024.2 721,1023.6 721.5,1023 722,1022.4 722.5,1021.8 723,1021.1 723.5,1020.4 724,1019.7 724.5,1018.9 725,1018.2 725.5,1017.4 726,1016.6 726.5,1015.7 727,1014.9 727.5,1014 728,1013.1 728.5,1012.2 729,1011.2 729.1,1011 729.2,1010.8 729.3,1010.6 729.4,1010.4 729.5,1010.3 729.6,1010.1 729.7,1009.9 729.8,1009.7 729.9,1009.5 730,1009.3 730.1,1009.1 730.2,1008.9 730.3,1008.7 730.4,1008.5 730.5,1008.3 730.6,1008.1 730.7,1007.9 730.8,1007.7 730.9,1007.5 731,1007.3 731.1,1007.1 731.2,1006.9 731.3,1006.7 731.4,1006.5 731.5,1006.3 731.6,1006.1 731.7,1005.9 731.8,1005.7 731.9,1005.5 732,1005.3 732.1,1005.1 732.2,1004.9 732.3,1004.7 732.4,1004.5 732.5,1004.3 732.6,1004.1 732.7,1003.9 732.8,1003.7 732.9,1003.5 733,1003.3 733.1,1003.1 733.2,1002.9 733.3,1002.7 733.4,1002.5 733.5,1002.3 733.6,1002.1 733.7,1001.9 733.8,1001.7 733.9,1001.5 734,1001.3 734.1,1001.1 734.2,1000.9 734.3,1000.7 734.4,1000.5 734.5,1000.3 734.6,1000.1 734.7,1000 734.8,999.8 734.9,999.6 735,999.4 735.1,999.2 735.2,999 735.3,998.8 735.4,998.6 735.5,998.5 735.6,998.3 735.7,998.1 735.8,997.9 735.9,997.8 736,997.6 736.1,997.4 736.2,997.2 736.3,997.1 736.4,996.9 736.5,996.7 736.6,996.6 736.7,996.4 736.8,996.2 736.9,996.1 737,995.9 737.1,995.8 737.2,995.6 737.3,995.5 737.4,995.3 737.5,995.2 737.6,995 737.7,994.9 737.8,994.8 737.9,994.6 738,994.5 738.1,994.4 738.2,994.2 738.3,994.1 738.4,994 738.5,993.9 738.6,993.7 738.7,993.6 738.8,993.5 738.9,993.4 739,993.3 739.1,993.2 739.2,993.1 739.3,993 739.4,992.9 739.5,992.8 739.6,992.7 739.7,992.7 739.8,992.6 739.9,992.5 740,992.4 740.1,992.4 740.2,992.3 740.3,992.2 740.4,992.2 740.5,992.1 740.6,992.1 740.7,992 740.8,992 740.9,991.9 741,991.9 741.1,991.8 741.2,991.8 741.3,991.8 741.4,991.8 741.5,991.7 741.6,991.7 741.7,991.7 741.8,991.7 741.9,991.7 742,991.7 742.1,991.7 742.2,991.7 742.3,991.7 742.4,991.7 742.5,991.7 742.6,991.8 742.7,991.8 742.8,991.8 742.9,991.8 743,991.9 743.1,991.9 743.2,992 743.3,992 743.4,992.1 743.5,992.1 743.6,992.2 743.7,992.2 743.8,992.3 743.9,992.4 744,992.4 744.1,992.5 744.2,992.6 744.3,992.7 744.4,992.7 744.5,992.8 744.6,992.9 744.7,993 744.8,993.1 744.9,993.2 745,993.3 745.1,993.4 745.2,993.5 745.3,993.6 745.4,993.7 745.5,993.9 745.6,994 745.7,994.1 745.8,994.2 745.9,994.4 746,994.5 746.1,994.6 746.2,994.8 746.3,994.9 746.4,995 746.5,995.2 746.6,995.3 746.7,995.5 746.8,995.6 746.9,995.8 747,995.9 747.1,996.1 747.2,996.2 747.3,996.4 747.4,996.6 747.5,996.7 747.6,996.9 747.7,997.1 747.8,997.2 747.9,997.4 748,997.6 748.1,997.8 748.2,997.9 748.3,998.1 748.4,998.3 748.5,998.5 748.6,998.6 748.7,998.8 748.8,999 748.9,999.2 749,999.4 749.1,999.6 749.2,999.8 749.3,1000 749.4,1000.1 749.5,1000.3 749.6,1000.5 749.7,1000.7 749.8,1000.9 749.9,1001.1 750,1001.3 750.1,1001.5 750.2,1001.7 750.3,1001.9 750.4,1002.1 750.5,1002.3 750.6,1002.5 750.7,1002.7 750.8,1002.9 750.9,1003.1 751,1003.3 751.1,1003.5 751.2,1003.7 751.3,1003.9 751.4,1004.1 751.5,1004.3 751.6,1004.5 751.7,1004.7 751.8,1004.9 751.9,1005.1 752,1005.3 752.1,1005.5 752.2,1005.7 752.3,1005.9 752.4,1006.1 752.5,1006.3 752.6,1006.5 752.7,1006.7 752.8,1006.9 752.9,1007.1 753,1007.3 753.1,1007.5 753.2,1007.7 753.3,1007.9 753.4,1008.1 753.5,1008.3 753.6,1008.5 753.7,1008.7 753.8,1008.9 753.9,1009.1 754,1009.3 754.1,1009.5 754.2,1009.7 754.3,1009.9 754.4,1010.1 754.5,1010.3 754.6,1010.4 754.7,1010.6 754.8,1010.8 754.9,1011 755,1011.2 755.5,1012.2 756,1013.1 756.5,1014 757,1014.9 757.5,1015.7 758,1016.6 758.5,1017.4 759,1018.2 759.5,1018.9 760,1019.7 760.5,1020.4 761,1021.1 761.5,1021.8 762,1022.4 762.5,1023 763,1023.6 763.5,1024.2 764,1024.8 764.5,1025.3 765,1025.8 765.5,1026.3 766,1026.8 766.5,1027.2 767,1027.7 767.5,1028.1 768,1028.5 768.5,1028.8 769,1029.2 769.5,1029.5 770,1029.9 770.5,1030.2 771,1030.5 771.5,1030.8 772,1031 772.5,1031.3 773,1031.5 773.5,1031.8 774,1032 774.5,1032.2 775,1032.4 775.5,1032.6 776,1032.8 776.5,1033 777,1033.1 777.5,1033.3 778,1033.4 778.5,1033.6 779,1033.7 779.5,1033.9 780,1034 780.5,1034.1 781,1034.2 781.5,1034.3 782,1034.4 782.5,1034.5 783,1034.6 783.5,1034.7 784,1034.8 784.5,1034.9 785,1035 785.5,1035.1 786,1035.2 786.5,1035.2 787,1035.3 787.5,1035.4 788,1035.4 788.5,1035.5 789,1035.6 789.5,1035.6 790,1035.7 790.5,1035.7 791,1035.8 791.5,1035.9 792,1035.9 792.5,1036 793,1036 793.5,1036.1 794,1036.1 794.5,1036.2 795,1036.2 795.5,1036.2 796,1036.3 796.5,1036.3 797,1036.4 797.5,1036.4 798,1036.4 798.5,1036.5 799,1036.5 799.5,1036.6 800,1036.6 800.5,1036.6 801,1036.7 801.5,1036.7 802,1036.7 802.5,1036.7 803,1036.8 803.5,1036.8 804,1036.8 804.5,1036.9 805,1036.9 805.5,1036.9 806,1036.9 806.5,1037 807,1037 807.5,1037 808,1037 808.5,1037.1 809,1037.1 809.5,1037.1 810,1037.1 810.5,1037.2 811,1037.2 811.5,1037.2 812,1037.2 812.5,1037.2 813,1037.3 813.5,1037.3 814,1037.3 814.5,1037.3 815,1037.3 815.5,1037.4 816,1037.4 816.5,1037.4 817,1037.4 817.5,1037.4 818,1037.4 818.5,1037.5 819,1037.5 819.5,1037.5 820,1037.5 820.5,1037.5 821,1037.5 821.5,1037.5 822,1037.6 822.5,1037.6 823,1037.6 823.5,1037.6 824,1037.6 824.5,1037.6 825,1037.6 825.5,1037.6 826,1037.7 826.5,1037.7 827,1037.7 827.5,1037.7 828,1037.7 828.5,1037.7 829,1037.7 829.5,1037.7 830,1037.7 830.5,1037.8 831,1037.8 831.5,1037.8 832,1037.8 832.5,1037.8 833,1037.8 833.5,1037.8 834,1037.8 834.5,1037.8 835,1037.8 835.5,1037.9 836,1037.9 836.5,1037.9 837,1037.9 837.5,1037.9 838,1037.9 838.5,1037.9 839,1037.9 839.5,1037.9 840,1037.9 840.5,1037.9 841,1037.9 841.5,1037.9 842,1038 842.5,1038 843,1038 843.5,1038 844,1038 844.5,1038 845,1038 845.5,1038 846,1038 846.5,1038 847,1038 847.5,1038 848,1038 848.5,1038 849,1038 849.5,1038.1 850,1038.1 850.5,1038.1 851,1038.1 851.5,1038.1 852,1038.1 852.5,1038.1 853,1038.1 853.5,1038.1 854,1038.1 854.5,1038.1 855,1038.1 855.5,1038.1 856,1038.1 856.5,1038.1 857,1038.1 857.5,1038.1 858,1038.1 858.5,1038.1 859,1038.2 859.5,1038.2 860,1038.2 860.5,1038.2 861,1038.2 861.5,1038.2 862,1038.2 862.5,1038.2 863,1038.2 863.5,1038.2 864,1038.2 864.5,1038.2 865,1038.2 865.5,1038.2 866,1038.2 866.5,1038.2 867,1038.2 867.5,1038.2 868,1038.2" fill="none" stroke="#f28c28" stroke-width="1.2"/>
<path d="M404.5,1037.5 405,1037.4 405.5,1037.4 406,1037.4 406.5,1037.4 407,1037.4 407.5,1037.4 408,1037.4 408.5,1037.4 409,1037.4 409.5,1037.3 410,1037.3 410.5,1037.3 411,1037.3 411.5,1037.3 412,1037.3 412.5,1037.3 413,1037.3 413.5,1037.3 414,1037.2 414.5,1037.2 415,1037.2 415.5,1037.2 416,1037.2 416.5,1037.2 417,1037.2 417.5,1037.2 418,1037.1 418.5,1037.1 419,1037.1 419.5,1037.1 420,1037.1 420.5,1037.1 421,1037.1 421.5,1037.1 422,1037 422.5,1037 423,1037 423.5,1037 424,1037 424.5,1037 425,1037 425.5,1036.9 426,1036.9 426.5,1036.9 427,1036.9 427.5,1036.9 428,1036.9 428.5,1036.9 429,1036.8 429.5,1036.8 430,1036.8 430.5,1036.8 431,1036.8 431.5,1036.8 432,1036.8 432.5,1036.7 433,1036.7 433.5,1036.7 434,1036.7 434.5,1036.7 435,1036.7 435.5,1036.6 436,1036.6 436.5,1036.6 437,1036.6 437.5,1036.6 438,1036.6 438.5,1036.5 439,1036.5 439.5,1036.5 440,1036.5 440.5,1036.5 441,1036.5 441.5,1036.4 442,1036.4 442.5,1036.4 443,1036.4 443.5,1036.4 444,1036.4 444.5,1036.3 445,1036.3 445.5,1036.3 446,1036.3 446.5,1036.3 447,1036.2 447.5,1036.2 448,1036.2 448.5,1036.2 449,1036.2 449.5,1036.2 450,1036.1 450.5,1036.1 451,1036.1 451.5,1036.1 452,1036.1 452.5,1036 453,1036 453.5,1036 454,1036 454.5,1036 455,1035.9 455.5,1035.9 456,1035.9 456.5,1035.9 457,1035.8 457.5,1035.8 458,1035.8 458.5,1035.8 459,1035.8 459.5,1035.7 460,1035.7 460.5,1035.7 461,1035.7 461.5,1035.6 462,1035.6 462.5,1035.6 463,1035.6 463.5,1035.5 464,1035.5 464.5,1035.5 465,1035.5 465.5,1035.4 466,1035.4 466.5,1035.4 467,1035.4 467.5,1035.3 468,1035.3 468.5,1035.3 469,1035.3 469.5,1035.2 470,1035.2 470.5,1035.2 471,1035.2 471.5,1035.1 472,1035.1 472.5,1035.1 473,1035.1 473.5,1035 474,1035 474.5,1035 475,1034.9 475.5,1034.9 476,1034.9 476.5,1034.9 477,1034.8 477.5,1034.8 478,1034.8 478.5,1034.7 479,1034.7 479.5,1034.7 480,1034.6 480.5,1034.6 481,1034.6 481.5,1034.5 482,1034.5 482.5,1034.5 483,1034.4 483.5,1034.4 484,1034.4 484.5,1034.3 485,1034.3 485.5,1034.3 486,1034.2 486.5,1034.2 487,1034.2 487.5,1034.1 488,1034.1 488.5,1034.1 489,1034 489.5,1034 490,1034 490.5,1033.9 491,1033.9 491.5,1033.8 492,1033.8 492.5,1033.8 493,1033.7 493.5,1033.7 494,1033.6 494.5,1033.6 495,1033.6 495.5,1033.5 496,1033.5 496.5,1033.4 497,1033.4 497.5,1033.4 498,1033.3 498.5,1033.3 499,1033.2 499.5,1033.2 500,1033.1 500.5,1033.1 501,1033 501.5,1033 502,1033 502.5,1032.9 503,1032.9 503.5,1032.8 504,1032.8 504.5,1032.7 505,1032.7 505.5,1032.6 506,1032.6 506.5,1032.5 507,1032.5 507.5,1032.4 508,1032.4 508.5,1032.3 509,1032.3 509.5,1032.2 510,1032.2 510.5,1032.1 511,1032.1 511.5,1032 512,1031.9 512.5,1031.9 513,1031.8 513.5,1031.8 514,1031.7 514.5,1031.7 515,1031.6 515.5,1031.5 516,1031.5 516.5,1031.4 517,1031.4 517.5,1031.3 518,1031.2 518.5,1031.2 519,1031.1 519.5,1031 520,1031 520.5,1030.9 521,1030.8 521.5,1030.8 522,1030.7 522.5,1030.6 523,1030.6 523.5,1030.5 524,1030.4 524.5,1030.4 525,1030.3 525.5,1030.2 526,1030.1 526.5,1030.1 527,1030 527.5,1029.9 528,1029.8 528.5,1029.8 529,1029.7 529.5,1029.6 530,1029.5 530.5,1029.4 531,1029.4 531.5,1029.3 532,1029.2 532.5,1029.1 533,1029 533.5,1028.9 534,1028.9 534.5,1028.8 535,1028.7 535.5,1028.6 536,1028.5 536.5,1028.4 537,1028.3 537.5,1028.2 538,1028.1 538.5,1028 539,1027.9 539.5,1027.8 540,1027.7 540.5,1027.6 541,1027.5 541.5,1027.4 542,1027.3 542.5,1027.2 543,1027.1 543.5,1027 544,1026.9 544.5,1026.8 545,1026.7 545.5,1026.6 546,1026.5 546.5,1026.4 547,1026.2 547.5,1026.1 548,1026 548.5,1025.9 549,1025.8 549.5,1025.7 550,1025.5 550.5,1025.4 551,1025.3 551.5,1025.2 552,1025 552.5,1024.9 553,1024.8 553.5,1024.6 554,1024.5 554.5,1024.4 555,1024.2 555.5,1024.1 556,1024 556.5,1023.8 557,1023.7 557.5,1023.5 558,1023.4 558.5,1023.3 559,1023.1 559.5,1023 560,1022.8 560.5,1022.7 561,1022.5 561.5,1022.3 562,1022.2 562.5,1022 563,1021.9 563.5,1021.7 564,1021.5 564.5,1021.4 565,1021.2 565.5,1021 566,1020.9 566.5,1020.7 567,1020.5 567.5,1020.3 568,1020.2 568.5,1020 569,1019.8 569.5,1019.6 570,1019.4 570.5,1019.3 571,1019.1 571.5,1018.9 572,1018.7 572.5,1018.5 573,1018.3 573.5,1018.1 574,1017.9 574.5,1017.7 575,1017.5 575.5,1017.3 576,1017.1 576.5,1016.9 577,1016.7 577.5,1016.4 578,1016.2 578.5,1016 579,1015.8 579.5,1015.6 580,1015.3 580.5,1015.1 581,1014.9 581.5,1014.7 582,1014.4 582.5,1014.2 583,1014 583.5,1013.7 584,1013.5 584.5,1013.3 585,1013 585.5,1012.8 586,1012.5 586.5,1012.3 587,1012 587.5,1011.8 588,1011.5 588.5,1011.3 589,1011 589.5,1010.8 590,1010.5 590.5,1010.3 591,1010 591.5,1009.8 592,1009.5 592.5,1009.2 593,1009 593.5,1008.7 594,1008.4 594.5,1008.2 595,1007.9 595.5,1007.7 596,1007.4 596.5,1007.1 597,1006.8 597.5,1006.6 598,1006.3 598.5,1006 599,1005.8 599.5,1005.5 600,1005.2 600.5,1005 601,1004.7 601.5,1004.4 602,1004.2 602.5,1003.9 603,1003.6 603.5,1003.4 604,1003.1 604.5,1002.8 605,1002.6 605.5,1002.3 606,1002.1 606.5,1001.8 607,1001.5 607.5,1001.3 608,1001 608.5,1000.8 609,1000.5 609.5,1000.3 610,1000.1 610.5,999.8 611,999.6 611.5,999.4 612,999.1 612.5,998.9 613,998.7 613.5,998.5 614,998.2 614.5,998 615,997.8 615.5,997.6 616,997.4 616.5,997.2 617,997.1 617.5,996.9 618,996.7 618.5,996.5 619,996.4 619.5,996.2 620,996.1 620.5,995.9 621,995.8 621.5,995.6 622,995.5 622.5,995.4 623,995.3 623.5,995.2 624,995.1 624.5,995 625,994.9 625.5,994.8 626,994.7 626.5,994.7 627,994.6 627.5,994.6 628,994.5 628.5,994.5 629,994.4 629.5,994.4 630,994.4 630.5,994.4 631,994.4 631.5,994.4 632,994.4 632.5,994.4 633,994.5 633.5,994.5 634,994.6 634.5,994.6 635,994.7 635.5,994.7 636,994.8 636.5,994.9 637,995 637.5,995.1 638,995.2 638.5,995.3 639,995.4 639.5,995.5 640,995.7 640.5,995.8 641,995.9 641.5,996.1 642,996.2 642.5,996.4 643,996.6 643.5,996.7 644,996.9 644.5,997.1 645,997.3 645.5,997.5 646,997.7 646.5,997.9 647,998.1 647.5,998.3 648,998.5 648.5,998.7 649,998.9 649.5,999.2 650,999.4 650.5,999.6 651,999.9 651.5,1000.1 652,1000.3 652.5,1000.6 653,1000.8 653.5,1001.1 654,1001.3 654.5,1001.6 655,1001.8 655.5,1002.1 656,1002.4 656.5,1002.6 657,1002.9 657.5,1003.1 658,1003.4 658.5,1003.7 659,1003.9 659.5,1004.2 660,1004.5 660.5,1004.7 661,1005 661.5,1005.3 662,1005.6 662.5,1005.8 663,1006.1 663.5,1006.4 664,1006.6 664.5,1006.9 665,1007.2 665.5,1007.4 666,1007.7 666.5,1008 667,1008.2 667.5,1008.5 668,1008.8 668.5,1009 669,1009.3 669.5,1009.6 670,1009.8 670.5,1010.1 671,1010.3 671.5,1010.6 672,1010.8 672.5,1011.1 673,1011.3 673.5,1011.6 674,1011.8 674.5,1012.1 675,1012.3 675.5,1012.6 676,1012.8 676.5,1013.1 677,1013.3 677.5,1013.6 678,1013.8 678.5,1014 679,1014.3 679.5,1014.5 680,1014.7 680.5,1014.9 681,1015.2 681.5,1015.4 682,1015.6 682.5,1015.8 683,1016.1 683.5,1016.3 684,1016.5 684.5,1016.7 685,1016.9 685.5,1017.1 686,1017.3 686.5,1017.5 687,1017.7 687.5,1017.9 688,1018.1 688.5,1018.3 689,1018.5 689.5,1018.7 690,1018.9 690.5,1019.1 691,1019.3 691.5,1019.5 692,1019.7 692.5,1019.8 693,1020 693.5,1020.2 694,1020.4 694.5,1020.6 695,1020.7 695.5,1020.9 696,1021.1 696.5,1021.2 697,1021.4 697.5,1021.6 698,1021.7 698.5,1021.9 699,1022.1 699.5,1022.2 700,1022.4 700.5,1022.5 701,1022.7 701.5,1022.8 702,1023 702.5,1023.1 703,1023.3 703.5,1023.4 704,1023.6 704.5,1023.7 705,1023.9 705.5,1024 706,1024.1 706.5,1024.3 707,1024.4 707.5,1024.5 708,1024.7 708.5,1024.8 709,1024.9 709.5,1025.1 710,1025.2 710.5,1025.3 711,1025.4 711.5,1025.6 712,1025.7 712.5,1025.8 713,1025.9 713.5,1026 714,1026.2 714.5,1026.3 715,1026.4 715.5,1026.5 716,1026.6 716.5,1026.7 717,1026.8 717.5,1026.9 718,1027 718.5,1027.1 719,1027.3 719.5,1027.4 720,1027.5 720.5,1027.6 721,1027.7 721.5,1027.8 722,1027.9 722.5,1028 723,1028.1 723.5,1028.1 724,1028.2 724.5,1028.3 725,1028.4 725.5,1028.5 726,1028.6 726.5,1028.7 727,1028.8 727.5,1028.9 728,1029 728.5,1029 729,1029.1 729.1,1029.1 729.2,1029.2 729.3,1029.2 729.4,1029.2 729.5,1029.2 729.6,1029.2 729.7,1029.2 729.8,1029.3 729.9,1029.3 730,1029.3 730.1,1029.3 730.2,1029.3 730.3,1029.3 730.4,1029.4 730.5,1029.4 730.6,1029.4 730.7,1029.4 730.8,1029.4 730.9,1029.4 731,1029.5 731.1,1029.5 731.2,1029.5 731.3,1029.5 731.4,1029.5 731.5,1029.5 731.6,1029.6 731.7,1029.6 731.8,1029.6 731.9,1029.6 732,1029.6 732.1,1029.6 732.2,1029.6 732.3,1029.7 732.4,1029.7 732.5,1029.7 732.6,1029.7 732.7,1029.7 732.8,1029.7 732.9,1029.8 733,1029.8 733.1,1029.8 733.2,1029.8 733.3,1029.8 733.4,1029.8 733.5,1029.9 733.6,1029.9 733.7,1029.9 733.8,1029.9 733.9,1029.9 734,1029.9 734.1,1029.9 734.2,1030 734.3,1030 734.4,1030 734.5,1030 734.6,1030 734.7,1030 734.8,1030 734.9,1030.1 735,1030.1 735.1,1030.1 735.2,1030.1 735.3,1030.1 735.4,1030.1 735.5,1030.2 735.6,1030.2 735.7,1030.2 735.8,1030.2 735.9,1030.2 736,1030.2 736.1,1030.2 736.2,1030.3 736.3,1030.3 736.4,1030.3 736.5,1030.3 736.6,1030.3 736.7,1030.3 736.8,1030.3 736.9,1030.4 737,1030.4 737.1,1030.4 737.2,1030.4 737.3,1030.4 737.4,1030.4 737.5,1030.4 737.6,1030.5 737.7,1030.5 737.8,1030.5 737.9,1030.5 738,1030.5 738.1,1030.5 738.2,1030.5 738.3,1030.6 738.4,1030.6 738.5,1030.6 738.6,1030.6 738.7,1030.6 738.8,1030.6 738.9,1030.6 739,1030.7 739.1,1030.7 739.2,1030.7 739.3,1030.7 739.4,1030.7 739.5,1030.7 739.6,1030.7 739.7,1030.7 739.8,1030.8 739.9,1030.8 740,1030.8 740.1,1030.8 740.2,1030.8 740.3,1030.8 740.4,1030.8 740.5,1030.9 740.6,1030.9 740.7,1030.9 740.8,1030.9 740.9,1030.9 741,1030.9 741.1,1030.9 741.2,1030.9 741.3,1031 741.4,1031 741.5,1031 741.6,1031 741.7,1031 741.8,1031 741.9,1031 742,1031.1 742.1,1031.1 742.2,1031.1 742.3,1031.1 742.4,1031.1 742.5,1031.1 742.6,1031.1 742.7,1031.1 742.8,1031.2 742.9,1031.2 743,1031.2 743.1,1031.2 743.2,1031.2 743.3,1031.2 743.4,1031.2 743.5,1031.2 743.6,1031.3 743.7,1031.3 743.8,1031.3 743.9,1031.3 744,1031.3 744.1,1031.3 744.2,1031.3 744.3,1031.3 744.4,1031.4 744.5,1031.4 744.6,1031.4 744.7,1031.4 744.8,1031.4 744.9,1031.4 745,1031.4 745.1,1031.4 745.2,1031.5 745.3,1031.5 745.4,1031.5 745.5,1031.5 745.6,1031.5 745.7,1031.5 745.8,1031.5 745.9,1031.5 746,1031.5 746.1,1031.6 746.2,1031.6 746.3,1031.6 746.4,1031.6 746.5,1031.6 746.6,1031.6 746.7,1031.6 746.8,1031.6 746.9,1031.7 747,1031.7 747.1,1031.7 747.2,1031.7 747.3,1031.7 747.4,1031.7 747.5,1031.7 747.6,1031.7 747.7,1031.7 747.8,1031.8 747.9,1031.8 748,1031.8 748.1,1031.8 748.2,1031.8 748.3,1031.8 748.4,1031.8 748.5,1031.8 748.6,1031.9 748.7,1031.9 748.8,1031.9 748.9,1031.9 749,1031.9 749.1,1031.9 749.2,1031.9 749.3,1031.9 749.4,1031.9 749.5,1032 749.6,1032 749.7,1032 749.8,1032 749.9,1032 750,1032 750.1,1032 750.2,1032 750.3,1032 750.4,1032.1 750.5,1032.1 750.6,1032.1 750.7,1032.1 750.8,1032.1 750.9,1032.1 751,1032.1 751.1,1032.1 751.2,1032.1 751.3,1032.1 751.4,1032.2 751.5,1032.2 751.6,1032.2 751.7,1032.2 751.8,1032.2 751.9,1032.2 752,1032.2 752.1,1032.2 752.2,1032.2 752.3,1032.3 752.4,1032.3 752.5,1032.3 752.6,1032.3 752.7,1032.3 752.8,1032.3 752.9,1032.3 753,1032.3 753.1,1032.3 753.2,1032.3 753.3,1032.4 753.4,1032.4 753.5,1032.4 753.6,1032.4 753.7,1032.4 753.8,1032.4 753.9,1032.4 754,1032.4 754.1,1032.4 754.2,1032.5 754.3,1032.5 754.4,1032.5 754.5,1032.5 754.6,1032.5 754.7,1032.5 754.8,1032.5 754.9,1032.5 755,1032.5 755.5,1032.6 756,1032.6 756.5,1032.7 757,1032.7 757.5,1032.8 758,1032.8 758.5,1032.9 759,1032.9 759.5,1033 760,1033 760.5,1033.1 761,1033.1 761.5,1033.1 762,1033.2 762.5,1033.2 763,1033.3 763.5,1033.3 764,1033.4 764.5,1033.4 765,1033.5 765.5,1033.5 766,1033.5 766.5,1033.6 767,1033.6 767.5,1033.7 768,1033.7 768.5,1033.7 769,1033.8 769.5,1033.8 770,1033.9 770.5,1033.9 771,1033.9 771.5,1034 772,1034 772.5,1034 773,1034.1 773.5,1034.1 774,1034.1 774.5,1034.2 775,1034.2 775.5,1034.3 776,1034.3 776.5,1034.3 777,1034.4 777.5,1034.4 778,1034.4 778.5,1034.5 779,1034.5 779.5,1034.5 780,1034.6 780.5,1034.6 781,1034.6 781.5,1034.6 782,1034.7 782.5,1034.7 783,1034.7 783.5,1034.8 784,1034.8 784.5,1034.8 785,1034.9 785.5,1034.9 786,1034.9 786.5,1034.9 787,1035 787.5,1035 788,1035 788.5,1035.1 789,1035.1 789.5,1035.1 790,1035.1 790.5,1035.2 791,1035.2 791.5,1035.2 792,1035.3 792.5,1035.3 793,1035.3 793.5,1035.3 794,1035.4 794.5,1035.4 795,1035.4 795.5,1035.4 796,1035.5 796.5,1035.5 797,1035.5 797.5,1035.5 798,1035.6 798.5,1035.6 799,1035.6 799.5,1035.6 800,1035.6 800.5,1035.7 801,1035.7 801.5,1035.7 802,1035.7 802.5,1035.8 803,1035.8 803.5,1035.8 804,1035.8 804.5,1035.8 805,1035.9 805.5,1035.9 806,1035.9 806.5,1035.9 807,1036 807.5,1036 808,1036 808.5,1036 809,1036 809.5,1036.1 810,1036.1 810.5,1036.1 811,1036.1 811.5,1036.1 812,1036.2 812.5,1036.2 813,1036.2 813.5,1036.2 814,1036.2 814.5,1036.3 815,1036.3 815.5,1036.3 816,1036.3 816.5,1036.3 817,1036.3 817.5,1036.4 818,1036.4 818.5,1036.4 819,1036.4 819.5,1036.4 820,1036.5 820.5,1036.5 821,1036.5 821.5,1036.5 822,1036.5 822.5,1036.5 823,1036.6 823.5,1036.6 824,1036.6 824.5,1036.6 825,1036.6 825.5,1036.6 826,1036.6 826.5,1036.7 827,1036.7 827.5,1036.7 828,1036.7 828.5,1036.7 829,1036.7 829.5,1036.8 830,1036.8 830.5,1036.8 831,1036.8 831.5,1036.8 832,1036.8 832.5,1036.8 833,1036.9 833.5,1036.9 834,1036.9 834.5,1036.9 835,1036.9 835.5,1036.9 836,1036.9 836.5,1037 837,1037 837.5,1037 838,1037 838.5,1037 839,1037 839.5,1037 840,1037.1 840.5,1037.1 841,1037.1 841.5,1037.1 842,1037.1 842.5,1037.1 843,1037.1 843.5,1037.1 844,1037.2 844.5,1037.2 845,1037.2 845.5,1037.2 846,1037.2 846.5,1037.2 847,1037.2 847.5,1037.2 848,1037.3 848.5,1037.3 849,1037.3 849.5,1037.3 850,1037.3 850.5,1037.3 851,1037.3 851.5,1037.3 852,1037.3 852.5,1037.4 853,1037.4 853.5,1037.4 854,1037.4 854.5,1037.4 855,1037.4 855.5,1037.4 856,1037.4 856.5,1037.4 857,1037.5 857.5,1037.5 858,1037.5 858.5,1037.5 859,1037.5 859.5,1037.5 860,1037.5 860.5,1037.5 861,1037.5 861.5,1037.5 862,1037.6 862.5,1037.6 863,1037.6 863.5,1037.6 864,1037.6 864.5,1037.6 865,1037.6 865.5,1037.6 866,1037.6 866.5,1037.6 867,1037.7 867.5,1037.7 868,1037.7 868.5,1037.7 869,1037.7 869.5,1037.7 870,1037.7 870.5,1037.7 871,1037.7 871.5,1037.7 872,1037.7 872.5,1037.8 873,1037.8 873.5,1037.8 874,1037.8 874.5,1037.8 875,1037.8 875.5,1037.8 876,1037.8 876.5,1037.8 877,1037.8 877.5,1037.8 878,1037.9 878.5,1037.9 879,1037.9 879.5,1037.9 880,1037.9 880.5,1037.9 881,1037.9 881.5,1037.9 882,1037.9 882.5,1037.9 883,1037.9 883.5,1037.9 884,1037.9 884.5,1038 885,1038 885.5,1038 886,1038 886.5,1038 887,1038 887.5,1038 888,1038 888.5,1038 889,1038 889.5,1038 890,1038 890.5,1038 891,1038.1 891.5,1038.1 892,1038.1 892.5,1038.1 893,1038.1 893.5,1038.1 894,1038.1 894.5,1038.1 895,1038.1 895.5,1038.1 896,1038.1 896.5,1038.1 897,1038.1 897.5,1038.1 898,1038.1 898.5,1038.2 899,1038.2 899.5,1038.2 900,1038.2 900.5,1038.2 901,1038.2 901.5,1038.2 902,1038.2 902.5,1038.2 903,1038.2 903.5,1038.2 904,1038.2 904.5,1038.2 905,1038.2 905.5,1038.2 906,1038.2 906.5,1038.3 907,1038.3 907.5,1038.3 908,1038.3 908.5,1038.3 909,1038.3 909.5,1038.3 910,1038.3 910.5,1038.3 911,1038.3 911.5,1038.3 912,1038.3 912.5,1038.3 913,1038.3 913.5,1038.3 914,1038.3 914.5,1038.3 915,1038.4 915.5,1038.4 916,1038.4 916.5,1038.4 917,1038.4 917.5,1038.4 918,1038.4 918.5,1038.4 919,1038.4 919.5,1038.4 920,1038.4 920.5,1038.4 921,1038.4 921.5,1038.4 922,1038.4 922.5,1038.4 923,1038.4 923.5,1038.4 924,1038.5 924.5,1038.5 925,1038.5 925.5,1038.5 926,1038.5 926.5,1038.5 927,1038.5 927.5,1038.5 928,1038.5 928.5,1038.5 929,1038.5 929.5,1038.5 930,1038.5 930.5,1038.5 931,1038.5 931.5,1038.5 932,1038.5 932.5,1038.5 933,1038.5 933.5,1038.5 934,1038.5 934.5,1038.6 935,1038.6 935.5,1038.6 936,1038.6 936.5,1038.6 937,1038.6 937.5,1038.6 938,1038.6 938.5,1038.6 939,1038.6 939.5,1038.6 940,1038.6 940.5,1038.6 941,1038.6 941.5,1038.6 942,1038.6 942.5,1038.6 943,1038.6 943.5,1038.6 944,1038.6 944.5,1038.6 945,1038.6 945.5,1038.6 946,1038.7 946.5,1038.7 947,1038.7 947.5,1038.7 948,1038.7 948.5,1038.7 949,1038.7 949.5,1038.7 950,1038.7 950.5,1038.7 951,1038.7 951.5,1038.7 952,1038.7 952.5,1038.7 953,1038.7 953.5,1038.7 954,1038.7 954.5,1038.7 955,1038.7 955.5,1038.7 956,1038.7 956.5,1038.7 957,1038.7 957.5,1038.7 958,1038.7 958.5,1038.8 959,1038.8 959.5,1038.8 960,1038.8 960.5,1038.8 961,1038.8 961.5,1038.8 962,1038.8 962.5,1038.8 963,1038.8 963.5,1038.8 964,1038.8 964.5,1038.8 965,1038.8 965.5,1038.8 966,1038.8 966.5,1038.8 967,1038.8 967.5,1038.8 968,1038.8 968.5,1038.8 969,1038.8 969.5,1038.8 970,1038.8 970.5,1038.8 971,1038.8 971.5,1038.8 972,1038.8 972.5,1038.8 973,1038.9 973.5,1038.9 974,1038.9 974.5,1038.9 975,1038.9 975.5,1038.9 976,1038.9 976.5,1038.9 977,1038.9 977.5,1038.9 978,1038.9 978.5,1038.9 979,1038.9 979.5,1038.9 980,1038.9 980.5,1038.9 981,1038.9 981.5,1038.9 982,1038.9 982.5,1038.9 983,1038.9 983.5,1038.9 984,1038.9 984.5,1038.9 985,1038.9 985.5,1038.9 986,1038.9 986.5,1038.9 987,1038.9 987.5,1038.9 988,1038.9 988.5,1038.9 989,1039 989.5,1039 990,1039 990.5,1039 991,1039 991.5,1039 992,1039 992.5,1039 993,1039 993.5,1039 994,1039 994.5,1039 995,1039 995.5,1039 996,1039 996.5,1039 997,1039 997.5,1039 998,1039 998.5,1039 999,1039 999.5,1039 1000,1039 1000.5,1039 1001,1039 1001.5,1039 1002,1039 1002.5,1039 1003,1039 1003.5,1039 1004,1039 1004.5,1039 1005,1039 1005.5,1039 1006,1039 1006.5,1039 1007,1039 1007.5,1039 1008,1039.1 1008.5,1039.1 1009,1039.1 1009.5,1039.1 1010,1039.1 1010.5,1039.1 1011,1039.1 1011.5,1039.1 1012,1039.1 1012.5,1039.1 1013,1039.1 1013.5,1039.1 1014,1039.1 1014.5,1039.1 1015,1039.1 1015.5,1039.1 1016,1039.1 1016.5,1039.1 1017,1039.1 1017.5,1039.1 1018,1039.1 1018.5,1039.1 1019,1039.1 1019.5,1039.1 1020,1039.1 1020.5,1039.1 1021,1039.1 1021.5,1039.1 1022,1039.1 1022.5,1039.1 1023,1039.1 1023.5,1039.1 1024,1039.1 1024.5,1039.1 1025,1039.1 1025.5,1039.1 1026,1039.1 1026.5,1039.1 1027,1039.1 1027.5,1039.1 1028,1039.1 1028.5,1039.1 1029,1039.1 1029.5,1039.1 1030,1039.2 1030.5,1039.2 1031,1039.2 1031.5,1039.2 1032,1039.2 1032.5,1039.2 1033,1039.2 1033.5,1039.2 1034,1039.2 1034.5,1039.2 1035,1039.2 1035.5,1039.2 1036,1039.2 1036.5,1039.2 1037,1039.2 1037.5,1039.2 1038,1039.2 1038.5,1039.2 1039,1039.2 1039.5,1039.2 1040,1039.2 1040.5,1039.2 1041,1039.2 1041.5,1039.2 1042,1039.2 1042.5,1039.2 1043,1039.2 1043.5,1039.2 1044,1039.2 1044.5,1039.2 1045,1039.2 1045.5,1039.2 1046,1039.2 1046.5,1039.2 1047,1039.2 1047.5,1039.2 1048,1039.2 1048.5,1039.2 1049,1039.2 1049.5,1039.2 1050,1039.2 1050.5,1039.2 1051,1039.2 1051.5,1039.2 1052,1039.2 1052.5,1039.2 1053,1039.2 1053.5,1039.2 1054,1039.2 1054.5,1039.2 1055,1039.2 1055.5,1039.2 1056,1039.2 1056.5,1039.3 1057,1039.3 1057.5,1039.3 1058,1039.3 1058.5,1039.3 1059,1039.3 1059.5,1039.3 1060,1039.3 1060.5,1039.3 1061,1039.3 1061.5,1039.3 1062,1039.3" fill="none" stroke="#222" stroke-width="0.9"/>
<path d="M404.5,1037.4 405,1037.4 405.5,1037.4 406,1037.3 406.5,1037.3 407,1037.3 407.5,1037.3 408,1037.3 408.5,1037.3 409,1037.3 409.5,1037.3 410,1037.3 410.5,1037.2 411,1037.2 411.5,1037.2 412,1037.2 412.5,1037.2 413,1037.2 413.5,1037.2 414,1037.2 414.5,1037.2 415,1037.1 415.5,1037.1 416,1037.1 416.5,1037.1 417,1037.1 417.5,1037.1 418,1037.1 418.5,1037 419,1037 419.5,1037 420,1037 420.5,1037 421,1037 421.5,1037 422,1037 422.5,1036.9 423,1036.9 423.5,1036.9 424,1036.9 424.5,1036.9 425,1036.9 425.5,1036.9 426,1036.8 426.5,1036.8 427,1036.8 427.5,1036.8 428,1036.8 428.5,1036.8 429,1036.8 429.5,1036.7 430,1036.7 430.5,1036.7 431,1036.7 431.5,1036.7 432,1036.7 432.5,1036.7 433,1036.6 433.5,1036.6 434,1036.6 434.5,1036.6 435,1036.6 435.5,1036.6 436,1036.5 436.5,1036.5 437,1036.5 437.5,1036.5 438,1036.5 438.5,1036.5 439,1036.4 439.5,1036.4 440,1036.4 440.5,1036.4 441,1036.4 441.5,1036.4 442,1036.3 442.5,1036.3 443,1036.3 443.5,1036.3 444,1036.3 444.5,1036.2 445,1036.2 445.5,1036.2 446,1036.2 446.5,1036.2 447,1036.2 447.5,1036.1 448,1036.1 448.5,1036.1 449,1036.1 449.5,1036.1 450,1036 450.5,1036 451,1036 451.5,1036 452,1036 452.5,1035.9 453,1035.9 453.5,1035.9 454,1035.9 454.5,1035.9 455,1035.8 455.5,1035.8 456,1035.8 456.5,1035.8 457,1035.7 457.5,1035.7 458,1035.7 458.5,1035.7 459,1035.7 459.5,1035.6 460,1035.6 460.5,1035.6 461,1035.6 461.5,1035.5 462,1035.5 462.5,1035.5 463,1035.5 463.5,1035.4 464,1035.4 464.5,1035.4 465,1035.4 465.5,1035.3 466,1035.3 466.5,1035.3 467,1035.3 467.5,1035.2 468,1035.2 468.5,1035.2 469,1035.2 469.5,1035.1 470,1035.1 470.5,1035.1 471,1035.1 471.5,1035 472,1035 472.5,1035 473,1034.9 473.5,1034.9 474,1034.9 474.5,1034.9 475,1034.8 475.5,1034.8 476,1034.8 476.5,1034.7 477,1034.7 477.5,1034.7 478,1034.6 478.5,1034.6 479,1034.6 479.5,1034.6 480,1034.5 480.5,1034.5 481,1034.5 481.5,1034.4 482,1034.4 482.5,1034.4 483,1034.3 483.5,1034.3 484,1034.3 484.5,1034.2 485,1034.2 485.5,1034.2 486,1034.1 486.5,1034.1 487,1034 487.5,1034 488,1034 488.5,1033.9 489,1033.9 489.5,1033.9 490,1033.8 490.5,1033.8 491,1033.7 491.5,1033.7 492,1033.7 492.5,1033.6 493,1033.6 493.5,1033.6 494,1033.5 494.5,1033.5 495,1033.4 495.5,1033.4 496,1033.3 496.5,1033.3 497,1033.3 497.5,1033.2 498,1033.2 498.5,1033.1 499,1033.1 499.5,1033 500,1033 500.5,1033 501,1032.9 501.5,1032.9 502,1032.8 502.5,1032.8 503,1032.7 503.5,1032.7 504,1032.6 504.5,1032.6 505,1032.5 505.5,1032.5 506,1032.4 506.5,1032.4 507,1032.3 507.5,1032.3 508,1032.2 508.5,1032.2 509,1032.1 509.5,1032.1 510,1032 510.5,1031.9 511,1031.9 511.5,1031.8 512,1031.8 512.5,1031.7 513,1031.7 513.5,1031.6 514,1031.6 514.5,1031.5 515,1031.4 515.5,1031.4 516,1031.3 516.5,1031.3 517,1031.2 517.5,1031.1 518,1031.1 518.5,1031 519,1030.9 519.5,1030.9 520,1030.8 520.5,1030.7 521,1030.7 521.5,1030.6 522,1030.5 522.5,1030.5 523,1030.4 523.5,1030.3 524,1030.3 524.5,1030.2 525,1030.1 525.5,1030 526,1030 526.5,1029.9 527,1029.8 527.5,1029.7 528,1029.7 528.5,1029.6 529,1029.5 529.5,1029.4 530,1029.3 530.5,1029.3 531,1029.2 531.5,1029.1 532,1029 532.5,1028.9 533,1028.8 533.5,1028.7 534,1028.7 534.5,1028.6 535,1028.5 535.5,1028.4 536,1028.3 536.5,1028.2 537,1028.1 537.5,1028 538,1027.9 538.5,1027.8 539,1027.7 539.5,1027.6 540,1027.5 540.5,1027.4 541,1027.3 541.5,1027.2 542,1027.1 542.5,1027 543,1026.9 543.5,1026.8 544,1026.7 544.5,1026.6 545,1026.5 545.5,1026.4 546,1026.3 546.5,1026.1 547,1026 547.5,1025.9 548,1025.8 548.5,1025.7 549,1025.6 549.5,1025.4 550,1025.3 550.5,1025.2 551,1025.1 551.5,1024.9 552,1024.8 552.5,1024.7 553,1024.5 553.5,1024.4 554,1024.3 554.5,1024.1 555,1024 555.5,1023.9 556,1023.7 556.5,1023.6 557,1023.4 557.5,1023.3 558,1023.2 558.5,1023 559,1022.9 559.5,1022.7 560,1022.6 560.5,1022.4 561,1022.2 561.5,1022.1 562,1021.9 562.5,1021.8 563,1021.6 563.5,1021.4 564,1021.3 564.5,1021.1 565,1020.9 565.5,1020.8 566,1020.6 566.5,1020.4 567,1020.3 567.5,1020.1 568,1019.9 568.5,1019.7 569,1019.5 569.5,1019.3 570,1019.2 570.5,1019 571,1018.8 571.5,1018.6 572,1018.4 572.5,1018.2 573,1018 573.5,1017.8 574,1017.6 574.5,1017.4 575,1017.2 575.5,1017 576,1016.8 576.5,1016.6 577,1016.3 577.5,1016.1 578,1015.9 578.5,1015.7 579,1015.5 579.5,1015.3 580,1015 580.5,1014.8 581,1014.6 581.5,1014.3 582,1014.1 582.5,1013.9 583,1013.6 583.5,1013.4 584,1013.2 584.5,1012.9 585,1012.7 585.5,1012.4 586,1012.2 586.5,1011.9 587,1011.7 587.5,1011.5 588,1011.2 588.5,1010.9 589,1010.7 589.5,1010.4 590,1010.2 590.5,1009.9 591,1009.7 591.5,1009.4 592,1009.1 592.5,1008.9 593,1008.6 593.5,1008.3 594,1008.1 594.5,1007.8 595,1007.5 595.5,1007.3 596,1007 596.5,1006.7 597,1006.5 597.5,1006.2 598,1005.9 598.5,1005.6 599,1005.4 599.5,1005.1 600,1004.8 600.5,1004.5 601,1004.3 601.5,1004 602,1003.7 602.5,1003.5 603,1003.2 603.5,1002.9 604,1002.7 604.5,1002.4 605,1002.1 605.5,1001.9 606,1001.6 606.5,1001.3 607,1001.1 607.5,1000.8 608,1000.6 608.5,1000.3 609,1000.1 609.5,999.8 610,999.6 610.5,999.3 611,999.1 611.5,998.9 612,998.6 612.5,998.4 613,998.2 613.5,998 614,997.7 614.5,997.5 615,997.3 615.5,997.1 616,996.9 616.5,996.7 617,996.5 617.5,996.3 618,996.2 618.5,996 619,995.8 619.5,995.7 620,995.5 620.5,995.4 621,995.2 621.5,995.1 622,994.9 622.5,994.8 623,994.7 623.5,994.6 624,994.5 624.5,994.4 625,994.3 625.5,994.2 626,994.1 626.5,994 627,994 627.5,993.9 628,993.9 628.5,993.8 629,993.8 629.5,993.8 630,993.7 630.5,993.7 631,993.7 631.5,993.7 632,993.7 632.5,993.8 633,993.8 633.5,993.8 634,993.9 634.5,993.9 635,994 635.5,994 636,994.1 636.5,994.2 637,994.2 637.5,994.3 638,994.4 638.5,994.5 639,994.6 639.5,994.8 640,994.9 640.5,995 641,995.1 641.5,995.3 642,995.4 642.5,995.6 643,995.7 643.5,995.9 644,996.1 644.5,996.2 645,996.4 645.5,996.6 646,996.8 646.5,997 647,997.2 647.5,997.4 648,997.6 648.5,997.8 649,998 649.5,998.2 650,998.4 650.5,998.7 651,998.9 651.5,999.1 652,999.3 652.5,999.6 653,999.8 653.5,1000 654,1000.3 654.5,1000.5 655,1000.8 655.5,1001 656,1001.3 656.5,1001.5 657,1001.8 657.5,1002 658,1002.3 658.5,1002.5 659,1002.8 659.5,1003 660,1003.3 660.5,1003.5 661,1003.8 661.5,1004 662,1004.3 662.5,1004.5 663,1004.8 663.5,1005 664,1005.3 664.5,1005.6 665,1005.8 665.5,1006.1 666,1006.3 666.5,1006.6 667,1006.8 667.5,1007 668,1007.3 668.5,1007.5 669,1007.8 669.5,1008 670,1008.3 670.5,1008.5 671,1008.7 671.5,1009 672,1009.2 672.5,1009.4 673,1009.7 673.5,1009.9 674,1010.1 674.5,1010.3 675,1010.6 675.5,1010.8 676,1011 676.5,1011.2 677,1011.4 677.5,1011.6 678,1011.8 678.5,1012 679,1012.2 679.5,1012.4 680,1012.6 680.5,1012.8 681,1013 681.5,1013.2 682,1013.4 682.5,1013.6 683,1013.8 683.5,1014 684,1014.1 684.5,1014.3 685,1014.5 685.5,1014.6 686,1014.8 686.5,1015 687,1015.1 687.5,1015.3 688,1015.4 688.5,1015.6 689,1015.7 689.5,1015.9 690,1016 690.5,1016.2 691,1016.3 691.5,1016.4 692,1016.6 692.5,1016.7 693,1016.8 693.5,1016.9 694,1017 694.5,1017.1 695,1017.2 695.5,1017.3 696,1017.4 696.5,1017.5 697,1017.6 697.5,1017.7 698,1017.8 698.5,1017.9 699,1017.9 699.5,1018 700,1018.1 700.5,1018.1 701,1018.2 701.5,1018.2 702,1018.2 702.5,1018.3 703,1018.3 703.5,1018.3 704,1018.3 704.5,1018.3 705,1018.3 705.5,1018.3 706,1018.3 706.5,1018.2 707,1018.2 707.5,1018.1 708,1018.1 708.5,1018 709,1017.9 709.5,1017.8 710,1017.7 710.5,1017.6 711,1017.5 711.5,1017.3 712,1017.1 712.5,1017 713,1016.8 713.5,1016.6 714,1016.3 714.5,1016.1 715,1015.8 715.5,1015.5 716,1015.2 716.5,1014.9 717,1014.5 717.5,1014.2 718,1013.8 718.5,1013.3 719,1012.9 719.5,1012.4 720,1011.9 720.5,1011.4 721,1010.8 721.5,1010.2 722,1009.6 722.5,1009 723,1008.3 723.5,1007.6 724,1006.8 724.5,1006 725,1005.2 725.5,1004.3 726,1003.4 726.5,1002.5 727,1001.5 727.5,1000.5 728,999.4 728.5,998.2 729,997.1 729.1,996.8 729.2,996.6 729.3,996.3 729.4,996.1 729.5,995.8 729.6,995.6 729.7,995.3 729.8,995 729.9,994.8 730,994.5 730.1,994.2 730.2,994 730.3,993.7 730.4,993.4 730.5,993.1 730.6,992.8 730.7,992.6 730.8,992.3 730.9,992 731,991.7 731.1,991.4 731.2,991.1 731.3,990.8 731.4,990.5 731.5,990.1 731.6,989.8 731.7,989.5 731.8,989.2 731.9,988.9 732,988.5 732.1,988.2 732.2,987.8 732.3,987.5 732.4,987.1 732.5,986.8 732.6,986.4 732.7,986 732.8,985.7 732.9,985.3 733,984.9 733.1,984.5 733.2,984.1 733.3,983.7 733.4,983.3 733.5,982.9 733.6,982.4 733.7,982 733.8,981.5 733.9,981.1 734,980.6 734.1,980.2 734.2,979.7 734.3,979.2 734.4,978.7 734.5,978.1 734.6,977.6 734.7,977.1 734.8,976.5 734.9,975.9 735,975.4 735.1,974.7 735.2,974.1 735.3,973.5 735.4,972.8 735.5,972.2 735.6,971.5 735.7,970.7 735.8,970 735.9,969.2 736,968.4 736.1,967.6 736.2,966.7 736.3,965.8 736.4,964.9 736.5,963.9 736.6,962.9 736.7,961.9 736.8,960.8 736.9,959.6 737,958.4 737.1,957.2 737.2,955.9 737.3,954.5 737.4,953 737.5,951.5 737.6,949.9 737.7,948.2 737.8,946.4 737.9,944.5 738,942.5 738.1,940.3 738.2,938.1 738.3,935.6 738.4,933.1 738.5,930.3 738.6,927.4 738.7,924.2 738.8,920.8 738.9,917.2 739,913.3 739.1,909.1 739.2,904.6 739.3,899.7 739.4,894.4 739.5,888.6 739.6,882.4 739.7,875.6 739.8,868.3 739.9,860.3 740,851.6 740.1,842.2 740.2,831.9 740.3,820.7 740.4,808.6 740.5,795.4 740.6,781.2 740.7,765.9 740.8,749.6 740.9,732.2 741,714 741.1,695 741.2,675.7 741.3,656.4 741.4,637.5 741.5,619.8 741.6,604 741.7,590.6 741.8,580.5 741.9,574.2 742,572.1 742.1,574.2 742.2,580.6 742.3,590.7 742.4,604.1 742.5,620 742.6,637.7 742.7,656.5 742.8,675.9 742.9,695.3 743,714.2 743.1,732.5 743.2,749.9 743.3,766.2 743.4,781.6 743.5,795.8 743.6,809 743.7,821.1 743.8,832.4 743.9,842.7 744,852.1 744.1,860.9 744.2,868.9 744.3,876.2 744.4,883 744.5,889.3 744.6,895 744.7,900.4 744.8,905.3 744.9,909.9 745,914.1 745.1,918 745.2,921.7 745.3,925.1 745.4,928.3 745.5,931.2 745.6,934 745.7,936.6 745.8,939.1 745.9,941.4 746,943.5 746.1,945.6 746.2,947.5 746.3,949.3 746.4,951 746.5,952.7 746.6,954.2 746.7,955.7 746.8,957.1 746.9,958.5 747,959.7 747.1,961 747.2,962.1 747.3,963.2 747.4,964.3 747.5,965.4 747.6,966.3 747.7,967.3 747.8,968.2 747.9,969.1 748,970 748.1,970.8 748.2,971.6 748.3,972.4 748.4,973.1 748.5,973.8 748.6,974.5 748.7,975.2 748.8,975.9 748.9,976.5 749,977.2 749.1,977.8 749.2,978.4 749.3,979 749.4,979.5 749.5,980.1 749.6,980.6 749.7,981.2 749.8,981.7 749.9,982.2 750,982.7 750.1,983.2 750.2,983.7 750.3,984.2 750.4,984.6 750.5,985.1 750.6,985.5 750.7,986 750.8,986.4 750.9,986.8 751,987.2 751.1,987.7 751.2,988.1 751.3,988.5 751.4,988.9 751.5,989.2 751.6,989.6 751.7,990 751.8,990.4 751.9,990.8 752,991.1 752.1,991.5 752.2,991.8 752.3,992.2 752.4,992.5 752.5,992.9 752.6,993.2 752.7,993.6 752.8,993.9 752.9,994.2 753,994.6 753.1,994.9 753.2,995.2 753.3,995.5 753.4,995.8 753.5,996.1 753.6,996.4 753.7,996.7 753.8,997 753.9,997.3 754,997.6 754.1,997.9 754.2,998.2 754.3,998.5 754.4,998.8 754.5,999.1 754.6,999.4 754.7,999.6 754.8,999.9 754.9,1000.2 755,1000.5 755.5,1001.8 756,1003 756.5,1004.3 757,1005.4 757.5,1006.6 758,1007.6 758.5,1008.7 759,1009.7 759.5,1010.7 760,1011.6 760.5,1012.5 761,1013.3 761.5,1014.2 762,1015 762.5,1015.7 763,1016.5 763.5,1017.2 764,1017.8 764.5,1018.5 765,1019.1 765.5,1019.7 766,1020.3 766.5,1020.8 767,1021.3 767.5,1021.8 768,1022.3 768.5,1022.8 769,1023.2 769.5,1023.6 770,1024 770.5,1024.4 771,1024.8 771.5,1025.1 772,1025.5 772.5,1025.8 773,1026.1 773.5,1026.4 774,1026.7 774.5,1026.9 775,1027.2 775.5,1027.5 776,1027.7 776.5,1027.9 777,1028.1 777.5,1028.3 778,1028.6 778.5,1028.7 779,1028.9 779.5,1029.1 780,1029.3 780.5,1029.5 781,1029.6 781.5,1029.8 782,1029.9 782.5,1030.1 783,1030.2 783.5,1030.3 784,1030.5 784.5,1030.6 785,1030.7 785.5,1030.8 786,1031 786.5,1031.1 787,1031.2 787.5,1031.3 788,1031.4 788.5,1031.5 789,1031.6 789.5,1031.7 790,1031.8 790.5,1031.9 791,1032 791.5,1032.1 792,1032.1 792.5,1032.2 793,1032.3 793.5,1032.4 794,1032.5 794.5,1032.5 795,1032.6 795.5,1032.7 796,1032.8 796.5,1032.8 797,1032.9 797.5,1033 798,1033 798.5,1033.1 799,1033.2 799.5,1033.2 800,1033.3 800.5,1033.4 801,1033.4 801.5,1033.5 802,1033.5 802.5,1033.6 803,1033.6 803.5,1033.7 804,1033.8 804.5,1033.8 805,1033.9 805.5,1033.9 806,1034 806.5,1034 807,1034.1 807.5,1034.1 808,1034.2 808.5,1034.2 809,1034.3 809.5,1034.3 810,1034.3 810.5,1034.4 811,1034.4 811.5,1034.5 812,1034.5 812.5,1034.6 813,1034.6 813.5,1034.6 814,1034.7 814.5,1034.7 815,1034.8 815.5,1034.8 816,1034.8 816.5,1034.9 817,1034.9 817.5,1034.9 818,1035 818.5,1035 819,1035 819.5,1035.1 820,1035.1 820.5,1035.2 821,1035.2 821.5,1035.2 822,1035.2 822.5,1035.3 823,1035.3 823.5,1035.3 824,1035.4 824.5,1035.4 825,1035.4 825.5,1035.5 826,1035.5 826.5,1035.5 827,1035.6 827.5,1035.6 828,1035.6 828.5,1035.6 829,1035.7 829.5,1035.7 830,1035.7 830.5,1035.7 831,1035.8 831.5,1035.8 832,1035.8 832.5,1035.8 833,1035.9 833.5,1035.9 834,1035.9 834.5,1035.9 835,1036 835.5,1036 836,1036 836.5,1036 837,1036.1 837.5,1036.1 838,1036.1 838.5,1036.1 839,1036.2 839.5,1036.2 840,1036.2 840.5,1036.2 841,1036.2 841.5,1036.3 842,1036.3 842.5,1036.3 843,1036.3 843.5,1036.3 844,1036.4 844.5,1036.4 845,1036.4 845.5,1036.4 846,1036.4 846.5,1036.5 847,1036.5 847.5,1036.5 848,1036.5 848.5,1036.5 849,1036.6 849.5,1036.6 850,1036.6 850.5,1036.6 851,1036.6 851.5,1036.6 852,1036.7 852.5,1036.7 853,1036.7 853.5,1036.7 854,1036.7 854.5,1036.8 855,1036.8 855.5,1036.8 856,1036.8 856.5,1036.8 857,1036.8 857.5,1036.8 858,1036.9 858.5,1036.9 859,1036.9 859.5,1036.9 860,1036.9 860.5,1036.9 861,1037 861.5,1037 862,1037 862.5,1037 863,1037 863.5,1037 864,1037 864.5,1037.1 865,1037.1 865.5,1037.1 866,1037.1 866.5,1037.1 867,1037.1 867.5,1037.1 868,1037.2 868.5,1037.2 869,1037.2 869.5,1037.2 870,1037.2 870.5,1037.2 871,1037.2 871.5,1037.2 872,1037.3 872.5,1037.3 873,1037.3 873.5,1037.3 874,1037.3 874.5,1037.3 875,1037.3 875.5,1037.3 876,1037.4 876.5,1037.4 877,1037.4 877.5,1037.4 878,1037.4 878.5,1037.4 879,1037.4 879.5,1037.4 880,1037.4 880.5,1037.5 881,1037.5 881.5,1037.5 882,1037.5 882.5,1037.5 883,1037.5 883.5,1037.5 884,1037.5 884.5,1037.5 885,1037.6 885.5,1037.6 886,1037.6 886.5,1037.6 887,1037.6 887.5,1037.6 888,1037.6 888.5,1037.6 889,1037.6 889.5,1037.6 890,1037.7 890.5,1037.7 891,1037.7 891.5,1037.7 892,1037.7 892.5,1037.7 893,1037.7 893.5,1037.7 894,1037.7 894.5,1037.7 895,1037.8 895.5,1037.8 896,1037.8 896.5,1037.8 897,1037.8 897.5,1037.8 898,1037.8 898.5,1037.8 899,1037.8 899.5,1037.8 900,1037.8 900.5,1037.8 901,1037.9 901.5,1037.9 902,1037.9 902.5,1037.9 903,1037.9 903.5,1037.9 904,1037.9 904.5,1037.9 905,1037.9 905.5,1037.9 906,1037.9 906.5,1037.9 907,1038 907.5,1038 908,1038 908.5,1038 909,1038 909.5,1038 910,1038 910.5,1038 911,1038 911.5,1038 912,1038 912.5,1038 913,1038 913.5,1038.1 914,1038.1 914.5,1038.1 915,1038.1 915.5,1038.1 916,1038.1 916.5,1038.1 917,1038.1 917.5,1038.1 918,1038.1 918.5,1038.1 919,1038.1 919.5,1038.1 920,1038.1 920.5,1038.2 921,1038.2 921.5,1038.2 922,1038.2 922.5,1038.2 923,1038.2 923.5,1038.2 924,1038.2 924.5,1038.2 925,1038.2 925.5,1038.2 926,1038.2 926.5,1038.2 927,1038.2 927.5,1038.2 928,1038.3 928.5,1038.3 929,1038.3 929.5,1038.3 930,1038.3 930.5,1038.3 931,1038.3 931.5,1038.3 932,1038.3 932.5,1038.3 933,1038.3 933.5,1038.3 934,1038.3 934.5,1038.3 935,1038.3 935.5,1038.3 936,1038.3 936.5,1038.4 937,1038.4 937.5,1038.4 938,1038.4 938.5,1038.4 939,1038.4 939.5,1038.4 940,1038.4 940.5,1038.4 941,1038.4 941.5,1038.4 942,1038.4 942.5,1038.4 943,1038.4 943.5,1038.4 944,1038.4 944.5,1038.4 945,1038.4 945.5,1038.4 946,1038.5 946.5,1038.5 947,1038.5 947.5,1038.5 948,1038.5 948.5,1038.5 949,1038.5 949.5,1038.5 950,1038.5 950.5,1038.5 951,1038.5 951.5,1038.5 952,1038.5 952.5,1038.5 953,1038.5 953.5,1038.5 954,1038.5 954.5,1038.5 955,1038.5 955.5,1038.5 956,1038.6 956.5,1038.6 957,1038.6 957.5,1038.6 958,1038.6 958.5,1038.6 959,1038.6 959.5,1038.6 960,1038.6 960.5,1038.6 961,1038.6 961.5,1038.6 962,1038.6 962.5,1038.6 963,1038.6 963.5,1038.6 964,1038.6 964.5,1038.6 965,1038.6 965.5,1038.6 966,1038.6 966.5,1038.6 967,1038.6 967.5,1038.7 968,1038.7 968.5,1038.7 969,1038.7 969.5,1038.7 970,1038.7 970.5,1038.7 971,1038.7 971.5,1038.7 972,1038.7 972.5,1038.7 973,1038.7 973.5,1038.7 974,1038.7 974.5,1038.7 975,1038.7 975.5,1038.7 976,1038.7 976.5,1038.7 977,1038.7 977.5,1038.7 978,1038.7 978.5,1038.7 979,1038.7 979.5,1038.7 980,1038.7 980.5,1038.8 981,1038.8 981.5,1038.8 982,1038.8 982.5,1038.8 983,1038.8 983.5,1038.8 984,1038.8 984.5,1038.8 985,1038.8 985.5,1038.8 986,1038.8 986.5,1038.8 987,1038.8 987.5,1038.8 988,1038.8 988.5,1038.8 989,1038.8 989.5,1038.8 990,1038.8 990.5,1038.8 991,1038.8 991.5,1038.8 992,1038.8 992.5,1038.8 993,1038.8 993.5,1038.8 994,1038.8 994.5,1038.8 995,1038.9 995.5,1038.9 996,1038.9 996.5,1038.9 997,1038.9 997.5,1038.9 998,1038.9 998.5,1038.9 999,1038.9 999.5,1038.9 1000,1038.9 1000.5,1038.9 1001,1038.9 1001.5,1038.9 1002,1038.9 1002.5,1038.9 1003,1038.9 1003.5,1038.9 1004,1038.9 1004.5,1038.9 1005,1038.9 1005.5,1038.9 1006,1038.9 1006.5,1038.9 1007,1038.9 1007.5,1038.9 1008,1038.9 1008.5,1038.9 1009,1038.9 1009.5,1038.9 1010,1038.9 1010.5,1038.9 1011,1039 1011.5,1039 1012,1039 1012.5,1039 1013,1039 1013.5,1039 1014,1039 1014.5,1039 1015,1039 1015.5,1039 1016,1039 1016.5,1039 1017,1039 1017.5,1039 1018,1039 1018.5,1039 1019,1039 1019.5,1039 1020,1039 1020.5,1039 1021,1039 1021.5,1039 1022,1039 1022.5,1039 1023,1039 1023.5,1039 1024,1039 1024.5,1039 1025,1039 1025.5,1039 1026,1039 1026.5,1039 1027,1039 1027.5,1039 1028,1039 1028.5,1039 1029,1039 1029.5,1039 1030,1039.1 1030.5,1039.1 1031,1039.1 1031.5,1039.1 1032,1039.1 1032.5,1039.1 1033,1039.1 1033.5,1039.1 1034,1039.1 1034.5,1039.1 1035,1039.1 1035.5,1039.1 1036,1039.1 1036.5,1039.1 1037,1039.1 1037.5,1039.1 1038,1039.1 1038.5,1039.1 1039,1039.1 1039.5,1039.1 1040,1039.1 1040.5,1039.1 1041,1039.1 1041.5,1039.1 1042,1039.1 1042.5,1039.1 1043,1039.1 1043.5,1039.1 1044,1039.1 1044.5,1039.1 1045,1039.1 1045.5,1039.1 1046,1039.1 1046.5,1039.1 1047,1039.1 1047.5,1039.1 1048,1039.1 1048.5,1039.1 1049,1039.1 1049.5,1039.1 1050,1039.1 1050.5,1039.1 1051,1039.1 1051.5,1039.1 1052,1039.1 1052.5,1039.2 1053,1039.2 1053.5,1039.2 1054,1039.2 1054.5,1039.2 1055,1039.2 1055.5,1039.2 1056,1039.2 1056.5,1039.2 1057,1039.2 1057.5,1039.2 1058,1039.2 1058.5,1039.2 1059,1039.2 1059.5,1039.2 1060,1039.2 1060.5,1039.2 1061,1039.2 1061.5,1039.2 1062,1039.2" fill="none" stroke="#000" stroke-width="1.7" stroke-linejoin="round"/>
<path d="M705,1039.4 705.5,1039.4 706,1039.4 706.5,1039.4 707,1039.4 707.5,1039.3 708,1039.3 708.5,1039.3 709,1039.3 709.5,1039.3 710,1039.2 710.5,1039.2 711,1039.2 711.5,1039.2 712,1039.1 712.5,1039.1 713,1039.1 713.5,1039 714,1039 714.5,1039 715,1038.9 715.5,1038.9 716,1038.8 716.5,1038.8 717,1038.7 717.5,1038.7 718,1038.6 718.5,1038.6 719,1038.5 719.5,1038.5 720,1038.4 720.5,1038.3 721,1038.2 721.5,1038.1 722,1038 722.5,1037.9 723,1037.8 723.5,1037.7 724,1037.6 724.5,1037.5 725,1037.3 725.5,1037.1 726,1037 726.5,1036.8 727,1036.5 727.5,1036.3 728,1036 728.5,1035.7 729,1035.4 729.1,1035.3 729.2,1035.3 729.3,1035.2 729.4,1035.1 729.5,1035 729.6,1035 729.7,1034.9 729.8,1034.8 729.9,1034.7 730,1034.6 730.1,1034.5 730.2,1034.4 730.3,1034.3 730.4,1034.3 730.5,1034.2 730.6,1034 730.7,1033.9 730.8,1033.8 730.9,1033.7 731,1033.6 731.1,1033.5 731.2,1033.4 731.3,1033.3 731.4,1033.1 731.5,1033 731.6,1032.9 731.7,1032.7 731.8,1032.6 731.9,1032.4 732,1032.3 732.1,1032.1 732.2,1032 732.3,1031.8 732.4,1031.7 732.5,1031.5 732.6,1031.3 732.7,1031.1 732.8,1030.9 732.9,1030.7 733,1030.5 733.1,1030.3 733.2,1030.1 733.3,1029.9 733.4,1029.7 733.5,1029.4 733.6,1029.2 733.7,1028.9 733.8,1028.7 733.9,1028.4 734,1028.1 734.1,1027.8 734.2,1027.5 734.3,1027.2 734.4,1026.8 734.5,1026.5 734.6,1026.2 734.7,1025.8 734.8,1025.4 734.9,1025 735,1024.6 735.1,1024.2 735.2,1023.7 735.3,1023.2 735.4,1022.7 735.5,1022.2 735.6,1021.7 735.7,1021.1 735.8,1020.6 735.9,1019.9 736,1019.3 736.1,1018.6 736.2,1017.9 736.3,1017.2 736.4,1016.4 736.5,1015.6 736.6,1014.7 736.7,1013.8 736.8,1012.9 736.9,1011.9 737,1010.8 737.1,1009.7 737.2,1008.5 737.3,1007.3 737.4,1006 737.5,1004.6 737.6,1003.1 737.7,1001.5 737.8,999.9 737.9,998.1 738,996.2 738.1,994.2 738.2,992 738.3,989.7 738.4,987.2 738.5,984.6 738.6,981.7 738.7,978.7 738.8,975.4 738.9,971.9 739,968 739.1,963.9 739.2,959.5 739.3,954.7 739.4,949.4 739.5,943.8 739.6,937.6 739.7,930.9 739.8,923.7 739.9,915.7 740,907.1 740.1,897.7 740.2,887.5 740.3,876.3 740.4,864.3 740.5,851.1 740.6,837 740.7,821.7 740.8,805.4 740.9,788.1 741,769.9 741.1,750.9 741.2,731.6 741.3,712.3 741.4,693.5 741.5,675.8 741.6,659.9 741.7,646.6 741.8,636.5 741.9,630.2 742,628 742.1,630.2 742.2,636.5 742.3,646.6 742.4,659.9 742.5,675.8 742.6,693.5 742.7,712.3 742.8,731.6 742.9,750.9 743,769.9 743.1,788.1 743.2,805.4 743.3,821.7 743.4,837 743.5,851.1 743.6,864.3 743.7,876.3 743.8,887.5 743.9,897.7 744,907.1 744.1,915.7 744.2,923.7 744.3,930.9 744.4,937.6 744.5,943.8 744.6,949.4 744.7,954.7 744.8,959.5 744.9,963.9 745,968 745.1,971.9 745.2,975.4 745.3,978.7 745.4,981.7 745.5,984.6 745.6,987.2 745.7,989.7 745.8,992 745.9,994.2 746,996.2 746.1,998.1 746.2,999.9 746.3,1001.5 746.4,1003.1 746.5,1004.6 746.6,1006 746.7,1007.3 746.8,1008.5 746.9,1009.7 747,1010.8 747.1,1011.9 747.2,1012.9 747.3,1013.8 747.4,1014.7 747.5,1015.6 747.6,1016.4 747.7,1017.2 747.8,1017.9 747.9,1018.6 748,1019.3 748.1,1019.9 748.2,1020.6 748.3,1021.1 748.4,1021.7 748.5,1022.2 748.6,1022.7 748.7,1023.2 748.8,1023.7 748.9,1024.2 749,1024.6 749.1,1025 749.2,1025.4 749.3,1025.8 749.4,1026.2 749.5,1026.5 749.6,1026.8 749.7,1027.2 749.8,1027.5 749.9,1027.8 750,1028.1 750.1,1028.4 750.2,1028.7 750.3,1028.9 750.4,1029.2 750.5,1029.4 750.6,1029.7 750.7,1029.9 750.8,1030.1 750.9,1030.3 751,1030.5 751.1,1030.7 751.2,1030.9 751.3,1031.1 751.4,1031.3 751.5,1031.5 751.6,1031.7 751.7,1031.8 751.8,1032 751.9,1032.1 752,1032.3 752.1,1032.4 752.2,1032.6 752.3,1032.7 752.4,1032.9 752.5,1033 752.6,1033.1 752.7,1033.3 752.8,1033.4 752.9,1033.5 753,1033.6 753.1,1033.7 753.2,1033.8 753.3,1033.9 753.4,1034 753.5,1034.2 753.6,1034.3 753.7,1034.3 753.8,1034.4 753.9,1034.5 754,1034.6 754.1,1034.7 754.2,1034.8 754.3,1034.9 754.4,1035 754.5,1035 754.6,1035.1 754.7,1035.2 754.8,1035.3 754.9,1035.3 755,1035.4 755.5,1035.7 756,1036 756.5,1036.3 757,1036.5 757.5,1036.8 758,1037 758.5,1037.1 759,1037.3 759.5,1037.5 760,1037.6 760.5,1037.7 761,1037.8 761.5,1037.9 762,1038 762.5,1038.1 763,1038.2 763.5,1038.3 764,1038.4 764.5,1038.5 765,1038.5 765.5,1038.6 766,1038.6 766.5,1038.7 767,1038.7 767.5,1038.8 768,1038.8 768.5,1038.9 769,1038.9 769.5,1039 770,1039 770.5,1039 771,1039.1 771.5,1039.1 772,1039.1 772.5,1039.2 773,1039.2 773.5,1039.2 774,1039.2 774.5,1039.3 775,1039.3 775.5,1039.3 776,1039.3 776.5,1039.3 777,1039.4 777.5,1039.4 778,1039.4 778.5,1039.4 779,1039.4 779.5,1039.4 780,1039.5 L780.0,1040.0 L705.0,1040.0 Z" fill="#7a8af5" fill-opacity="0.5" stroke="none"/>
<path d="M705,1039.4 705.5,1039.4 706,1039.4 706.5,1039.4 707,1039.4 707.5,1039.3 708,1039.3 708.5,1039.3 709,1039.3 709.5,1039.3 710,1039.2 710.5,1039.2 711,1039.2 711.5,1039.2 712,1039.1 712.5,1039.1 713,1039.1 713.5,1039 714,1039 714.5,1039 715,1038.9 715.5,1038.9 716,1038.8 716.5,1038.8 717,1038.7 717.5,1038.7 718,1038.6 718.5,1038.6 719,1038.5 719.5,1038.5 720,1038.4 720.5,1038.3 721,1038.2 721.5,1038.1 722,1038 722.5,1037.9 723,1037.8 723.5,1037.7 724,1037.6 724.5,1037.5 725,1037.3 725.5,1037.1 726,1037 726.5,1036.8 727,1036.5 727.5,1036.3 728,1036 728.5,1035.7 729,1035.4 729.1,1035.3 729.2,1035.3 729.3,1035.2 729.4,1035.1 729.5,1035 729.6,1035 729.7,1034.9 729.8,1034.8 729.9,1034.7 730,1034.6 730.1,1034.5 730.2,1034.4 730.3,1034.3 730.4,1034.3 730.5,1034.2 730.6,1034 730.7,1033.9 730.8,1033.8 730.9,1033.7 731,1033.6 731.1,1033.5 731.2,1033.4 731.3,1033.3 731.4,1033.1 731.5,1033 731.6,1032.9 731.7,1032.7 731.8,1032.6 731.9,1032.4 732,1032.3 732.1,1032.1 732.2,1032 732.3,1031.8 732.4,1031.7 732.5,1031.5 732.6,1031.3 732.7,1031.1 732.8,1030.9 732.9,1030.7 733,1030.5 733.1,1030.3 733.2,1030.1 733.3,1029.9 733.4,1029.7 733.5,1029.4 733.6,1029.2 733.7,1028.9 733.8,1028.7 733.9,1028.4 734,1028.1 734.1,1027.8 734.2,1027.5 734.3,1027.2 734.4,1026.8 734.5,1026.5 734.6,1026.2 734.7,1025.8 734.8,1025.4 734.9,1025 735,1024.6 735.1,1024.2 735.2,1023.7 735.3,1023.2 735.4,1022.7 735.5,1022.2 735.6,1021.7 735.7,1021.1 735.8,1020.6 735.9,1019.9 736,1019.3 736.1,1018.6 736.2,1017.9 736.3,1017.2 736.4,1016.4 736.5,1015.6 736.6,1014.7 736.7,1013.8 736.8,1012.9 736.9,1011.9 737,1010.8 737.1,1009.7 737.2,1008.5 737.3,1007.3 737.4,1006 737.5,1004.6 737.6,1003.1 737.7,1001.5 737.8,999.9 737.9,998.1 738,996.2 738.1,994.2 738.2,992 738.3,989.7 738.4,987.2 738.5,984.6 738.6,981.7 738.7,978.7 738.8,975.4 738.9,971.9 739,968 739.1,963.9 739.2,959.5 739.3,954.7 739.4,949.4 739.5,943.8 739.6,937.6 739.7,930.9 739.8,923.7 739.9,915.7 740,907.1 740.1,897.7 740.2,887.5 740.3,876.3 740.4,864.3 740.5,851.1 740.6,837 740.7,821.7 740.8,805.4 740.9,788.1 741,769.9 741.1,750.9 741.2,731.6 741.3,712.3 741.4,693.5 741.5,675.8 741.6,659.9 741.7,646.6 741.8,636.5 741.9,630.2 742,628 742.1,630.2 742.2,636.5 742.3,646.6 742.4,659.9 742.5,675.8 742.6,693.5 742.7,712.3 742.8,731.6 742.9,750.9 743,769.9 743.1,788.1 743.2,805.4 743.3,821.7 743.4,837 743.5,851.1 743.6,864.3 743.7,876.3 743.8,887.5 743.9,897.7 744,907.1 744.1,915.7 744.2,923.7 744.3,930.9 744.4,937.6 744.5,943.8 744.6,949.4 744.7,954.7 744.8,959.5 744.9,963.9 745,968 745.1,971.9 745.2,975.4 745.3,978.7 745.4,981.7 745.5,984.6 745.6,987.2 745.7,989.7 745.8,992 745.9,994.2 746,996.2 746.1,998.1 746.2,999.9 746.3,1001.5 746.4,1003.1 746.5,1004.6 746.6,1006 746.7,1007.3 746.8,1008.5 746.9,1009.7 747,1010.8 747.1,1011.9 747.2,1012.9 747.3,1013.8 747.4,1014.7 747.5,1015.6 747.6,1016.4 747.7,1017.2 747.8,1017.9 747.9,1018.6 748,1019.3 748.1,1019.9 748.2,1020.6 748.3,1021.1 748.4,1021.7 748.5,1022.2 748.6,1022.7 748.7,1023.2 748.8,1023.7 748.9,1024.2 749,1024.6 749.1,1025 749.2,1025.4 749.3,1025.8 749.4,1026.2 749.5,1026.5 749.6,1026.8 749.7,1027.2 749.8,1027.5 749.9,1027.8 750,1028.1 750.1,1028.4 750.2,1028.7 750.3,1028.9 750.4,1029.2 750.5,1029.4 750.6,1029.7 750.7,1029.9 750.8,1030.1 750.9,1030.3 751,1030.5 751.1,1030.7 751.2,1030.9 751.3,1031.1 751.4,1031.3 751.5,1031.5 751.6,1031.7 751.7,1031.8 751.8,1032 751.9,1032.1 752,1032.3 752.1,1032.4 752.2,1032.6 752.3,1032.7 752.4,1032.9 752.5,1033 752.6,1033.1 752.7,1033.3 752.8,1033.4 752.9,1033.5 753,1033.6 753.1,1033.7 753.2,1033.8 753.3,1033.9 753.4,1034 753.5,1034.2 753.6,1034.3 753.7,1034.3 753.8,1034.4 753.9,1034.5 754,1034.6 754.1,1034.7 754.2,1034.8 754.3,1034.9 754.4,1035 754.5,1035 754.6,1035.1 754.7,1035.2 754.8,1035.3 754.9,1035.3 755,1035.4 755.5,1035.7 756,1036 756.5,1036.3 757,1036.5 757.5,1036.8 758,1037 758.5,1037.1 759,1037.3 759.5,1037.5 760,1037.6 760.5,1037.7 761,1037.8 761.5,1037.9 762,1038 762.5,1038.1 763,1038.2 763.5,1038.3 764,1038.4 764.5,1038.5 765,1038.5 765.5,1038.6 766,1038.6 766.5,1038.7 767,1038.7 767.5,1038.8 768,1038.8 768.5,1038.9 769,1038.9 769.5,1039 770,1039 770.5,1039 771,1039.1 771.5,1039.1 772,1039.1 772.5,1039.2 773,1039.2 773.5,1039.2 774,1039.2 774.5,1039.3 775,1039.3 775.5,1039.3 776,1039.3 776.5,1039.3 777,1039.4 777.5,1039.4 778,1039.4 778.5,1039.4 779,1039.4 779.5,1039.4 780,1039.5" fill="none" stroke="#3350f5" stroke-width="1.1"/>
<line x1="404.5" y1="1040.0" x2="1062.2" y2="1040.0" stroke="#111" stroke-width="2.0"/>
<line x1="1037.0" y1="1040.0" x2="1037.0" y2="1052.4" stroke="#111" stroke-width="1.7"/>
<text transform="translate(1036.1,1084.4) scale(0.955,1)" font-family="'Liberation Sans', sans-serif" font-size="30" fill="#111" stroke="#111" stroke-width="0.25" text-anchor="middle">−25</text>
<line x1="1006.7" y1="1040.0" x2="1006.7" y2="1046.2" stroke="#111" stroke-width="1.5"/>
<line x1="976.3" y1="1040.0" x2="976.3" y2="1052.4" stroke="#111" stroke-width="1.7"/>
<text transform="translate(975.4,1084.4) scale(0.955,1)" font-family="'Liberation Sans', sans-serif" font-size="30" fill="#111" stroke="#111" stroke-width="0.25" text-anchor="middle">−20</text>
<line x1="946.0" y1="1040.0" x2="946.0" y2="1046.2" stroke="#111" stroke-width="1.5"/>
<line x1="915.6" y1="1040.0" x2="915.6" y2="1052.4" stroke="#111" stroke-width="1.7"/>
<text transform="translate(914.7,1084.4) scale(0.955,1)" font-family="'Liberation Sans', sans-serif" font-size="30" fill="#111" stroke="#111" stroke-width="0.25" text-anchor="middle">−15</text>
<line x1="885.2" y1="1040.0" x2="885.2" y2="1046.2" stroke="#111" stroke-width="1.5"/>
<line x1="854.9" y1="1040.0" x2="854.9" y2="1052.4" stroke="#111" stroke-width="1.7"/>
<text transform="translate(854.0,1084.4) scale(0.955,1)" font-family="'Liberation Sans', sans-serif" font-size="30" fill="#111" stroke="#111" stroke-width="0.25" text-anchor="middle">−10</text>
<line x1="824.5" y1="1040.0" x2="824.5" y2="1046.2" stroke="#111" stroke-width="1.5"/>
<line x1="794.2" y1="1040.0" x2="794.2" y2="1052.4" stroke="#111" stroke-width="1.7"/>
<text transform="translate(793.3,1084.4) scale(0.955,1)" font-family="'Liberation Sans', sans-serif" font-size="30" fill="#111" stroke="#111" stroke-width="0.25" text-anchor="middle">−5</text>
<line x1="763.9" y1="1040.0" x2="763.9" y2="1046.2" stroke="#111" stroke-width="1.5"/>
<line x1="733.5" y1="1040.0" x2="733.5" y2="1052.4" stroke="#111" stroke-width="1.7"/>
<text transform="translate(732.6,1084.4) scale(0.955,1)" font-family="'Liberation Sans', sans-serif" font-size="30" fill="#111" stroke="#111" stroke-width="0.25" text-anchor="middle">0</text>
<line x1="703.1" y1="1040.0" x2="703.1" y2="1046.2" stroke="#111" stroke-width="1.5"/>
<line x1="672.8" y1="1040.0" x2="672.8" y2="1052.4" stroke="#111" stroke-width="1.7"/>
<text transform="translate(671.9,1084.4) scale(0.955,1)" font-family="'Liberation Sans', sans-serif" font-size="30" fill="#111" stroke="#111" stroke-width="0.25" text-anchor="middle">5</text>
<line x1="642.5" y1="1040.0" x2="642.5" y2="1046.2" stroke="#111" stroke-width="1.5"/>
<line x1="612.1" y1="1040.0" x2="612.1" y2="1052.4" stroke="#111" stroke-width="1.7"/>
<text transform="translate(611.2,1084.4) scale(0.955,1)" font-family="'Liberation Sans', sans-serif" font-size="30" fill="#111" stroke="#111" stroke-width="0.25" text-anchor="middle">10</text>
<line x1="581.8" y1="1040.0" x2="581.8" y2="1046.2" stroke="#111" stroke-width="1.5"/>
<line x1="551.4" y1="1040.0" x2="551.4" y2="1052.4" stroke="#111" stroke-width="1.7"/>
<text transform="translate(550.5,1084.4) scale(0.955,1)" font-family="'Liberation Sans', sans-serif" font-size="30" fill="#111" stroke="#111" stroke-width="0.25" text-anchor="middle">15</text>
<line x1="521.0" y1="1040.0" x2="521.0" y2="1046.2" stroke="#111" stroke-width="1.5"/>
<line x1="490.7" y1="1040.0" x2="490.7" y2="1052.4" stroke="#111" stroke-width="1.7"/>
<text transform="translate(489.8,1084.4) scale(0.955,1)" font-family="'Liberation Sans', sans-serif" font-size="30" fill="#111" stroke="#111" stroke-width="0.25" text-anchor="middle">20</text>
<line x1="460.3" y1="1040.0" x2="460.3" y2="1046.2" stroke="#111" stroke-width="1.5"/>
<line x1="430.0" y1="1040.0" x2="430.0" y2="1052.4" stroke="#111" stroke-width="1.7"/>
<text transform="translate(429.1,1084.4) scale(0.955,1)" font-family="'Liberation Sans', sans-serif" font-size="30" fill="#111" stroke="#111" stroke-width="0.25" text-anchor="middle">25</text>
<text x="1062.5" y="1127.1" font-family="'Liberation Sans', sans-serif" font-size="31.5" fill="#111" stroke="#111" stroke-width="0.25" text-anchor="end">[ppm]</text>
<text x="652.4" y="884.7" font-family="'Liberation Sans', sans-serif" font-size="31.5" font-weight="bold" fill="#2f55f0" textLength="71.8" lengthAdjust="spacingAndGlyphs">40 %</text>
<text x="651.4" y="980.5" font-family="'Liberation Sans', sans-serif" font-size="30.5" font-weight="bold" fill="#f5801e" textLength="71.3" lengthAdjust="spacingAndGlyphs">60 %</text>
<rect x="762.0" y="668.0" width="306.0" height="189.60000000000002" fill="#fff" stroke="#000" stroke-width="1.8"/>
<line x1="761.1" y1="857.6" x2="1068.9" y2="857.6" stroke="#000" stroke-width="2.4"/>
<line x1="1067.3" y1="857.6" x2="1067.3" y2="862.1" stroke="#000" stroke-width="1.1"/>
<text x="1067.3" y="883.6" font-family="'Liberation Sans', sans-serif" font-size="18.3" fill="#111" stroke="#111" stroke-width="0.3" text-anchor="middle">−50</text>
<line x1="1032.9" y1="857.6" x2="1032.9" y2="860.1" stroke="#000" stroke-width="0.9"/>
<line x1="998.4" y1="857.6" x2="998.4" y2="862.1" stroke="#000" stroke-width="1.1"/>
<text x="998.4" y="883.6" font-family="'Liberation Sans', sans-serif" font-size="18.3" fill="#111" stroke="#111" stroke-width="0.3" text-anchor="middle">−25</text>
<line x1="964.0" y1="857.6" x2="964.0" y2="860.1" stroke="#000" stroke-width="0.9"/>
<line x1="929.5" y1="857.6" x2="929.5" y2="862.1" stroke="#000" stroke-width="1.1"/>
<text x="929.5" y="883.6" font-family="'Liberation Sans', sans-serif" font-size="18.3" fill="#111" stroke="#111" stroke-width="0.3" text-anchor="middle">0</text>
<line x1="895.0" y1="857.6" x2="895.0" y2="860.1" stroke="#000" stroke-width="0.9"/>
<line x1="860.6" y1="857.6" x2="860.6" y2="862.1" stroke="#000" stroke-width="1.1"/>
<text x="860.6" y="883.6" font-family="'Liberation Sans', sans-serif" font-size="18.3" fill="#111" stroke="#111" stroke-width="0.3" text-anchor="middle">25</text>
<line x1="826.1" y1="857.6" x2="826.1" y2="860.1" stroke="#000" stroke-width="0.9"/>
<line x1="791.6" y1="857.6" x2="791.6" y2="862.1" stroke="#000" stroke-width="1.1"/>
<text x="791.6" y="883.6" font-family="'Liberation Sans', sans-serif" font-size="18.3" fill="#111" stroke="#111" stroke-width="0.3" text-anchor="middle">50</text>
<path d="M772,856.9 772.6,856.9 773.2,856.9 773.8,856.9 774.4,856.9 775,856.9 775.6,856.9 776.2,856.9 776.8,856.8 777.4,856.8 778,856.8 778.6,856.8 779.2,856.8 779.8,856.8 780.4,856.8 781,856.8 781.6,856.7 782.2,856.7 782.8,856.7 783.4,856.7 784,856.7 784.6,856.7 785.2,856.7 785.8,856.6 786.4,856.6 787,856.6 787.6,856.6 788.2,856.6 788.8,856.6 789.4,856.5 790,856.5 790.6,856.5 791.2,856.5 791.8,856.5 792.4,856.4 793,856.4 793.6,856.4 794.2,856.4 794.8,856.3 795.4,856.3 796,856.3 796.6,856.3 797.2,856.2 797.8,856.2 798.4,856.2 799,856.1 799.6,856.1 800.2,856.1 800.8,856.1 801.4,856 802,856 802.6,856 803.2,855.9 803.8,855.9 804.4,855.8 805,855.8 805.6,855.8 806.2,855.7 806.8,855.7 807.4,855.6 808,855.6 808.6,855.6 809.2,855.5 809.8,855.5 810.4,855.4 811,855.4 811.6,855.3 812.2,855.3 812.8,855.2 813.4,855.2 814,855.1 814.6,855.1 815.2,855 815.8,855 816.4,854.9 817,854.9 817.6,854.8 818.2,854.7 818.8,854.7 819.4,854.6 820,854.5 820.6,854.5 821.2,854.4 821.8,854.3 822.4,854.3 823,854.2 823.6,854.1 824.2,854.1 824.8,854 825.4,853.9 826,853.8 826.6,853.8 827.2,853.7 827.8,853.6 828.4,853.5 829,853.4 829.6,853.3 830.2,853.3 830.8,853.2 831.4,853.1 832,853 832.6,852.9 833.2,852.8 833.8,852.7 834.4,852.6 835,852.5 835.6,852.4 836.2,852.3 836.8,852.2 837.4,852.1 838,852 838.6,851.9 839.2,851.8 839.8,851.7 840.4,851.6 841,851.4 841.6,851.3 842.2,851.2 842.8,851.1 843.4,851 844,850.9 844.6,850.7 845.2,850.6 845.8,850.5 846.4,850.4 847,850.2 847.6,850.1 848.2,850 848.8,849.8 849.4,849.7 850,849.6 850.6,849.4 851.2,849.3 851.8,849.2 852.4,849 853,848.9 853.6,848.7 854.2,848.6 854.8,848.4 855.4,848.3 856,848.1 856.6,848 857.2,847.8 857.8,847.6 858.4,847.5 859,847.3 859.6,847.2 860.2,847 860.8,846.8 861.4,846.6 862,846.5 862.6,846.3 863.2,846.1 863.8,845.9 864.4,845.7 865,845.6 865.6,845.4 866.2,845.2 866.8,845 867.4,844.8 868,844.6 868.6,844.3 869.2,844.1 869.8,843.9 870.4,843.7 871,843.4 871.6,843.2 872.2,843 872.8,842.7 873.4,842.5 874,842.2 874.6,841.9 875.2,841.6 875.8,841.3 876.4,841 877,840.7 877.6,840.4 878.2,840 878.8,839.7 879.4,839.3 880,838.8 880.6,838.4 881.2,837.9 881.8,837.4 882.4,836.9 883,836.3 883.6,835.6 884.2,834.9 884.8,834.2 885.4,833.3 886,832.4 886.6,831.4 887.2,830.3 887.8,829.1 888.4,827.8 889,826.4 889.6,824.8 890.2,823.1 890.8,821.2 891.4,819.1 892,816.9 892.6,814.5 893.2,811.8 893.8,809 894.4,806 895,802.8 895.6,799.4 896.2,795.7 896.8,791.9 897.4,787.9 898,783.7 898.6,779.4 899.2,774.9 899.8,770.3 900.4,765.7 901,761.1 901.6,756.5 902.2,752.1 902.8,747.9 903.4,743.9 904,740.4 904.6,737.3 905.2,734.8 905.8,733 906.4,731.9 907,731.5 907.6,731.9 908.2,733.1 908.8,735 909.4,737.5 910,740.6 910.6,744.2 911.2,748.2 911.8,752.5 912.4,757 913,761.6 913.6,766.2 914.2,770.9 914.8,775.5 915.4,780 916,784.4 916.6,788.6 917.2,792.7 917.8,796.5 918.4,800.2 919,803.7 919.6,806.9 920.2,810 920.8,812.9 921.4,815.5 922,818 922.6,820.2 923.2,822.3 923.8,824.3 924.4,826 925,827.6 925.6,829.1 926.2,830.5 926.8,831.7 927.4,832.8 928,833.9 928.6,834.8 929.2,835.7 929.8,836.5 930.4,837.2 931,837.9 931.6,838.5 932.2,839.1 932.8,839.6 933.4,840.1 934,840.6 934.6,841 935.2,841.4 935.8,841.8 936.4,842.2 937,842.5 937.6,842.9 938.2,843.2 938.8,843.5 939.4,843.8 940,844.1 940.6,844.4 941.2,844.6 941.8,844.9 942.4,845.2 943,845.4 943.6,845.6 944.2,845.9 944.8,846.1 945.4,846.3 946,846.6 946.6,846.8 947.2,847 947.8,847.2 948.4,847.4 949,847.6 949.6,847.8 950.2,847.9 950.8,848.1 951.4,848.3 952,848.5 952.6,848.7 953.2,848.8 953.8,849 954.4,849.2 955,849.3 955.6,849.5 956.2,849.6 956.8,849.8 957.4,849.9 958,850.1 958.6,850.2 959.2,850.4 959.8,850.5 960.4,850.6 961,850.8 961.6,850.9 962.2,851 962.8,851.2 963.4,851.3 964,851.4 964.6,851.5 965.2,851.7 965.8,851.8 966.4,851.9 967,852 967.6,852.1 968.2,852.2 968.8,852.3 969.4,852.4 970,852.5 970.6,852.6 971.2,852.7 971.8,852.8 972.4,852.9 973,853 973.6,853.1 974.2,853.2 974.8,853.3 975.4,853.4 976,853.5 976.6,853.6 977.2,853.6 977.8,853.7 978.4,853.8 979,853.9 979.6,854 980.2,854 980.8,854.1 981.4,854.2 982,854.3 982.6,854.3 983.2,854.4 983.8,854.5 984.4,854.5 985,854.6 985.6,854.7 986.2,854.7 986.8,854.8 987.4,854.8 988,854.9 988.6,855 989.2,855 989.8,855.1 990.4,855.1 991,855.2 991.6,855.2 992.2,855.3 992.8,855.3 993.4,855.4 994,855.4 994.6,855.5 995.2,855.5 995.8,855.6 996.4,855.6 997,855.6 997.6,855.7 998.2,855.7 998.8,855.8 999.4,855.8 1000,855.8 1000.6,855.9 1001.2,855.9 1001.8,855.9 1002.4,856 1003,856 1003.6,856 1004.2,856.1 1004.8,856.1 1005.4,856.1 1006,856.2 1006.6,856.2 1007.2,856.2 1007.8,856.2 1008.4,856.3 1009,856.3 1009.6,856.3 1010.2,856.3 1010.8,856.4 1011.4,856.4 1012,856.4 1012.6,856.4 1013.2,856.4 1013.8,856.5 1014.4,856.5 1015,856.5 1015.6,856.5 1016.2,856.5 1016.8,856.6 1017.4,856.6 1018,856.6 1018.6,856.6 1019.2,856.6 1019.8,856.6" fill="none" stroke="#2a2a2a" stroke-width="1.25"/>
<text x="773" y="762.2" font-family="'Liberation Sans', sans-serif" font-size="29.2" fill="#111" textLength="56" lengthAdjust="spacingAndGlyphs">Li<tspan font-size="19" dy="6">3</tspan><tspan dy="-6">N</tspan></text>
</svg>
</body></html>
